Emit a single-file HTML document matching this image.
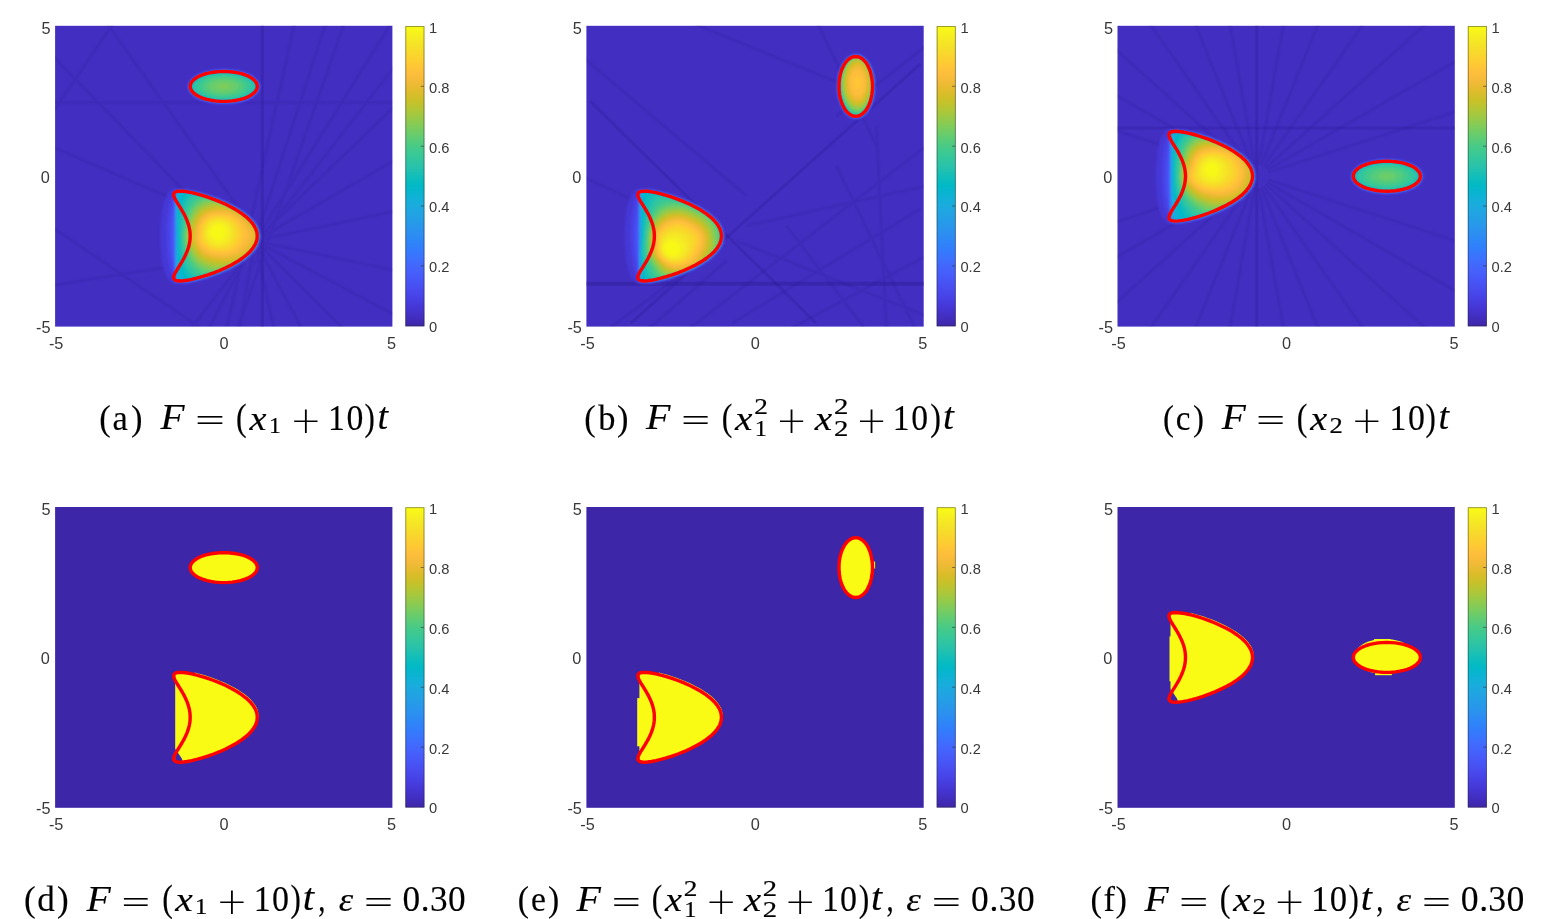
<!DOCTYPE html>
<html lang="en"><head><meta charset="utf-8"><title>Figure</title>
<style>html,body{margin:0;padding:0;background:#fff;}body{width:1551px;height:919px;overflow:hidden;}svg{display:block;}
.ax{font-family:"Liberation Sans",Arial,Helvetica,sans-serif;font-size:16.3px;fill:#383838;}
.cb{font-family:"Liberation Sans",Arial,Helvetica,sans-serif;font-size:14.7px;fill:#383838;}
.r{font-family:"Liberation Serif","Times New Roman",serif;font-size:36px;fill:#000;stroke:#000;stroke-width:.14px;}
.i{font-family:"Liberation Serif","Times New Roman",serif;font-size:36px;font-style:italic;fill:#000;stroke:#000;stroke-width:.14px;}
.s{font-family:"Liberation Serif","Times New Roman",serif;font-size:25px;fill:#000;stroke:#000;stroke-width:.24px;}
.p{font-family:"DejaVu Sans","Liberation Sans",sans-serif;font-weight:200;font-size:36px;fill:#000;}
</style></head><body>
<svg width="1551" height="919" viewBox="0 0 1551 919">
<defs>
<linearGradient id="cbar" x1="0" y1="0" x2="0" y2="1"><stop offset="0%" stop-color="#f9fb15"/><stop offset="3.1%" stop-color="#f6ef20"/><stop offset="6.2%" stop-color="#f5e327"/><stop offset="9.4%" stop-color="#f9d62d"/><stop offset="12.5%" stop-color="#feca33"/><stop offset="15.6%" stop-color="#febe3c"/><stop offset="18.8%" stop-color="#f1ba37"/><stop offset="21.9%" stop-color="#debc2a"/><stop offset="25%" stop-color="#c8c129"/><stop offset="28.1%" stop-color="#afc637"/><stop offset="31.2%" stop-color="#94ca4a"/><stop offset="34.4%" stop-color="#77cc60"/><stop offset="37.5%" stop-color="#5ccc76"/><stop offset="40.6%" stop-color="#44ca8a"/><stop offset="43.8%" stop-color="#34c79c"/><stop offset="46.9%" stop-color="#28c2ab"/><stop offset="50%" stop-color="#12beb9"/><stop offset="53.1%" stop-color="#01b9c6"/><stop offset="56.2%" stop-color="#0cb3d3"/><stop offset="59.4%" stop-color="#1aacdd"/><stop offset="62.5%" stop-color="#21a3e3"/><stop offset="65.6%" stop-color="#269ae9"/><stop offset="68.8%" stop-color="#2c90f0"/><stop offset="71.9%" stop-color="#2e85f8"/><stop offset="75%" stop-color="#347afd"/><stop offset="78.1%" stop-color="#3f6efe"/><stop offset="81.2%" stop-color="#4562fc"/><stop offset="84.4%" stop-color="#4757f7"/><stop offset="87.5%" stop-color="#484cef"/><stop offset="90.6%" stop-color="#4741e5"/><stop offset="93.8%" stop-color="#4536d5"/><stop offset="96.9%" stop-color="#422ebf"/><stop offset="100%" stop-color="#3e26a8"/></linearGradient>
<filter id="b1" filterUnits="userSpaceOnUse" x="0" y="0" width="1551" height="919"><feGaussianBlur stdDeviation="0.8"/></filter>
</defs>
<rect width="1551" height="919" fill="#fff"/>
<g id="p00">
<clipPath id="cp00"><rect x="55.1" y="25.8" width="337.3" height="300.8"/></clipPath>
<rect x="55.1" y="25.8" width="337.3" height="300.8" fill="#422fc2"/>
<g clip-path="url(#cp00)">
<g stroke="#2a1a90" fill="none"><path d="M50.1 102.6L400.1 102.6M255.1 240.8L409.6 -234.7M255.1 240.8L520.1 -183.2M255.1 240.8L614.8 -106.5M255.1 240.8L688.1 -9.2M255.1 240.8L744.2 136.8M255.1 240.8L744.2 344.8M255.1 240.8L696.6 475.5M255.1 240.8L608.7 594.4M255.1 240.8L489.8 682.3M255.1 240.8L359.1 729.9M255.1 240.8L168.3 733.2M255.1 240.8L20.4 682.3M47.1 49.8L255.1 263.8M105.1 20.8L251.1 225.8M295.1 20.8L225.1 335.8M345.1 20.8L235.1 335.8M395.1 65.8L185.1 335.8M50.1 145.8L235.1 225.8M50.1 225.8L205.1 330.8M115.1 20.8L50.1 115.8M50.1 285.8L175.1 265.8" stroke-width="4.5" stroke-opacity="0.07"/><path d="M50.1 102.6L400.1 102.6M255.1 240.8L409.6 -234.7M255.1 240.8L520.1 -183.2M255.1 240.8L614.8 -106.5M255.1 240.8L688.1 -9.2M255.1 240.8L744.2 136.8M255.1 240.8L744.2 344.8M255.1 240.8L696.6 475.5M255.1 240.8L608.7 594.4M255.1 240.8L489.8 682.3M255.1 240.8L359.1 729.9M255.1 240.8L168.3 733.2M255.1 240.8L20.4 682.3M47.1 49.8L255.1 263.8M105.1 20.8L251.1 225.8M295.1 20.8L225.1 335.8M345.1 20.8L235.1 335.8M395.1 65.8L185.1 335.8M50.1 145.8L235.1 225.8M50.1 225.8L205.1 330.8M115.1 20.8L50.1 115.8M50.1 285.8L175.1 265.8" stroke-width="1.8" stroke-opacity="0.09"/><path d="M262.4 20.8L262.4 335.8" stroke-width="3" stroke-opacity="0.3"/></g>
<g filter="url(#b1)">
<path d="M187.4 84.6 189.4 80.6 194.4 75.6 195.9 75.1 196.9 74.1 206.4 70.6 208.1 70.6 211.4 69.6 213.9 69.6 215.4 69.1 218.9 69.1 220.4 68.6 227.9 68.6 229.4 69.1 232.9 69.1 234.4 69.6 236.9 69.6 240.1 70.6 241.4 70.6 244.9 71.6 245.4 72.1 248.9 73.1 250.9 74.1 251.9 74.9 253.4 75.6 258.3 80.1 259.8 82.6 260.8 85.6 260.8 87.1 259.3 92.1 254.9 96.5 253.9 97 252.4 98.5 250.4 99.5 243.4 102.2 234.9 103.9 232.4 104 230.9 104.4 217.4 104.4 215.9 104 210.4 103.5 205.9 102.5 199.9 100.5 195.9 98.5 192.9 96.5 190.4 94.1 188.9 92.1 187.4 88.6ZM168.2 193.1 170.4 190.6 173.4 189.1 185.4 188.8 186.9 189.3 191.4 189.8 192.4 190.2 193.9 190.2 198.9 191.7 199.9 191.7 202.4 192.7 203.4 192.7 205.9 193.6 207.4 193.8 208.9 194.6 212.9 195.7 214.4 196.6 218.4 197.7 221.9 199.6 224.4 200.2 225.5 201.1 226.4 201.2 227.6 202.1 228.4 202.2 229.6 203.1 230.4 203.2 231.6 204.1 236.4 206.2 238.1 207.6 238.9 207.7 242.6 210.6 244.4 211.3 249.4 215.3 251.3 217.6 253.1 219.1 253.9 220.3 255.6 222.1 256.3 223.6 257.1 224.1 258.7 227.1 258.8 228.1 259.7 229.6 260.3 233.6 260.7 234.1 260.8 238.1 260.3 239.1 259.7 243.1 258.8 244.6 258.7 245.6 257.7 247.6 254.6 252.1 253.8 252.6 249.4 257.3 244.4 261.3 242.6 262 239.9 264.3 238.1 265 236.4 266.4 233.6 267.5 231.9 268.9 229 270 227.9 270.9 225.5 271.5 224.4 272.4 221.9 273 220.9 273.9 219.9 274 218.4 274.9 217.4 275 216.9 275.4 214.4 276 212.9 276.8 208.9 278 207.4 278.8 202.4 279.9 200.4 280.9 198.9 280.9 194.4 282.3 192.4 282.4 189.4 283.3 187.4 283.3 185.9 283.8 175.9 283.5 175.4 283.2 173.4 283.2 171.4 282.3 169.3 280.5 167.3 277.5 165.6 274 163.9 269 162.6 263.5 161.7 257.5 160.5 243.1 160.6 226.6 162 212.1 163.2 206.1 164.5 201.1 166.3 196.6Z" fill="#4538d7"/>
<path d="M188.1 85.1 188.3 84.1 190.2 80.6 194.4 76.4 195.9 75.8 197.4 74.6 205.9 71.4 207.9 71.3 210.9 70.4 213.9 70.3 215.4 69.8 218.9 69.8 220.4 69.3 227.9 69.4 229.4 69.8 232.9 69.8 234.4 70.3 237.4 70.4 240.4 71.3 241.9 71.4 244.3 72.1 245.4 72.8 247.9 73.4 249.4 74.3 250.4 74.6 253.4 76.4 257.5 80.1 258.9 82.1 260 85.6 260.1 87.1 259.5 89.6 258.5 92.1 254.9 95.7 252.4 97.7 247.2 100.1 242.9 101.7 241.4 101.7 238.4 102.7 236.4 102.7 235.4 103.2 232.4 103.2 231.4 103.7 217.4 103.7 215.9 103.2 213.4 103.2 211.9 102.7 209.9 102.7 206.9 101.8 205.4 101.7 203.4 100.8 200.4 100 199.4 99.3 196.4 98 192.9 95.7 189.3 91.6 188.1 88.6ZM173.9 190.7 174.9 190.1 176.9 189.5 185.9 189.4 186.9 189.8 188.9 189.8 192.4 190.7 193.9 190.8 199.9 192.2 202.4 193.1 203.4 193.1 205.9 194.1 206.9 194.1 208.9 195 218.4 198.2 221.9 199.9 224.4 200.6 225.4 201.4 236.9 206.9 237.9 207.8 239.4 208.4 242.4 210.8 243.9 211.4 249.1 215.6 252.9 219.3 257.1 224.6 259.5 230.1 260.5 235.1 260.5 238.1 260.1 239.1 260 240.6 258.3 245.6 257 248.1 254.5 251.6 249.1 257 243.9 261.2 242.4 261.8 239.4 264.2 237.9 264.8 236.9 265.7 233.4 267.2 232.4 268.2 228.9 269.7 227.9 270.4 225.4 271.2 224.4 271.9 221.9 272.7 220.9 273.4 208.9 277.5 207.4 278.3 202.4 279.5 200.4 280.4 198.9 280.4 194.4 281.8 192.4 281.8 189.4 282.7 187.4 282.8 185.9 283.2 176.9 283.1 174 282 173.4 281 173.2 278 171.5 274.5 170 270.5 168 262 166.6 250.1 166 236.6 166.5 222.6 167.9 210.6 169.7 202.6 171.3 198.1 173.2 194.1 173.4 191.6Z" fill="#4740e4"/>
<path d="M188.4 85.1 190.2 81.1 194.7 76.6 196.1 76.1 197.4 75 205.9 71.8 207.9 71.7 210.9 70.8 213.9 70.7 215.4 70.2 218.9 70.2 220.4 69.7 227.9 69.7 229.4 70.2 232.9 70.2 234.4 70.7 237.4 70.8 240.4 71.7 241.9 71.8 243.9 72.3 245.4 73.2 247.9 73.8 253 76.6 257.4 80.4 258.7 82.6 259.7 85.6 259.8 87.1 258.4 91.6 255.9 94.2 251.9 97.6 246.9 99.8 242.9 101.3 241.4 101.4 238.4 102.3 236.4 102.4 234.9 102.9 232.4 102.9 230.9 103.4 217.4 103.4 215.9 102.9 213.4 102.9 211.9 102.4 209.9 102.3 206.9 101.4 205.4 101.3 201.9 99.9 200.9 99.8 196.4 97.6 193.2 95.6 189.7 91.6 188.5 88.6ZM174.1 191.1 176.9 189.9 185.4 189.7 186.9 190.2 188.9 190.2 192.4 191.1 193.9 191.1 206.9 194.4 218.4 198.5 221.9 200.2 224.4 200.9 229.4 203.7 230.4 203.9 231.4 204.6 232.4 204.9 233.4 205.6 234.4 205.9 235.4 206.6 236.4 206.9 237.9 208.1 239.4 208.7 242.4 211.1 243.9 211.6 247.9 215.1 248.9 215.6 252.8 219.6 253.3 220.6 256.9 224.7 259.3 230.1 260.3 235.1 260.3 237.6 259.8 239.1 259.8 240.6 258.1 245.6 256.9 247.9 255.8 249.1 254.3 251.6 248.9 256.9 247.9 257.5 245.9 259.4 243.4 261.2 242.4 261.5 239.2 264 237.9 264.5 236.4 265.7 233.4 266.9 232.1 268 228.9 269.4 227.9 270.2 225.4 270.9 224.4 271.7 221.9 272.4 220.9 273.1 206.9 278.2 202.4 279.2 200.4 280.1 198.9 280.1 194.4 281.5 192.4 281.5 189.4 282.4 187.4 282.4 185.9 282.9 176.9 282.7 174.4 281.8 173.8 280.5 173.5 272 171.5 264 170.2 255.6 169.4 246.6 169.1 236.6 169.4 226.6 170.1 217.6 171.5 208.1 173.4 200.6 173.8 192.1Z" fill="#4849ed"/>
<path d="M188.8 85.1 190.6 81.1 194.9 76.8 196.4 76.3 197.9 75.1 205.9 72.1 207.9 72 210.9 71.1 213.9 71 215.4 70.5 218.9 70.5 220.4 70 227.9 70 229.4 70.5 232.9 70.5 234.4 71 237.4 71.1 240.4 72 241.9 72.1 243.9 72.6 245.4 73.5 247.9 74.1 248.9 74.8 250.4 75.3 252.9 76.8 257.1 80.6 258.3 82.6 259.3 85.6 259.4 87.1 258.1 91.6 255.4 94.3 251.9 97.2 246.9 99.5 242.9 101 241.3 101.1 238.4 102 236.3 102.1 235.4 102.5 232.3 102.6 231.4 103 217.4 103 215.9 102.6 213.4 102.5 211.9 102.1 209.9 102 206.9 101.1 205.4 101 201.9 99.6 200.9 99.5 199.9 98.7 196.4 97.2 193.4 95.3 190.1 91.6 188.9 88.6ZM174.4 191.2 176.9 190.2 185.9 190.1 186.9 190.5 188.4 190.5 192.4 191.4 193.9 191.4 206.9 194.7 217.9 198.6 221.9 200.4 224.4 201.2 233.4 205.9 234.4 206.1 235.4 206.9 236.4 207.1 237.9 208.4 238.9 208.6 242.4 211.3 243.9 211.9 248.9 215.9 252.5 219.6 256.8 225.1 259 230.1 260.1 235.1 260.1 237.6 259.6 239.1 259.5 240.6 258.9 243 256.8 247.6 254 251.6 248.9 256.6 247.9 257.2 245.9 259.1 243.4 261 242.4 261.2 238.9 264 237.9 264.2 236.4 265.5 233.4 266.7 231.9 267.9 230.9 268.2 227.9 269.9 225.4 270.6 224.4 271.4 221.9 272.1 220.9 272.8 206.9 277.9 202.4 278.9 200.4 279.7 198.9 279.8 194.4 281.1 192.4 281.2 189.4 282 187.4 282 185.9 282.5 176.9 282.4 174.5 281.5 174.1 280.5 173.9 264.4 173 260.5 172 252.6 171.3 236.6 172 220.1 172.9 212.1 173.9 207.8 174 192.1Z" fill="#4852f4"/>
<path d="M189 85.1 190.9 81.1 195 77.1 196.4 76.6 197.9 75.3 198.9 75.1 200.4 74.3 202.9 73.6 205.9 72.3 208.4 72.1 211.4 71.2 213.9 71.2 215.4 70.7 218.9 70.7 220.4 70.2 227.9 70.2 229.4 70.7 232.9 70.7 234.4 71.2 236.9 71.2 239.9 72.1 241.9 72.3 242.4 72.7 243.9 72.8 244.9 73.6 247.9 74.3 248.9 75.1 249.9 75.3 252.7 77.1 256.9 80.7 258.1 82.6 259.1 85.6 259.2 87.1 258.1 91.1 254.9 94.4 251.4 97.3 250.4 97.4 249.4 98.3 248.4 98.4 246.9 99.3 244.4 99.9 242.9 100.8 240.9 100.9 238.4 101.8 235.9 101.9 234.9 102.3 231.9 102.4 230.9 102.8 217.4 102.8 216.4 102.4 213.4 102.3 212.4 101.9 209.9 101.8 207.4 100.9 205.4 100.8 202.4 99.4 200.9 99.3 199.9 98.4 198.9 98.3 196.9 97.3 193.5 95.1 190.1 91.1 189.1 88.6ZM174.4 191.6 174.9 191.1 176.9 190.4 185.4 190.3 186.4 190.7 188.4 190.7 189.4 191.1 191.4 191.2 191.9 191.6 193.9 191.7 206.9 195 217.9 198.8 221.5 200.6 224.4 201.5 225.1 202.1 236.4 207.4 237.8 208.6 238.9 208.9 241.9 211.3 243.4 211.9 248.6 216.1 252.4 219.8 256.6 225.1 258.8 230.1 259.4 233.6 259.8 234.6 259.9 237.6 258.8 242.6 256.6 247.6 253.9 251.3 252.9 252 251.4 253.8 248.6 256.5 243.4 260.7 242.2 261 238.9 263.7 237.7 264 236.4 265.2 233.1 266.5 231.9 267.6 230.6 268 227.4 269.8 224.9 270.5 223.9 271.3 221.4 272 220.4 272.8 206.9 277.6 202.4 278.6 200.4 279.5 196.5 280 194.4 280.9 191.9 281 189.4 281.8 186.9 281.9 185.9 282.3 176.9 282.2 174.9 281.5 174.3 280.5 174 257 173.2 246.1 172.9 237.1 173.1 226.6 174 215.6Z" fill="#475bf9"/>
<path d="M189.2 85.1 190.9 81.5 195.3 77.1 196.4 76.8 197.9 75.5 198.9 75.4 200.4 74.5 202.9 73.9 205.9 72.5 208.4 72.4 211.4 71.4 214.4 71.4 215.4 70.9 219.4 70.9 220.4 70.4 227.9 70.4 228.9 70.9 232.9 70.9 233.9 71.4 236.9 71.4 239.9 72.4 241.4 72.4 242.4 72.9 243.9 73 244.9 73.9 246.4 74 247.9 74.5 248.9 75.4 249.9 75.5 250.9 76.4 252.4 77.1 256.9 81 257.9 82.6 258.9 85.6 259 87.1 257.9 91.1 254.4 94.6 251.4 97 250.4 97.2 249.4 98 248.4 98.2 246.9 99 244.4 99.7 242.4 100.7 240.9 100.7 237.9 101.7 235.9 101.7 234.9 102.2 231.9 102.2 230.9 102.6 217.4 102.7 216.4 102.2 213.4 102.2 212.4 101.7 210.4 101.7 207.4 100.7 205.4 100.6 202.4 99.2 200.9 99 199.9 98.2 198.9 98.1 196.9 97.1 193.8 95.1 190.3 91.1 189.2 88.1ZM174.7 191.6 176.9 190.6 185.4 190.5 186.4 190.9 188.4 190.9 189.4 191.3 193.9 191.9 194.4 192.2 199.9 193.3 201.9 194.1 203.4 194.2 205.4 195.1 206.9 195.2 208.4 196 217.9 199.1 221.4 200.8 224 201.6 228.9 204.2 230.4 204.7 230.9 205.2 232.4 205.7 232.9 206.1 234.4 206.6 234.9 207.1 236.4 207.6 237.4 208.6 238.9 209.1 241.9 211.6 243.4 212.1 247.4 215.6 248.4 216.1 252.3 220.1 252.8 221.1 256.3 225.1 258.6 230.1 259.6 235.1 259.6 237.6 259.1 239.1 259.1 240.6 257.3 245.6 256.3 247.6 255.3 248.6 253.8 251.1 248.4 256.5 247.4 257 245.4 259 243.4 260.5 241.9 261 238.9 263.4 237.4 263.9 236.4 264.9 232.9 266.4 231.9 267.4 228.4 268.9 227.9 269.3 224.9 270.3 223.9 271 221.4 271.8 220.4 272.5 208.4 276.5 206.9 277.4 201.9 278.5 200.4 279.3 198.4 279.4 194.4 280.7 191.9 280.8 188.9 281.7 186.9 281.7 185.9 282.1 176.9 281.9 174.9 281.2 174.5 280.5Z" fill="#4564fd"/>
<path d="M189.4 85.1 191 81.6 195.4 77.2 196.4 77.1 197.9 75.7 198.9 75.6 200.4 74.7 202.9 74.1 206.4 72.6 208.4 72.6 211.4 71.6 214.4 71.6 215.4 71.1 219.4 71.1 220.4 70.6 227.9 70.6 228.9 71.1 232.9 71.1 233.9 71.6 236.9 71.6 239.9 72.6 241.4 72.6 242.4 73.1 243.9 73.3 244.9 74.1 246.4 74.2 247.9 74.8 248.9 75.6 249.9 75.7 250.8 76.6 252.4 77.2 256.7 81.1 257.7 82.6 258.8 86.1 258.8 87.1 257.7 91.1 253.9 94.8 252.9 95.4 251.4 96.8 250.4 97 249.4 97.8 248.4 98 246.9 98.8 244.4 99.5 242.4 100.5 240.9 100.5 237.9 101.5 235.9 101.5 234.9 102 231.9 102 230.9 102.5 217.4 102.5 216.4 102 213.4 102 212.4 101.5 210.4 101.5 207.4 100.5 205.9 100.5 202.4 99 200.9 98.8 199.9 98 198.9 97.8 196.9 96.8 193.9 94.9 190.5 91.1 189.4 88.1ZM174.9 191.7 176.9 190.9 185.4 190.7 186.4 191.1 188.4 191.1 189.4 191.6 193.7 192.1 194.4 192.4 199.9 193.5 201.9 194.3 203.4 194.4 205.4 195.2 206.9 195.4 208.4 196.2 217.9 199.2 221.4 201 223.9 201.7 224.9 202.5 225.9 202.7 226.9 203.4 227.9 203.6 228.9 204.4 229.9 204.6 230.9 205.4 231.9 205.6 232.9 206.4 235.9 207.6 237.4 208.9 238.9 209.4 241.9 211.8 243.4 212.4 247.4 215.8 248.4 216.4 252.1 220.1 252.6 221.1 254.6 223.1 255.3 224.6 256.1 225.1 258.3 230.1 259.4 235.1 259.4 237.6 258.9 239.1 258.8 240.6 258.3 242.6 256.3 247.1 253.5 251.1 252.7 251.6 248.4 256.2 247.4 256.7 245.4 258.7 243.4 260.2 241.9 260.7 238.9 263.2 237.4 263.7 235.9 265 232.9 266.1 231.4 267.4 230.4 267.6 229.4 268.4 228.4 268.6 227.4 269.4 224.9 270.1 223.9 270.9 221.4 271.5 220.4 272.4 219.4 272.5 217.9 273.3 208.4 276.4 206.9 277.2 201.9 278.3 200.4 279.1 196.4 279.6 193.9 280.6 191.9 280.5 188.9 281.5 186.9 281.4 185.9 281.9 176.9 281.7 175.1 281 174.8 280.5Z" fill="#406dfe"/>
<path d="M189.5 85.1 191.2 81.6 195.4 77.5 196.7 77.1 197.9 76 206.4 72.8 208.4 72.7 211.4 71.8 214.4 71.7 215.4 71.3 219.4 71.2 220.4 70.8 227.9 70.8 228.9 71.3 232.9 71.3 233.9 71.8 236.9 71.8 239.9 72.8 241.4 72.8 243.9 73.5 244.9 74.3 247.4 74.8 248.9 75.8 249.9 76 252.4 77.5 256.4 81.1 257.6 83.1 258.6 86.1 258.6 87.1 257.4 91.1 253.9 94.6 252.9 95.1 251.4 96.6 250.4 96.8 249.4 97.6 242.4 100.3 240.9 100.3 237.9 101.3 235.9 101.3 234.9 101.8 231.9 101.8 230.9 102.3 217.4 102.3 216.4 101.8 213.4 101.8 212.4 101.3 210.4 101.3 207.4 100.3 205.9 100.3 203.9 99.3 200.9 98.6 199.9 97.8 196.9 96.6 193.9 94.6 190.7 91.1 189.6 88.1ZM174.9 192.1 175.4 191.6 176.4 191.6 176.9 191.1 185.4 190.9 186.4 191.3 188.4 191.3 189.4 191.7 193.4 192.2 194.4 192.6 195.4 192.6 196.4 193.1 199.9 193.7 201.9 194.5 203.4 194.6 205.4 195.4 206.9 195.5 208.4 196.4 217.9 199.4 221.4 201.2 223.9 201.8 224.9 202.7 225.9 202.8 226.9 203.6 227.9 203.8 228.9 204.6 229.9 204.8 230.9 205.6 231.9 205.8 234.9 207.6 235.9 207.8 237.4 209.1 238.8 209.6 241.9 212.1 242.9 212.2 247.3 216.1 248.3 216.6 251.9 220.1 252.4 221.1 254.4 223.1 255.2 224.6 256.2 225.6 258.2 230.1 258.9 234 259.2 234.6 259.3 237.6 258.2 242.6 256.2 247.1 254.8 248.6 253.4 251 252.4 251.5 251.9 252.5 248.3 256 247.3 256.5 243.3 260 241.9 260.5 238.7 263 237.4 263.5 235.9 264.8 234.9 265 233.9 265.8 232.9 266 231.4 267.3 230.4 267.4 229.4 268.3 228.4 268.4 227.4 269.3 224.9 269.9 223.9 270.7 221.4 271.4 220.4 272.2 213.9 274.3 212.4 275.1 208.4 276.2 206.9 277 205.4 277.1 202.9 278.1 201.9 278.1 199.9 279 198.4 279 197.4 279.5 196.4 279.5 193.9 280.4 191.9 280.4 188.9 281.3 186.9 281.2 185.9 281.7 176.9 281.5 176.4 281 175.4 281 174.9 280.5Z" fill="#3777fe"/>
<path d="M189.7 85.1 191.4 81.8 195.6 77.6 196.9 77.2 198.1 76.1 203.4 74.3 204.9 73.5 206.4 73 208.4 72.9 211.4 72 214.4 71.9 215.4 71.4 219.4 71.4 220.4 71 227.9 71 228.9 71.4 232.9 71.5 233.9 71.9 236.9 72 239.9 72.9 241.4 73 242.4 73.4 243.6 73.6 244.4 74.3 247.4 75 248.4 75.8 249.6 76.1 250.4 76.8 252.1 77.6 256.4 81.3 257.5 83.1 258.4 86.1 258.4 87.1 257.4 90.8 253.6 94.6 252.9 94.8 251 96.6 249.9 96.8 249 97.6 243.9 99.2 242.4 100.1 240.4 100.2 237.9 101.1 235.9 101.1 234.9 101.6 231.9 101.6 230.9 102.1 217.4 102.1 216.4 101.6 213.4 101.6 212.4 101.1 210.4 101.1 207.4 100.1 205.9 100.1 204.4 99.3 201.4 98.6 200.4 97.8 199.4 97.6 197.1 96.6 194.1 94.6 190.9 90.8 189.7 88.1ZM175.1 192.1 175.4 191.8 176.4 191.7 176.9 191.2 185.4 191.1 185.9 191.5 188.4 191.5 189.4 191.9 193.4 192.3 194.4 192.8 199.4 193.7 201.9 194.7 202.9 194.6 205.4 195.6 206.9 195.7 208.4 196.5 217.9 199.5 221.4 201.4 223.9 202 224.9 202.8 225.9 203 226.9 203.8 227.9 203.9 228.9 204.8 229.9 204.9 230.9 205.8 231.9 205.9 234.9 207.7 235.9 207.9 237.4 209.2 238.6 209.6 241.9 212.2 242.9 212.4 247.1 216.1 248.1 216.6 251.9 220.3 252.4 221.3 254.4 223.3 255 224.6 256 225.6 258.1 230.1 258.7 234.1 259.1 235.1 259.1 237.6 258.7 238.6 258 242.6 256 247.1 254.7 248.6 253.4 250.8 252.4 251.4 251.9 252.3 248.1 256 247.1 256.5 243.1 260 241.9 260.3 238.4 263.2 237.4 263.3 235.9 264.7 234.9 264.8 233.9 265.7 232.9 265.8 231.4 267.1 230.4 267.3 229.4 268.1 228.4 268.3 227.4 269.1 224.9 269.7 223.9 270.6 221.4 271.2 220.4 272 213.9 274.1 212.4 274.9 208.4 276 206.9 276.8 205.4 276.9 202.9 277.9 201.9 277.9 199.9 278.8 198.4 278.8 197.4 279.3 196.4 279.3 193.9 280.2 191.9 280.2 190.9 280.6 189.4 280.7 188.9 281.1 186.4 281 185.9 281.5 176.9 281.3 176.4 280.8 175.4 280.8 175.1 280.5Z" fill="#2f80fa"/>
<path d="M189.9 85.1 191.4 82.6 191.4 82.1 195.9 77.6 196.9 77.6 198.4 76.1 199.4 76.1 200.9 75.1 201.9 75.1 202.4 74.6 203.4 74.6 204.9 73.6 205.9 73.6 206.4 73.1 208.9 73.1 209.4 72.6 210.9 72.6 211.4 72.1 214.9 72.1 215.4 71.6 219.9 71.6 220.4 71.1 227.9 71.1 228.4 71.6 232.9 71.6 233.4 72.1 236.9 72.1 237.4 72.6 238.9 72.6 239.4 73.1 241.4 73.1 241.9 73.6 243.4 73.6 244.4 74.6 245.9 74.6 246.4 75.1 247.4 75.1 248.4 76.1 249.4 76.1 250.4 77.1 251.9 77.6 256.3 81.6 256.3 82.1 257.3 83.1 257.8 85.6 258.3 86.1 258.3 87.1 257.8 87.6 257.8 89.1 257.3 89.6 257.3 90.6 253.4 94.5 252.9 94.5 250.9 96.5 249.9 96.5 248.9 97.5 247.9 97.5 246.4 98.5 245.4 98.5 244.9 99 243.9 99 242.4 100 240.4 100 239.9 100.5 238.4 100.5 237.9 101 235.4 101 234.9 101.5 231.4 101.5 230.9 102 217.4 102 216.9 101.5 213.4 101.5 212.9 101 210.4 101 209.9 100.5 208.4 100.5 207.9 100 205.9 100 204.4 99 203.4 99 202.9 98.5 201.4 98.5 200.4 97.5 199.4 97.5 197.9 96.5 197.4 96.5 194.9 94.5 194.4 94.5 190.9 90.6 190.9 90.1 190.4 89.6 190.4 88.6 189.9 88.1ZM175.2 192.1 176.4 191.9 176.9 191.4 185.4 191.2 185.9 191.7 188.4 191.6 188.9 192.1 190.9 192.1 191.4 192.6 193.4 192.5 193.9 192.9 195.4 193 196.4 193.4 199.4 193.9 201.9 194.8 202.9 194.8 205.4 195.7 206.4 195.7 208.4 196.7 212.4 197.8 213.9 198.6 217.9 199.7 221.4 201.5 223.9 202.1 224.9 203 225.9 203.1 226.9 204 227.9 204.1 230.9 205.9 231.9 206.1 232.9 206.9 233.9 207.1 234.9 207.9 235.9 208 237.4 209.4 238.4 209.6 241.9 212.4 242.9 212.5 246.9 216.1 247.9 216.6 251.9 220.5 252.4 221.5 255.9 225.6 257.9 230.1 258.1 231.6 258.5 232.6 258.6 234.1 259 235.1 259 237.6 258.6 238.6 258.5 240.1 258.1 241.1 257.9 242.6 255.9 247.1 254.9 248.1 253.4 250.6 252.4 251.2 250.9 253.1 247.9 256 246.9 256.5 242.9 260 241.9 260.2 238.4 263 237.4 263.2 235.9 264.5 234.9 264.7 233.9 265.5 232.9 265.6 231.4 267 230.4 267.1 227.4 268.9 224.9 269.6 223.9 270.4 221.4 271 220.4 271.9 219.4 272 217.9 272.8 213.9 273.9 212.4 274.7 208.4 275.8 206.4 276.8 205.4 276.8 202.9 277.7 201.9 277.7 199.9 278.7 198.4 278.7 197.4 279.1 195.9 279.2 195.4 279.6 194.4 279.6 193.9 280 191.4 280 190.9 280.5 189.4 280.5 188.9 281 186.4 280.9 185.9 281.4 176.9 281.2 176.4 280.7 175.4 280.7Z" fill="#2d89f5"/>
<path d="M190 85.1 191.5 82.6 191.5 82.1 195.9 77.7 196.9 77.7 198.4 76.2 199.4 76.2 200.9 75.2 201.9 75.2 202.4 74.7 203.4 74.7 204.9 73.7 205.9 73.7 206.4 73.2 208.9 73.2 209.4 72.7 210.9 72.7 211.4 72.2 214.9 72.2 215.4 71.7 219.9 71.7 220.4 71.2 227.9 71.2 228.4 71.7 232.9 71.7 233.4 72.2 236.9 72.2 237.4 72.7 238.9 72.7 239.4 73.2 241.4 73.2 241.9 73.7 243.4 73.7 244.4 74.7 245.9 74.7 246.4 75.2 247.4 75.2 248.4 76.2 249.4 76.2 250.4 77.2 251.9 77.7 254.4 80.2 254.9 80.2 256.2 81.6 256.2 82.1 257.2 83.1 257.7 85.6 258.2 86.1 258.2 87.1 257.7 87.6 257.7 89.1 257.2 89.6 257.2 90.6 253.4 94.4 252.9 94.4 250.9 96.4 249.9 96.4 248.9 97.4 247.9 97.4 246.4 98.4 245.4 98.4 244.9 98.9 243.9 98.9 242.4 99.8 240.4 99.9 239.9 100.4 238.4 100.4 237.9 100.8 235.4 100.9 234.9 101.3 231.4 101.4 230.9 101.8 217.4 101.9 216.9 101.4 213.4 101.4 212.9 100.9 210.4 100.9 209.9 100.4 208.4 100.4 207.9 99.9 205.9 99.9 204.4 98.9 203.4 98.9 202.9 98.4 201.4 98.4 200.4 97.4 199.4 97.4 197.9 96.4 197.4 96.4 194.9 94.4 194.4 94.4 191 90.6 191 90.1 190.5 89.6 190.5 88.6 190 88.1ZM175.5 192.1 176.4 192 176.9 191.5 185.4 191.3 185.9 191.8 188.4 191.7 188.9 192.2 190.9 192.2 191.4 192.7 193.4 192.6 193.9 193.1 195.4 193.1 195.9 193.6 197.4 193.6 197.9 194.1 199.4 194 201.4 194.9 202.9 195 205.4 195.9 206.4 195.9 208.4 196.8 217.9 199.9 221.4 201.7 223.9 202.3 226.9 204.1 227.9 204.2 228.9 205.1 229.9 205.2 230.9 206.1 231.9 206.2 232.9 207.1 233.9 207.2 234.9 208 235.9 208.2 237.4 209.5 238.4 209.7 241.9 212.5 242.9 212.7 246.9 216.2 247.9 216.7 251.7 220.6 252.2 221.6 254.2 223.6 254.9 224.9 255.7 225.6 257.9 230.3 257.9 231.6 258.4 232.6 258.4 234.1 258.9 235.1 258.9 237.6 258.4 238.6 258.4 240.1 256.7 245.1 255.7 247.1 254.7 248.1 253.2 250.6 252.4 251.1 251.7 252.1 247.9 255.9 246.9 256.4 244.9 258.4 242.9 259.9 241.8 260 238.4 262.9 237.4 263 235.9 264.4 234.9 264.5 233.9 265.3 232.9 265.5 231.4 266.8 230.4 267 229.4 267.8 228.4 268 227.4 268.8 224.9 269.4 223.9 270.2 221.4 270.9 220.4 271.7 213.9 273.8 211.9 274.7 207.9 275.9 206.4 276.6 204.9 276.7 202.9 277.6 201.4 277.6 199.9 278.5 197.9 278.5 197.4 279 195.9 279 195.4 279.5 194.4 279.4 193.9 279.9 191.4 279.9 190.9 280.4 189.4 280.3 188.9 280.8 186.4 280.8 185.9 281.3 176.9 281 176.4 280.5 175.9 280.5 175.4 280 175.3 264.5Z" fill="#2b91ef"/>
<path d="M190.1 85.1 191.6 82.6 191.6 82.1 195.9 77.8 196.9 77.8 198.4 76.3 199.4 76.3 200.9 75.3 201.9 75.3 202.4 74.8 203.4 74.8 204.9 73.8 205.9 73.8 206.4 73.3 208.9 73.3 209.4 72.8 210.9 72.8 211.4 72.3 214.9 72.3 215.4 71.8 219.9 71.8 220.4 71.3 227.9 71.3 228.4 71.8 232.9 71.8 233.4 72.3 236.9 72.3 237.4 72.8 238.9 72.8 239.4 73.3 241.4 73.3 241.9 73.8 243.4 73.8 244.4 74.8 245.9 74.8 246.4 75.3 247.4 75.3 248.4 76.3 249.4 76.3 250.4 77.3 251.9 77.8 254.4 80.3 254.9 80.3 256.1 81.6 256.1 82.1 257.1 83.1 257.6 85.6 258.1 86.1 258.1 87.1 257.6 87.6 257.6 89.1 257.1 89.6 257 90.6 253.4 94.2 252.9 94.3 250.9 96.2 249.9 96.3 248.9 97.2 247.9 97.3 246.4 98.2 245.4 98.3 244.9 98.7 243.9 98.8 242.4 99.7 240.4 99.8 239.9 100.2 238.4 100.3 237.9 100.7 235.4 100.8 234.9 101.2 231.4 101.3 230.9 101.7 217.4 101.7 216.9 101.3 213.4 101.2 212.9 100.8 210.4 100.7 209.9 100.3 208.4 100.2 207.9 99.8 205.9 99.7 204.4 98.8 203.4 98.8 202.9 98.3 201.4 98.2 200.4 97.3 199.4 97.2 197.9 96.3 197.4 96.3 194.9 94.3 194.4 94.3 191.1 90.6 191.1 90.1 190.6 89.6 190.6 88.6 190.1 88.1ZM175.7 192.6 177.4 191.8 185.4 191.4 185.9 191.9 188.4 191.9 188.9 192.3 190.9 192.3 191.4 192.8 193.4 192.8 193.9 193.2 195.4 193.2 195.9 193.7 197.4 193.7 197.9 194.2 199.4 194.1 199.9 194.6 200.9 194.6 201.4 195.1 202.9 195.1 203.4 195.6 204.4 195.6 204.9 196.1 206.4 196 207.9 196.9 211.9 197.9 213.9 198.9 217.9 200 221.4 201.8 223.9 202.5 226.9 204.2 227.9 204.4 228.9 205.2 229.9 205.4 230.9 206.2 231.9 206.4 232.9 207.2 233.9 207.4 234.9 208.2 235.9 208.3 237.2 209.6 238.4 209.8 241.7 212.6 242.9 212.8 246.9 216.3 247.9 216.8 249.9 219.1 251.6 220.6 252.1 221.6 254.1 223.6 254.8 225.1 255.6 225.6 257.6 230.1 257.8 231.6 258.3 232.6 258.3 234.1 258.8 235.1 258.8 237.6 258.3 238.6 258.3 240.1 257.8 241.1 257.6 242.6 255.6 247.1 254.6 248.1 253.1 250.6 252.2 251.1 251.6 252.1 249.4 254.3 242.9 259.7 241.6 260 238.4 262.7 237.4 262.9 235.9 264.2 232.9 265.4 231.4 266.7 230.4 266.8 227.4 268.6 224.9 269.3 223.9 270.1 221.4 270.8 220.3 271.5 213.4 273.8 211.9 274.6 209.4 275.1 208.9 275.5 207.9 275.5 206.4 276.5 204.9 276.5 204.4 277 203.4 277 202.9 277.5 201.4 277.4 199.9 278.4 197.9 278.4 197.4 278.9 195.9 278.9 195.4 279.3 194.4 279.3 193.9 279.8 191.4 279.8 190.9 280.2 189.4 280.2 188.9 280.7 186.4 280.6 185.9 281.1 177.4 280.7 175.9 280.1 175.5 253.6 175.9 236.1 175.5 219.6Z" fill="#2699e9"/>
<path d="M190.2 85.1 191.7 82.6 191.7 82.1 195.9 78 196.9 77.9 198.4 76.5 199.4 76.4 200.9 75.4 201.9 75.4 202.4 74.9 203.4 74.9 204.9 73.9 205.9 73.9 206.4 73.5 208.9 73.4 209.4 72.9 210.9 72.9 211.4 72.4 214.9 72.4 215.4 71.9 219.9 71.9 220.4 71.4 227.9 71.5 228.4 71.9 232.9 71.9 233.4 72.4 236.9 72.5 237.4 72.9 238.9 72.9 239.4 73.4 241.4 73.5 241.9 73.9 243.4 74 244.4 74.9 245.9 75 246.4 75.4 247.4 75.5 248.4 76.4 249.4 76.5 250.4 77.4 251.9 78 254.4 80.4 254.9 80.5 255.9 81.6 256 82.1 256.9 83.1 257.4 85.6 257.9 86.1 257.9 87.1 257.4 87.6 257.4 89.1 256.9 89.6 256.9 90.6 253.4 94.1 252.9 94.1 250.9 96.1 249.9 96.1 248.9 97.1 247.9 97.1 246.4 98.1 245.4 98.1 244.9 98.6 243.9 98.6 242.4 99.6 240.4 99.6 239.9 100.1 238.4 100.1 237.9 100.6 235.4 100.6 234.9 101.1 231.4 101.1 230.9 101.6 217.4 101.6 216.9 101.1 213.4 101.1 212.9 100.7 210.4 100.6 209.9 100.1 208.4 100.1 207.9 99.7 205.9 99.6 204.4 98.7 203.4 98.6 202.9 98.2 201.4 98.1 200.4 97.2 199.4 97.1 197.9 96.1 197.4 96.1 194.9 94.2 194.4 94.1 191.3 90.6 191.2 90.1 190.8 89.6 190.7 88.6 190.2 88.1ZM176.1 193.1 177.9 192.2 185.4 191.6 185.9 192 188.4 192 188.9 192.5 190.9 192.4 191.4 192.9 193.4 192.9 193.9 193.3 195.4 193.3 195.9 193.8 197.4 193.8 197.9 194.3 199.4 194.2 199.9 194.7 200.9 194.7 201.4 195.2 202.9 195.2 203.4 195.7 204.4 195.7 204.9 196.2 206.4 196.1 207.9 197.1 208.9 197.1 209.4 197.6 211.9 198.1 213.4 199 214.4 199 214.9 199.4 217.4 200 220.9 201.7 223.7 202.6 224.4 203.1 227.8 204.6 230.9 206.3 231.9 206.5 232.9 207.3 233.9 207.5 234.9 208.3 235.9 208.5 237 209.6 238.4 210 241.5 212.6 242.9 213 246.9 216.5 247.9 217 249.9 219.3 251.4 220.6 252 221.6 253.9 223.6 254.6 225.1 255.5 225.6 257.7 230.6 257.7 231.6 258.2 232.6 258.2 234.1 258.7 235.1 258.7 237.6 258.2 238.6 258.2 240.1 257.7 241.1 257.7 242.1 255.4 247.1 254.4 248.1 252.9 250.6 252 251.1 251.4 252.1 249.4 254.1 242.9 259.6 241.4 260 238.4 262.6 237.4 262.8 235.8 264 232.4 265.5 231.3 266.5 227.9 267.9 226.9 268.7 224.4 269.3 223.4 270.1 220.9 270.7 219.9 271.5 218.9 271.6 217.4 272.6 216.4 272.5 215.9 273 214.9 273 214.4 273.5 213.4 273.5 211.9 274.5 209.4 275 208.9 275.4 207.9 275.4 206.4 276.4 204.9 276.4 204.4 276.9 203.4 276.9 202.9 277.4 201.4 277.3 199.9 278.3 197.9 278.3 197.4 278.8 195.9 278.7 195.4 279.2 194.4 279.2 193.9 279.7 191.4 279.6 190.9 280.1 189.4 280.1 188.9 280.6 186.4 280.5 185.4 280.9 177.9 280.3 176.4 279.7 175.8 253.6 176.2 236.1 175.8 219.6Z" fill="#23a1e5"/>
<path d="M190.4 85.6 191.9 82.1 195.9 78.1 196.9 78 198.4 76.7 199.4 76.5 200.9 75.6 203.4 75 203.9 74.6 205.9 74 206.4 73.6 208.9 73.5 209.4 73.1 210.9 73 211.4 72.6 214.9 72.5 215.4 72.1 219.9 72 220.9 71.6 227.4 71.6 228.4 72 232.4 72.1 233.4 72.5 236.9 72.6 237.4 73 238.9 73.1 239.4 73.5 241.4 73.7 241.9 74.1 243.4 74.2 244.4 75 245.9 75.2 246.4 75.6 247.4 75.7 248.4 76.5 249.4 76.7 250.3 77.6 251.9 78.2 255.7 81.6 256.7 83.1 257.8 86.6 256.6 90.6 254.2 93.1 250.9 95.8 249.7 96.1 248.9 96.8 246.4 97.8 243.9 98.5 241.9 99.4 240.4 99.5 237.4 100.4 235.4 100.5 234.4 100.9 231.4 101 230.4 101.4 217.9 101.4 216.9 101 213.9 101 212.9 100.5 210.9 100.5 207.9 99.5 205.9 99.3 202.9 98 201.4 97.8 200.4 97.1 199.4 96.9 197.4 95.9 194.4 93.9 191.5 90.6 190.4 88.1ZM176.9 193.3 178.4 192.5 184.9 192 185.9 192.4 187.9 192.2 188.9 192.6 190.9 192.5 191.4 193 193.4 193 193.9 193.5 195.4 193.4 195.9 193.9 197.4 193.9 197.9 194.4 199.4 194.4 199.9 194.8 200.9 194.8 201.4 195.3 202.9 195.3 203.4 195.8 204.4 195.8 204.9 196.2 206.4 196.2 207.9 197.2 208.9 197.2 209.4 197.7 211.9 198.2 213.4 199.1 214.4 199.1 214.9 199.6 217.4 200.1 220.9 202 223.4 202.6 224.4 203.4 225.5 203.6 226.4 204.4 227.5 204.6 228.4 205.3 229.6 205.6 230.4 206.3 231.6 206.6 232.4 207.3 235.7 208.6 236.9 209.7 238.2 210.1 241.4 212.7 242.7 213.1 246.9 216.7 247.7 217.1 251.4 220.7 251.8 221.6 253.9 223.6 254.5 225.1 255.4 225.6 257.5 230.6 257.5 231.6 258 232.6 258.1 234.1 258.5 235.1 258.5 237.6 258 238.6 258 240.1 257.5 241.1 257.5 242.1 255.4 246.9 254.2 248.1 252.9 250.4 251.9 250.9 251.4 251.9 249.4 253.9 242.6 259.5 241.4 259.9 238.1 262.5 236.9 262.8 235.5 264 234.4 264.2 233.4 265.1 232.4 265.2 230.9 266.5 229.9 266.6 228.9 267.6 227.9 267.6 226.9 268.5 224.4 269 223.4 270 220.9 270.5 219.9 271.5 218.9 271.5 217.4 272.5 214.9 272.9 214.4 273.4 213.4 273.4 211.9 274.4 209.4 274.9 208.9 275.3 207.9 275.3 206.4 276.3 204.9 276.3 204.4 276.8 203.4 276.8 202.9 277.3 201.4 277.2 199.9 278.2 197.9 278.2 197.4 278.7 195.9 278.6 195.4 279.1 194.4 279.1 193.9 279.6 191.4 279.5 188.4 280.3 186.4 280.1 185.4 280.5 179.3 280 177.6 279.5 177 279 176.6 274.5 176.1 255.6 176.6 236.1 176.2 223.6 176.4 198.6Z" fill="#1da8e0"/>
<path d="M190.7 85.6 192.5 82.1 195.9 78.7 197.4 78.1 198.9 76.9 206.9 73.9 208.9 73.8 211.9 72.8 214.9 72.8 215.9 72.3 219.9 72.3 220.9 71.9 227.4 71.9 228.4 72.3 232.4 72.3 233.4 72.8 236.4 72.9 239.4 73.8 242.9 74.4 244.4 75.3 246.9 75.9 251.6 78.6 253.9 80.7 254.9 81.2 256.5 83.6 257.4 86.6 256.4 90.2 253.4 93.3 250.4 95.6 249.4 95.9 248.4 96.7 241.9 99.1 240.4 99.2 237.4 100.2 235.4 100.2 234.4 100.7 231.4 100.7 230.4 101.1 217.9 101.2 216.9 100.7 213.9 100.7 212.9 100.2 210.9 100.2 207.9 99.2 206.4 99.2 202.9 97.7 201.9 97.7 200.9 96.9 197.9 95.7 194.4 93.4 192 90.6 190.7 87.6ZM177.6 194.1 178.2 193.6 182.1 192.6 184.4 192.4 185.9 192.7 187.9 192.6 188.9 193 190.4 192.9 191.4 193.3 195.4 193.5 195.9 194 197.4 194 197.9 194.5 199.4 194.5 199.9 194.9 200.9 194.9 201.4 195.4 202.9 195.4 203.4 195.9 204.4 195.9 204.9 196.3 206.4 196.3 207.9 197.3 208.9 197.3 209.4 197.8 211.9 198.2 213.4 199.2 214.4 199.2 214.9 199.7 217.4 200.2 220.9 202.1 223.4 202.6 224.4 203.6 225.4 203.6 226.4 204.6 227.4 204.6 228.4 205.6 229.4 205.6 230.4 206.6 231.4 206.6 232.4 207.5 233.4 207.6 234.4 208.5 235.4 208.6 236.9 210 237.9 210.1 241.4 212.9 242.4 213.1 246.9 216.9 247.4 217.1 251.4 220.9 251.5 221.6 255.4 225.9 256.4 228.1 256.5 229.1 257.4 230.6 257.5 232.1 257.9 232.6 257.9 234.1 258.4 235.1 258.4 237.6 257.9 238.6 257.9 240.1 257.5 240.6 257.4 242.1 256.5 243.6 256.4 244.6 255.4 246.6 253.9 248.1 252.9 250.1 251.9 250.6 251.4 251.6 247.4 255.6 246.9 255.6 242.4 259.5 241.4 259.6 237.9 262.5 236.9 262.5 235.4 264 234.4 264 233.4 265 232.4 265 230.9 266.5 229.9 266.5 228.9 267.5 227.9 267.5 226.9 268.5 224.4 269 223.4 269.9 220.9 270.4 219.9 271.4 218.9 271.4 217.4 272.4 214.9 272.8 214.4 273.3 213.4 273.3 211.9 274.3 209.4 274.8 208.9 275.3 207.9 275.2 206.4 276.2 204.9 276.2 204.4 276.7 203.4 276.7 202.9 277.1 201.4 277.1 199.9 278.1 197.9 278.1 197.4 278.5 195.9 278.5 193.4 279.3 191.4 279.2 188.4 279.9 185.9 279.8 184.9 280.1 177.9 278.5 177.1 267.5 176.6 252.1 177.2 236.1 176.7 224.6 176.6 216.6Z" fill="#16aeda"/>
<path d="M191 85.6 192.8 82.1 195.9 79 197.4 78.5 198.9 77.2 206.9 74.2 208.9 74.1 211.9 73.1 214.9 73 215.9 72.6 219.9 72.5 220.9 72.1 226.9 72.1 228.4 72.6 232.4 72.6 233.4 73.1 236.4 73.2 239.4 74.1 242.9 74.7 243.9 75.4 246.9 76.2 247.9 77 248.9 77.2 251.4 78.7 253.9 81 254.8 81.6 256.1 83.6 257.1 86.6 256.1 90.1 253.3 93.1 250.4 95.3 249.4 95.5 248.4 96.3 245.9 97.3 243.4 98 241.9 98.8 240.4 98.9 237.4 99.8 235.4 99.9 234.4 100.4 231.4 100.4 229.9 100.9 218.4 100.9 216.9 100.5 213.9 100.4 212.9 100 210.9 99.9 207.9 99 206.4 98.9 203.4 97.6 201.9 97.4 200.9 96.6 197.9 95.4 194.4 93.1 192 90.1 191 87.6ZM178.4 194.6 184.4 193 187.9 193 191.4 193.6 192.9 193.5 197.9 194.6 199.4 194.6 199.9 195 200.9 195 201.4 195.5 202.9 195.5 203.4 196 204.4 196 204.9 196.4 206.4 196.4 207.9 197.4 208.9 197.4 209.4 197.9 211.9 198.3 213.4 199.3 214.4 199.3 214.9 199.8 217.4 200.3 220.9 202.2 223.4 202.7 224.4 203.7 225.4 203.7 226.4 204.7 227.4 204.7 228.4 205.6 229.4 205.7 230.4 206.6 231.4 206.6 232.4 207.6 233.4 207.6 234.4 208.6 235.4 208.6 236.9 210.1 237.9 210.1 241.4 213.1 242.4 213.1 246.9 217.1 247.4 217.1 249.3 219.1 249.4 219.6 249.9 219.6 251.3 221.1 251.3 221.6 253.8 224.1 254.3 225.6 254.9 225.6 255.3 226.1 255.3 226.6 256.3 228.1 256.3 229.1 257.3 230.6 257.3 232.1 257.8 232.6 257.8 234.6 258.3 235.1 258.3 237.6 257.8 238.1 257.8 240.1 257.3 240.6 257.3 242.1 256.3 243.6 256.3 244.6 255.3 246.1 255.3 246.6 253.8 248.1 253.8 248.6 252.8 249.6 252.8 250.1 252.4 250.5 251.9 250.5 251.3 251.1 251.3 251.6 247.4 255.5 246.9 255.5 244.4 258 243.9 258 242.4 259.5 241.4 259.5 237.9 262.4 236.9 262.5 235.4 263.9 234.4 263.9 233.4 264.9 232.4 264.9 230.9 266.4 229.9 266.4 228.9 267.4 227.9 267.4 226.9 268.4 224.4 268.9 223.4 269.8 220.9 270.3 219.9 271.3 218.9 271.3 217.4 272.3 214.9 272.8 214.4 273.2 213.4 273.2 211.9 274.2 209.4 274.7 208.9 275.2 207.9 275.1 206.4 276.1 204.9 276.1 204.4 276.6 203.4 276.6 202.9 277 201.4 277 199.4 277.8 197.9 277.8 193.4 278.9 190.9 278.9 187.9 279.5 185.9 279.2 184.9 279.3 179.7 278 178.4 274.2 177.3 252.6 177.7 236.1 177.3 217.6 177.8 203.6Z" fill="#09b4d1"/>
<path d="M191.3 86.1 192.9 82.5 196.3 79.1 197.4 78.8 198.9 77.5 206.9 74.5 209.4 74.2 211.9 73.4 214.9 73.3 216.4 72.9 219.9 72.8 221.4 72.4 226.9 72.4 228.4 72.8 231.9 72.9 233.4 73.3 236.4 73.5 238.9 74.3 242.9 75 243.9 75.8 246.9 76.5 247.9 77.3 248.9 77.5 251.4 79 254.4 81.6 255.7 83.6 256.6 86.6 255.6 90.1 252.9 92.9 250.4 94.9 245.7 97.1 241.6 98.6 233.9 100.1 230.9 100.2 229.9 100.6 218.4 100.6 217.4 100.3 214.4 100.1 213.4 99.8 210.9 99.6 208.4 98.8 206.4 98.6 199.9 96 196.4 94 193.9 92.1 191.9 89.1 191.4 87.4ZM187.4 193.6 192.9 193.9 204.4 196.1 204.9 196.5 206.4 196.5 207.9 197.5 208.9 197.5 209.4 198 211.9 198.4 213.4 199.4 214.4 199.4 214.9 199.9 217.4 200.4 220.9 202.3 223.4 202.8 224.4 203.8 225.4 203.8 226.4 204.7 227.4 204.7 228.4 205.7 229.4 205.7 230.4 206.7 231.4 206.7 232.4 207.7 233.4 207.7 234.4 208.7 235.4 208.7 236.9 210.2 237.9 210.2 241.4 213.2 242.4 213.2 246.9 217.2 247.4 217.2 249.2 219.1 249.2 219.6 249.9 219.7 251.2 221.1 251.2 221.6 253.7 224.1 254.2 225.6 255.2 226.1 255.2 226.6 256.2 228.1 256.2 229.1 257.2 230.6 257.2 232.1 257.7 232.6 257.8 234.6 258.2 235.1 258.2 237.6 257.7 238.1 257.7 240.1 257.2 240.6 257.2 242.1 256.2 243.6 256.2 244.6 255.2 246.1 255.2 246.6 253.7 248.1 253.7 248.6 252.7 249.6 252.7 250.1 251.9 250.4 251.2 251.1 251.2 251.6 247.4 255.4 246.9 255.4 244.4 257.9 243.9 257.9 242.4 259.4 241.4 259.4 237.9 262.4 236.9 262.4 235.4 263.9 234.4 263.9 233.4 264.8 232.4 264.8 230.9 266.3 229.9 266.3 228.9 267.3 227.9 267.3 226.9 268.3 224.4 268.8 223.4 269.8 220.9 270.2 219.9 271.2 218.9 271.2 217.4 272.2 214.9 272.7 214.4 273.1 213.4 273.1 211.9 274.1 209.4 274.6 208.9 275.1 207.9 275 206.4 275.8 204.9 275.9 202.4 276.7 201.4 276.7 199.4 277.6 197.9 277.5 192.9 278.6 187.9 278.6 183.5 278 180.2 270.5 178.4 262.3 177.9 249.1 178.3 236.1 177.9 220.6 178.4 208 179.6 201.1 181.9 194.6Z" fill="#01b9c7"/>
<path d="M191.9 86.1 193.4 82.9 196.4 79.7 197.9 79 199 78.1 207.4 74.8 212.4 73.8 221.4 72.8 224.9 72.8 235.9 73.8 242.4 75.4 246.7 77.1 251.1 79.6 253.9 82.1 255.2 84.1 255.9 86.6 255.1 89.6 252.9 92.1 249.9 94.5 245.4 96.6 241.4 98.1 233.9 99.6 229.9 100.1 218.4 100.1 211.4 99.2 206.9 98.1 202.2 96.6 198.2 94.6 194.7 92.1 192.8 89.6 192 87.1ZM185 195.1 186.9 194.6 192.4 194.3 196.9 194.8 201.4 196 202.4 195.9 204.9 196.8 205.9 196.8 207.9 197.6 210.4 198 210.9 198.5 211.9 198.5 213.4 199.5 214.4 199.5 214.9 200 217.4 200.4 220.9 202.4 223.4 202.9 224.4 203.8 225.4 203.9 226.4 204.8 227.4 204.8 228.4 205.8 229.4 205.8 230.4 206.8 231.4 206.8 232.4 207.8 233.4 207.8 234.4 208.8 235.4 208.8 236.9 210.3 237.9 210.3 241.4 213.3 242.4 213.3 246.9 217.3 247.4 217.3 249.1 219.1 249.2 219.6 249.9 219.8 251.1 221.1 251.2 221.6 253.6 224.1 254.2 225.6 255.1 226.1 255.2 226.6 256.2 228.1 256.2 229.1 257.2 230.6 257.2 232.1 257.7 232.6 257.7 234.6 258.2 235.1 258.2 237.6 257.7 238.1 257.7 240.1 257.2 240.6 257.2 242.1 256.2 243.6 256.1 244.6 255.1 246.1 255.1 246.6 253.6 248.1 253.6 248.6 252.6 249.6 252.6 250.1 251.9 250.3 251.1 251.1 251.1 251.6 247.4 255.3 246.9 255.3 244.4 257.8 243.9 257.8 242.4 259.3 241.4 259.3 237.9 262.3 236.9 262.3 235.4 263.8 234.4 263.8 233.4 264.8 232.4 264.8 230.9 266.2 229.9 266.2 228.9 267.2 227.9 267.2 226.9 268.2 224.4 268.7 223.4 269.7 220.9 270.2 219.9 271.1 218.9 271.1 217.4 272.1 214.9 272.6 214.4 273.1 213.4 273 211.9 273.8 207.9 274.8 205.9 275.6 200.9 276.5 199.4 277.2 197.4 277.2 196.6 277.5 192.9 277.9 186.9 277.5 183.7 272 181.3 265.5 179.4 256.5 178.7 248.6 179.1 236.1 178.8 223.1 179.3 215.6 180.3 209.1 181.4 204.1 182.9 199.6Z" fill="#0bbdbd"/>
<path d="M192.7 86.6 194.1 83.1 196.4 80.7 199.4 78.6 207.4 75.4 212.4 74.3 221.4 73.3 226.9 73.4 235.9 74.4 242.4 76 243.4 76.6 246.4 77.6 250.9 80.2 253.4 82.6 254.4 84.1 255.1 86.6 254.3 89.6 252.4 91.6 249.9 93.7 245.4 95.9 241.4 97.4 233.9 99 229.9 99.5 218.4 99.6 211.4 98.6 206.9 97.5 202.4 96 198.6 94.1 195.4 91.7 193.4 89.1ZM188.1 195.6 192.4 195.1 198.9 195.5 204.9 197 205.9 197 213.4 199.6 215.9 200 216.4 200.5 217.4 200.5 220.9 202.5 223.4 203 224.4 203.9 225.4 203.9 226.4 204.9 227.4 204.9 228.4 205.9 229.4 205.9 230.4 206.9 231.4 206.9 232.4 207.9 233.4 207.9 234.4 208.9 235.4 208.9 236.9 210.3 237.9 210.4 241.4 213.3 242.4 213.3 246.9 217.3 247.4 217.3 249.1 219.1 249.1 219.6 249.9 219.8 251.1 221.1 251.1 221.6 253.6 224.1 254.1 225.6 255.1 226.1 255.1 226.6 256.1 228.1 256.1 229.1 257.1 230.6 257.1 232.1 257.6 232.6 257.6 234.6 258.1 235.1 258.1 237.6 257.6 238.1 257.6 240.1 257.1 240.6 257.1 242.1 256.1 243.6 256.1 244.6 255.1 246.1 255.1 246.6 253.6 248.1 253.6 248.6 252.6 249.6 252.5 250.1 251.9 250.3 251.1 251.1 251 251.6 247.4 255.2 246.9 255.2 244.4 257.7 243.9 257.7 242.4 259.2 241.4 259.2 237.9 262.2 236.9 262.2 235.4 263.7 234.4 263.7 233.4 264.7 232.4 264.7 230.9 266.2 229.9 266.2 228.9 267.1 227.9 267.1 226.9 268.1 224.4 268.6 223.4 269.6 220.9 270.1 219.9 271 218.9 271 217.4 271.8 207.4 274.6 205.9 275.3 204.4 275.4 198.9 276.8 197.4 276.7 192.9 277 190 276.5 185.9 270.5 182.9 263.5 180.8 254.6 180 245.6 180.1 225.1 181.1 215.1 182.3 209.1 183.8 204.1 185.7 199.6Z" fill="#1fc0b2"/>
<path d="M193.5 86.6 194.6 83.6 196.9 81.1 201.9 78.2 207.4 76.1 212.4 75 223.9 73.9 231.4 74.4 235.9 75 241.9 76.5 245.9 78.1 250.4 80.7 252.7 83.1 253.7 84.6 254 86.6 253.4 89.1 252 91.1 249.4 93.2 245.4 95.2 241.4 96.8 236.4 98 229.4 99 218.9 99 211.9 98 206.9 96.9 202.9 95.4 199.1 93.6 195.9 91.2 194.3 89.1ZM191.3 196.1 198.4 196 205.9 197.3 207.4 198 216.9 200.7 220.9 202.6 223.4 203 224.4 204 225.4 204 226.4 205 227.4 205 228.4 206 229.4 206 230.4 207 231.4 207 232.4 207.9 233.4 208 234.4 208.9 235.4 208.9 236.9 210.4 237.9 210.4 241.4 213.4 242.4 213.4 246.9 217.4 247.4 217.4 249 219.1 249 219.6 249.9 219.9 251 221.1 251 221.6 253.5 224.1 254 225.6 255 226.1 255 226.6 256 228.1 256 229.1 257 230.6 257 232.1 257.5 232.6 257.5 234.6 258 235.1 258 237.6 257.5 238.1 257.5 240.1 257 240.6 257 242.1 256 243.6 256 244.6 255 246.1 255 246.6 253.5 248.1 253.5 248.6 252.5 249.6 252.5 250.1 251.9 250.2 251 251.1 251 251.6 247.4 255.2 246.9 255.2 244.4 257.7 243.9 257.7 242.4 259.1 241.4 259.2 237.9 262.1 236.9 262.1 235.4 263.6 234.4 263.6 233.4 264.6 232.4 264.6 230.9 266.1 229.9 266.1 228.9 267.1 227.9 267.1 226.9 268 224.4 268.5 223.4 269.2 220.9 269.9 219.4 270.8 216.9 271.7 207.4 274.3 205.7 275 200.9 275.6 198.9 276.1 193.5 276 190.7 273 188.1 269.5 186.2 266 184.5 262 183 257 182 252.1 181.3 246.6 180.9 234.6 181.5 224.6 182.2 218.6 183.2 213.1 184.6 208.1 186.4 203.6 188.6 199.6Z" fill="#2dc4a6"/>
<path d="M196.6 86.1 197.3 83.6 199.4 81.1 202.1 79.1 206.4 77.1 212.9 75.5 221.9 74.5 225.4 74.5 235.4 75.5 239.6 76.6 243.4 78.1 246.9 80.1 249.1 82.1 250.4 84.1 250.9 86.6 250.3 89.1 248.9 91.1 246.5 93.1 242.8 95.1 238.9 96.5 234.5 97.6 228.9 98.3 223.4 98.5 218.9 98.3 212.9 97.5 207.9 96.2 203.9 94.7 200.4 92.6 198.2 90.6 197 88.6ZM191.9 199.3 194.4 196.9 198.4 196.8 205.4 197.6 216.9 201 220.4 202.6 222.9 203.2 224 204.1 225.4 204.3 226.2 205.1 227.4 205.2 228.3 206.1 229.4 206.1 230.4 207 231.4 207 232.4 208 233.4 208 234.4 209 235.4 209 236.9 210.5 237.9 210.5 241.4 213.5 242.4 213.5 246.9 217.5 247.4 217.5 248.9 219.1 248.9 219.6 249.4 220 249.9 220 250.9 221.1 250.9 221.6 253.4 224.1 253.9 225.6 254.9 226.1 254.9 226.6 255.9 228.1 255.9 229.1 256.9 230.6 256.9 232.1 257.4 232.6 257.4 234.6 257.9 235.1 257.9 237.6 257.4 238.1 257.4 240.1 256.9 240.6 256.9 242.1 255.9 243.6 255.9 244.6 254.9 246.1 254.9 246.6 253.4 248.1 253.4 248.6 252.4 249.6 252.4 250.1 251.9 250.1 250.9 251.1 250.9 251.6 247.4 255.1 246.9 255.1 244.4 257.6 243.9 257.6 242.4 259.1 241.4 259.1 237.9 262 236.9 262.1 235.4 263.4 234.4 263.5 233.4 264.3 232.1 264.5 230.9 265.7 229.5 266 226.4 267.8 223.9 268.4 222.9 269.2 220.4 269.8 219.4 270.5 218.4 270.7 216.9 271.4 212.9 272.4 211.4 273.1 205.4 274.5 198.4 275.3 196.7 275 192.4 271.1 189.9 267.9 187.8 264.5 185.9 260.1 184.2 255.1 183.1 250.1 182.3 244.6 181.9 238.1 181.9 233.6 182.7 225.1 184.7 214.1 187.6 206.1 189.5 202.6Z" fill="#36c799"/>
<path d="M200 86.1 200.6 84.1 202.1 82.1 204.8 80.1 207.9 78.6 211.4 77.4 215.4 76.5 219.9 76 224.4 75.8 228.9 76.1 233.4 76.7 237.4 77.7 240.8 79.1 243.5 80.6 245.8 82.6 247.1 84.6 247.5 86.6 247 88.6 245.6 90.6 243.1 92.6 240.2 94.1 236.4 95.4 232.4 96.3 223.4 97 218.4 96.7 214 96.1 210.1 95.1 206.4 93.6 203.7 92.1 201.5 90.1 200.3 88.1ZM197.9 197.5 205.4 198.2 211.4 199.5 212.9 200.2 216.9 201.2 220.4 202.9 222.9 203.5 223.9 204.2 224.9 204.4 225.9 205.1 226.9 205.3 227.9 206.1 231.4 207.5 232 208.1 233.4 208.4 234.1 209.1 235.4 209.4 236.7 210.6 237.9 210.8 241.2 213.6 242.4 213.7 246.7 217.6 247.4 217.7 248.7 219.1 248.9 219.6 250.7 221.1 250.9 221.6 253.2 224.1 253.9 225.6 255.3 227.1 255.8 228.1 255.9 229.1 256.9 230.6 256.9 232.1 257.4 232.6 257.4 234.6 257.9 235.1 257.9 237.6 257.4 238.1 257.4 240.1 256.9 240.6 256.8 242.1 255.9 243.5 255.7 244.6 254.7 246.6 248.9 253.3 242.4 258.7 241 259 237.8 261.5 236.4 262 235.2 263 233.9 263.5 232.9 264.2 231.9 264.4 230.4 265.7 229.4 265.8 228.4 266.6 227.4 266.8 226.4 267.6 223.9 268.1 222.9 268.9 220.4 269.5 219.4 270.3 210.9 272.7 205.4 273.8 201.4 274.2 200.1 274 194.2 269.5 191.2 266 188.5 261.5 186.4 256.3 184.7 250.6 183.5 244.1 182.8 237.1 183.1 232.1 184.4 222.6 185.7 216.6 187.5 211.1 189.4 206.9 191.9 203 195 199.6Z" fill="#42ca8b"/>
<path d="M204.1 86.1 204.5 84.6 205.9 82.8 207.9 81.2 210.2 80.1 213 79.1 216.9 78.2 224.4 77.6 232.4 78.5 238.4 80.5 240.8 82.1 242.4 83.5 243.2 85.1 243.4 86.6 242.8 88.6 241.7 90.1 239.7 91.6 237.4 92.7 230.9 94.6 223.4 95.2 216.4 94.5 212.9 93.7 209.7 92.6 207.1 91.1 205.4 89.6 204.4 88.1ZM201.4 198.4 205.4 198.8 216.9 201.5 220.4 203.1 222.9 203.7 223.9 204.5 224.9 204.6 225.9 205.4 226.9 205.5 227.9 206.3 230.9 207.4 231.9 208.2 232.9 208.4 233.9 209.2 235.1 209.6 236.4 210.6 237.7 211.1 240.9 213.6 242.4 214.1 246.4 217.6 247.4 218.1 248.8 220.1 250.3 221.1 250.8 222.1 252.8 224.1 253.8 226.1 254.6 226.6 256.7 231.1 256.7 232.1 257.2 233.1 257.2 234.6 257.7 235.6 257.7 237.1 257.2 238.1 257.2 239.6 256.7 240.6 256.6 241.6 254.4 246.4 253.3 247.6 252.1 249.6 250.8 250.6 249.4 252.4 247.4 254.4 246.4 254.9 242.4 258.4 240.9 258.9 237.9 261.3 236.4 261.8 234.9 263.1 233.9 263.2 232.9 264 231.9 264.2 230.4 265.4 229.4 265.6 228.4 266.4 227.4 266.5 226.4 267.3 223.9 267.9 222.9 268.7 220.4 269.2 219.4 269.9 216.4 270.8 204.9 273.1 203.9 273 201.4 271.7 196.9 268.7 193.4 265.3 190.7 261.5 188.3 256.5 186.2 250.6 184.7 244.1 183.7 237.1 184.1 232.1 185.9 222.4 187.5 216.1 189.4 211.1 191.5 207.1 194.4 203.4 198.4 199.9 200.4 198.6Z" fill="#55cc7b"/>
<path d="M209.2 86.1 209.8 84.6 210.7 83.6 214.1 81.6 218.9 80.3 224.4 79.9 230 80.6 234.5 82.1 237.3 84.1 238 85.1 238.3 86.6 237.9 88 237 89.1 233.9 91.1 228.9 92.5 223.4 92.9 217.4 92.2 212.9 90.7 210 88.6 209.4 87.6ZM204.9 199.4 216.4 201.8 220.4 203.4 222.9 204 223.9 204.7 224.9 204.9 225.9 205.7 226.9 205.8 227.9 206.6 228.9 206.7 229.9 207.5 230.9 207.7 231.9 208.5 232.9 208.6 233.9 209.4 234.9 209.6 236.4 210.9 237.9 211.4 240.9 213.8 241.9 214.1 246.4 217.8 247.4 218.4 248.9 220.3 249.9 220.9 250.6 222.1 252.6 224.1 253.6 226.1 254.4 226.6 256.4 231.1 256.5 232.1 257 233.1 257 234.6 257.5 235.6 257.5 237.1 257 238.1 256.9 239.6 256.4 240.6 256.4 241.6 254.4 246.1 253 247.6 251.9 249.5 250.5 250.6 250 251.6 244.4 256.6 241.9 258.4 240.9 258.6 237.4 261.4 236.4 261.5 234.9 262.8 233.9 263 232.9 263.8 231.9 263.9 230.4 265.2 229.4 265.3 228.4 266.1 227.4 266.2 226.4 267 216.4 270.2 208.9 271.7 207.4 271.7 199.9 268 195.9 264.8 192.9 261.3 190.1 256.5 187.7 250.6 185.8 243.6 184.8 237.1 185.2 232.1 187.4 222.1 189.2 216.1 191.4 211.1 193.9 207.1 197.3 203.6 201.9 200.5 203.7 199.6Z" fill="#6acd6a"/>
<path d="M217.8 86.6 218.1 85.6 219.5 84.6 221.4 84 223.9 83.8 226.4 84 228 84.6 229.4 85.6 229.7 86.6 229.1 87.6 227.9 88.3 223.9 89.1 219.9 88.4 218.4 87.6ZM207.4 200.5 216.4 202.3 222.9 204.4 225.9 205.9 226.9 206 227.9 206.8 228.9 207 229.9 207.8 230.9 207.9 231.9 208.7 232.9 208.9 233.9 209.7 234.9 209.8 236.4 211.1 237.7 211.6 240.9 214.1 241.9 214.3 246.3 218.1 247.2 218.6 248.4 220.1 249.9 221.1 250.4 222.1 252.4 224.1 253.3 226.1 255.2 228.6 255.4 229.6 256.2 231.1 256.8 234.6 257.2 235.6 257.2 237.1 256.8 238.1 256.2 241.6 254.1 246.1 252.4 248.4 250.4 250.4 249.9 251.4 244.1 256.5 241.9 258.2 240.9 258.4 237.4 261.1 236.4 261.3 234.9 262.5 233.9 262.7 232.9 263.5 231.9 263.6 230.4 264.8 218.9 268.9 211.4 270.5 205.9 268.5 201.1 266 197.4 263.3 194.4 260 191.4 255.1 188.9 249.6 186.9 242.8 185.9 237.1 186.4 232.2 188.8 222.1 190.9 216.2 193.1 211.6 195.6 208.1 198.9 205 202.9 202.5Z" fill="#81cc59"/>
<path d="M210.4 201.9 216.4 202.9 222.4 204.7 226.9 206.5 231.9 209 232.9 209.2 233.9 209.9 234.9 210.1 236.4 211.4 237.4 211.6 240.9 214.3 241.9 214.6 245.9 218.1 246.9 218.6 248.4 220.4 249.9 221.5 250.4 222.4 252.4 224.6 253.1 226.1 254.4 227.6 256 231.1 257.1 236.1 255.9 241.6 253.9 246.1 249.8 251.1 243.9 256.4 241.9 257.8 240.4 258.4 237.4 260.7 235.9 261.2 234.8 262 231.4 263.4 229.9 264.4 225.9 266.1 215.9 269 209.9 267.4 204.4 265.2 200.4 262.9 196.9 259.8 193.6 255.6 190.7 250.1 188.4 243.4 187.1 237.6 187.4 233.1 190 223.1 192.2 217.1 194.9 212.2 197.8 208.6 201.4 205.8 205.4 203.7Z" fill="#98ca47"/>
<path d="M214.4 203.3 216.4 203.5 222.4 205.4 228.4 207.7 234.7 210.6 235.9 211.5 237.4 212 240.4 214.4 241.9 215 246.9 219 248 220.6 249.4 221.6 250 222.6 252 224.6 253 226.6 253.9 227.2 255.8 231.6 256.4 235.1 256.8 236.1 255.7 241.1 253.7 245.6 249.2 251.1 246.9 253.4 241.9 257.2 240.4 257.8 236.9 260.3 235.9 260.6 234.4 261.7 225.4 265.5 220.4 267.1 213.9 266 207.9 264.3 202.9 261.9 198.9 258.9 195.4 254.9 192.4 249.8 189.8 243.6 188.3 237.6 188.3 235.6 188.7 233.1 191.7 222.6 194 217.1 196.8 212.6 199.9 209.3 203.9 206.7 208.9 204.6Z" fill="#aec637"/>
<path d="M210.9 206.1 218.4 205.1 220.9 205.5 230.4 209.1 236.9 212.3 243.9 217.2 249.2 222.1 253.7 228.1 255.8 233.6 256.3 236.6 255.2 241.1 253.1 245.6 248.9 250.7 243.4 255.5 241.4 257 239.9 257.5 236.9 259.7 229.4 263.4 225.4 264.7 218.9 264.4 211.9 263.1 206.4 261.2 201.9 258.7 198.3 255.6 194.9 250.9 192.1 245.6 190.1 239.6 189.6 236.1 190.3 232.6 193.4 222.6 196.4 216.2 199.2 212.6 202.4 209.8 206.4 207.6Z" fill="#c2c22c"/>
<path d="M205.4 210.2 208.9 208.8 213.4 207.7 218.4 207.1 223.9 207.2 232.2 210.6 236.9 213 239.9 215.2 241.4 215.9 246.4 219.9 251 225.1 252.1 227.1 253.1 228.1 254.7 231.6 255.7 236.1 254.6 241.1 253.5 243.6 252.4 245.5 248.2 250.6 243 255.1 236.4 259.3 231.9 261.5 227.9 262.1 219.9 262.1 211.4 260.6 205.4 258.3 202.9 256.8 200.4 254.8 196.9 250.8 193.9 245.6 191.8 240.1 191.3 237.6 191.3 235.6 194.1 225.1 196.9 218.7 200.4 213.9 202.9 211.8Z" fill="#d5be28"/>
<path d="M201.4 215.4 204.4 213 208.4 210.9 212.4 209.8 217.4 209.2 223.4 209.1 228.4 209.7 231.9 210.9 236.4 213.3 241.3 216.6 245.9 220.2 250.7 225.6 252.9 228.7 254.1 231.6 255.1 236.6 254 241.1 252.4 244.5 247.9 250.1 243.4 254 237.9 257 232.4 258.9 225.4 259.8 217.9 259.5 210.9 258.2 205.4 255.9 200.9 252.6 197.4 248.3 194.4 242.6 193.1 237.6 193.4 234.1 196.2 224.1 198.4 219.4Z" fill="#e5bb2d"/>
<path d="M204.9 214.8 208.4 212.9 211.9 211.8 215.9 211.2 221.4 211 225.4 211.2 229.4 211.9 232.9 213.1 236.4 214.8 240.4 217.3 244.1 220.6 247.7 224.6 250.5 228.6 252.3 232.1 253.1 235.1 252.9 237.6 251.6 240.6 247.8 246.1 243.3 250.6 238.4 253.9 232.9 256.1 226.4 257.3 219.4 257.2 211.9 256.2 206.3 254.1 202.1 251.1 198.7 247.1 196.1 242.1 195.1 237.6 195.2 235.1 196.6 228.6 198.3 223.1 200.9 218.6 202.9 216.4Z" fill="#f4ba39"/>
<path d="M203.9 217.9 206.9 215.6 209.9 214.2 213.4 213.3 217.4 212.9 222.9 212.9 227.4 213.4 231.9 214.8 235.9 216.9 239.5 219.6 242.9 223.1 245.4 226.6 247.1 230.1 247.9 233.6 247.8 236.6 246.9 240.1 245.2 243.6 242.1 247.6 238.4 250.7 233.9 253.1 228.9 254.6 222.9 255.1 214.9 254.6 210.4 253.5 206.1 251.6 202.9 249 200 245.6 198 241.6 197.2 238.1 198.2 229.6 199.1 225.6 201 221.6Z" fill="#febe3c"/>
<path d="M207.9 217.1 210.9 215.7 214.4 214.8 220.4 214.5 224.4 214.8 227.9 215.5 231.4 216.8 234.4 218.6 237.6 221.1 239.9 223.6 241.8 226.6 243 229.6 243.4 232.1 243 237.6 242.4 240.6 241 243.6 238.6 246.6 235.6 249.1 231.9 251.1 227.4 252.4 222.9 252.9 216.4 252.6 211.9 251.8 207.9 250.2 204.2 247.6 201.4 244.1 199.6 240.1 199.2 236.6 199.9 230.1 200.8 226.1 202.4 222.6 204.9 219.4Z" fill="#fec735"/>
<path d="M206.7 220.1 209.4 218.2 212.4 217 215.9 216.3 220.4 216.1 224.4 216.5 227.9 217.5 231.2 219.1 234 221.1 236.5 223.6 238.2 226.1 239.3 228.6 239.9 231.6 239.8 235.1 239.1 239.1 237.9 242.1 236.4 244.4 233.5 247.1 230.4 248.9 226.9 250.1 222.9 250.7 217.9 250.8 213.4 250.1 209.4 248.6 206.4 246.6 203.9 244.1 202.4 241.6 201.4 238.6 201.2 235.6 201.6 230.1 202.5 226.6 204.1 223.1Z" fill="#fcd12f"/>
<path d="M209 220.6 211.9 219 214.9 218.1 217.9 217.7 221.4 217.9 224.9 218.5 227.6 219.6 230.3 221.1 232.7 223.1 234.3 225.1 235.7 227.6 236.5 230.1 236.8 233.1 236.4 236.6 235.5 239.6 234.1 242.1 232.5 244.1 229.9 246.1 226.8 247.6 223.4 248.4 219.4 248.8 215.9 248.5 212.4 247.6 209.4 246.1 206.9 244.1 204.9 241.6 203.7 239.1 203.2 236.1 203.2 232.1 203.7 228.6 204.9 225.5 206.8 222.6Z" fill="#f7db2b"/>
<path d="M214.4 220.1 216.9 219.5 219.4 219.4 221.9 219.8 224.9 220.7 227.4 221.9 229.5 223.6 231.3 225.6 232.4 227.6 233.3 230.1 233.5 232.6 233.3 235.6 232.6 238.1 231.6 240.1 230.1 242.1 228.4 243.6 225.9 245.1 222.9 246.1 219.9 246.6 217.4 246.5 214.4 245.9 211.9 244.9 209.4 243.2 207.4 241.1 206.2 239.1 205.2 236.1 205 233.1 205.3 230.1 206.3 227.1 207.7 224.6 209.4 222.8 211.9 221.1Z" fill="#f5e526"/>
<path d="M217.9 221.5 219.9 221.5 222 222.1 224.3 223.1 226.4 224.4 227.9 225.9 228.9 227.6 229.7 229.6 230 231.6 230 234.1 229.5 236.1 228.7 238.1 227.3 240.1 225.7 241.6 223.9 242.7 221.7 243.6 219.4 244 217.4 243.9 214.9 243.3 212.9 242.4 210.9 241.1 209.5 239.6 208.4 237.6 207.2 233.6 207.3 231.6 207.9 229.1 208.9 227 210.2 225.1 211.9 223.7 213.8 222.6Z" fill="#f5ef21"/>
<path d="M217.9 224.5 220.9 224.9 223.4 226.6 225.2 229.1 225.8 232.1 225.3 235.1 223.9 237.6 221.4 239.5 218.4 240.2 215.4 239.7 212.9 238 211.1 235.6 210.3 232.6 211 229.6 212.6 227.1 214.9 225.3Z" fill="#f8f818"/>
</g></g>
<path d="M257.3 236.1L256.9 232.1 255.5 228.3 253.2 224.4 250.2 220.7 246.4 217.1 241.9 213.6 236.9 210.3 231.4 207.2 225.7 204.3 219.7 201.7 213.7 199.3 207.8 197.2 202.1 195.4 196.7 193.9 191.7 192.7 187.3 191.8 183.4 191.3 180.1 191.2 177.5 191.3 175.6 191.8 174.4 192.7 173.7 193.9 173.7 195.4 174.2 197.2 175.2 199.3 176.6 201.7 178.2 204.3 180 207.2 181.9 210.3 183.8 213.6 185.5 217.1 187.1 220.7 188.4 224.4 189.4 228.3 190 232.1 190.2 236.1 190 240 189.4 243.9 188.4 247.7 187.1 251.4 185.5 255 183.8 258.5 181.9 261.8 180 264.9 178.2 267.8 176.6 270.5 175.2 272.8 174.2 274.9 173.7 276.7 173.7 278.2 174.4 279.4 175.6 280.3 177.5 280.8 180.1 281 183.4 280.8 187.3 280.3 191.7 279.4 196.7 278.2 202.1 276.7 207.8 274.9 213.7 272.8 219.7 270.5 225.7 267.8 231.4 264.9 236.9 261.8 241.9 258.5 246.4 255 250.2 251.4 253.2 247.7 255.5 243.9 256.9 240Z" fill="none" stroke="#ff0000" stroke-width="3.4" stroke-linejoin="round"/>
<path d="M257.3 86.4L257 84.5 256.2 82.5 254.8 80.7 252.8 78.9 250.4 77.3 247.5 75.8 244.2 74.5 240.5 73.4 236.6 72.6 232.4 72 228.1 71.6 223.8 71.4 219.4 71.6 215.1 72 210.9 72.6 207 73.4 203.3 74.5 200 75.8 197.1 77.3 194.7 78.9 192.7 80.7 191.3 82.5 190.5 84.5 190.2 86.4 190.5 88.4 191.3 90.3 192.7 92.1 194.7 93.9 197.1 95.5 200 97 203.3 98.3 207 99.4 210.9 100.2 215.1 100.9 219.4 101.2 223.8 101.4 228.1 101.2 232.4 100.9 236.6 100.2 240.5 99.4 244.2 98.3 247.5 97 250.4 95.5 252.8 93.9 254.8 92.1 256.2 90.3 257 88.4Z" fill="none" stroke="#ff0000" stroke-width="3.4" stroke-linejoin="round"/>
<rect x="405.4" y="26.1" width="19" height="300.2" fill="url(#cbar)"/>
<rect x="405.8" y="26.5" width="18.2" height="299.4" fill="none" stroke="#262626" stroke-opacity="0.55" stroke-width="0.8"/>
<line x1="420.8" y1="265.9" x2="423.8" y2="265.9" stroke="#262626" stroke-opacity="0.7" stroke-width="0.8"/>
<line x1="420.8" y1="206" x2="423.8" y2="206" stroke="#262626" stroke-opacity="0.7" stroke-width="0.8"/>
<line x1="420.8" y1="146.2" x2="423.8" y2="146.2" stroke="#262626" stroke-opacity="0.7" stroke-width="0.8"/>
<line x1="420.8" y1="86.3" x2="423.8" y2="86.3" stroke="#262626" stroke-opacity="0.7" stroke-width="0.8"/>
<text class="cb" x="429.1" y="332.1">0</text>
<text class="cb" x="429.1" y="272.3">0.2</text>
<text class="cb" x="429.1" y="212.4">0.4</text>
<text class="cb" x="429.1" y="152.6">0.6</text>
<text class="cb" x="429.1" y="92.7">0.8</text>
<text class="cb" x="429.1" y="32.9">1</text>
<text class="ax" x="50.6" y="33.6" text-anchor="end">5</text>
<text class="ax" x="49.9" y="183.2" text-anchor="end">0</text>
<text class="ax" x="50.6" y="332.8" text-anchor="end">-5</text>
<text class="ax" x="56.2" y="348.9" text-anchor="middle">-5</text>
<text class="ax" x="224.1" y="348.9" text-anchor="middle">0</text>
<text class="ax" x="391.6" y="348.9" text-anchor="middle">5</text>
</g>
<g id="p01">
<clipPath id="cp01"><rect x="586.4" y="25.8" width="337.3" height="300.8"/></clipPath>
<rect x="586.4" y="25.8" width="337.3" height="300.8" fill="#422fc2"/>
<g clip-path="url(#cp01)">
<g stroke="#2a1a90" fill="none"><path d="M920.5 208.8L731.7 323.4M926.4 145.8L686.4 330.8M926.4 255.8L786.4 330.8M836.4 165.8L916.4 330.8M876.4 125.8L886.4 330.8M786.4 225.8L866.4 330.8M736.4 240.8L926.4 315.8M746.4 225.8L926.4 185.8M816.4 20.8L876.4 145.8M926.4 45.8L836.4 115.8M606.4 330.8L706.4 255.8M646.4 330.8L726.4 260.8M581.4 175.8L666.4 215.8M581.4 55.8L746.4 195.8M686.4 20.8L846.4 85.8" stroke-width="4.5" stroke-opacity="0.07"/><path d="M920.5 208.8L731.7 323.4M926.4 145.8L686.4 330.8M926.4 255.8L786.4 330.8M836.4 165.8L916.4 330.8M876.4 125.8L886.4 330.8M786.4 225.8L866.4 330.8M736.4 240.8L926.4 315.8M746.4 225.8L926.4 185.8M816.4 20.8L876.4 145.8M926.4 45.8L836.4 115.8M606.4 330.8L706.4 255.8M646.4 330.8L726.4 260.8M581.4 175.8L666.4 215.8M581.4 55.8L746.4 195.8M686.4 20.8L846.4 85.8" stroke-width="1.8" stroke-opacity="0.09"/><path d="M581.4 283.7L931.4 283.7" stroke-width="4" stroke-opacity="0.42"/><path d="M590 101L816 323" stroke-width="3" stroke-opacity="0.28"/><path d="M920.5 63.8L630.6 323.4" stroke-width="3" stroke-opacity="0.28"/></g>
<g filter="url(#b1)">
<path d="M854.7 53.6 857.7 53.6 858.2 54.1 860.2 54.1 862.2 55.1 864.2 56.6 869.6 62 870.1 63.5 871.1 64.6 872.1 66.6 872.2 67.6 874 71.6 874.2 73.1 874.6 74.1 874.7 75.6 875.1 76.6 875.2 78.6 875.6 79.6 875.6 94.1 875.2 94.8 875.1 97.1 874.7 97.8 874.6 99.1 874.2 99.8 874.1 101.1 873.1 104.1 871.2 107.8 870.6 109.6 869.3 111.1 868.2 113 865.2 116 863.2 117.5 861.2 118.5 858.2 119.4 853.2 119.3 851.2 118.7 848.7 117.4 846.2 115.6 844.3 113.6 841.8 110.1 839 104.1 837.4 98.6 836.9 96.1 836.8 93.1 836.3 91.6 836.3 81.6 837.2 75.1 839.7 67.6 842.2 62.5 843.7 61 844.2 60 847.7 56.6 851.7 54.1 853.7 54.1ZM632.2 193.6 634.7 190.6 637.7 189.1 649.2 188.7 650.7 189.2 653.2 189.3 654.2 189.7 655.7 189.8 656.7 190.2 660.2 190.7 664.7 192.2 667.7 192.7 670.2 193.7 671.2 193.7 676.8 196.1 681.2 197.3 682.4 198.1 683.7 198.3 684.7 199.1 688.7 200.3 689.7 201.1 690.7 201.3 691.7 202.1 692.7 202.3 693.7 203.1 694.7 203.3 695.7 204.1 696.7 204.3 697.7 205.1 698.7 205.3 699.7 206.1 701.2 206.8 703.7 208.6 705.2 209.3 706.7 210.6 708.7 211.6 710.7 213.1 714.7 217.1 715.7 217.6 719.6 222.1 722.9 227.6 724.5 232.6 724.5 240.1 724.1 241.1 723.9 243.1 721.5 248.1 716.7 254 709.7 260.4 701.2 265.9 696.1 268.5 694.2 269.9 693.4 270 692.2 270.9 689.9 271.5 688.7 272.4 686.4 273 685.2 273.9 682.7 274.5 681.2 275.4 678.7 276 678.2 276.4 677.2 276.5 675.7 277.4 673.2 278 671.7 278.9 670.2 279 668.2 279.9 666.7 280 665.2 280.8 663.2 281 658.7 282.4 656.7 282.4 653.7 283.4 651.2 283.4 649.7 283.9 640.7 283.7 637.7 283.2 635.7 282.3 633.6 280.5 631.6 277.5 629.9 274 628.3 269.5 627 264 626 258 624.8 243.6 624.9 227.1 626.2 212.6 627.3 206.6 628.8 201.1 630.3 197.1Z" fill="#4538d7"/>
<path d="M855.2 54 859.7 54.6 862.7 56 864.2 57 868.7 61.5 871.4 66.6 873.4 71.6 875.1 80.1 875 94.1 874.5 95.1 874.4 97.1 873.4 101.1 872.2 104.6 870.2 109.1 868.9 110.6 867.7 112.7 865.2 115.2 862.7 117 860.5 118.1 858.2 118.7 853.7 118.7 851.7 118.1 849.2 116.9 845.2 113.4 842.4 109.6 839.7 103.6 838.2 98.6 837.6 95.6 837.5 93.1 837.1 91.6 837 81.6 837.5 80.1 837.5 77.6 837.9 76.6 838 74.6 840.5 67.1 842.8 62.5 844.2 61 844.8 60 847.7 57.1 851.7 54.8ZM638.2 190.6 641.2 189.4 649.7 189.3 650.7 189.8 653.2 189.8 656.7 190.7 658.2 190.8 664.7 192.7 667.7 193.2 670.2 194.1 671.2 194.2 683.7 198.8 684.7 199.6 688.7 200.8 691.7 202.6 694.7 203.8 695.7 204.6 696.7 204.8 697.7 205.6 698.7 205.8 705.6 210.1 706.7 211.1 708.7 212.1 710.7 213.6 714.7 217.6 715.7 218.1 719.1 222.1 721.4 225.6 723.4 230.1 724.1 233.1 724.1 240.1 723.7 241.1 723.5 243.1 720.7 248.6 717.2 252.6 716.7 253.6 715.2 255.1 714.2 255.7 710.2 259.7 701.7 265.2 692.2 270.5 689.7 271.3 688.7 272 686.2 272.8 685.2 273.5 671.2 278.6 666.7 279.6 664.7 280.5 661.2 281 658.7 281.9 656.7 282 653.7 282.9 651.2 282.9 649.7 283.4 640.7 283.2 638.7 282.4 637.6 281 637.2 277.4 634.5 271 632.4 262.5 630.9 250.6 630.3 237.1 630.8 222.6 632.2 210.6 634 202.6 635.4 198.6 637.2 194.8 637.6 191.6Z" fill="#4740e4"/>
<path d="M855.2 54.3 859.7 54.8 862.2 56 864.2 57.3 868.3 61.5 871.2 66.6 873.3 72.1 874.8 80.1 874.7 93.6 873.6 99.1 871.9 104.6 869.8 109.1 867.3 112.6 864.8 115.1 862.7 116.6 860.2 117.8 858.2 118.4 853.7 118.3 851.7 117.7 849.2 116.4 845.3 113.1 842.8 109.6 840.1 103.6 838.6 98.6 838 95.6 837.9 93.1 837.4 91.6 837.3 81.6 837.8 80.1 837.9 77.6 838.2 76.6 838.3 74.6 840.9 67.1 842.8 63 845.1 60 847.7 57.5 851.7 55.1ZM638.3 191.1 639.2 190.4 641.2 189.8 649.2 189.6 650.7 190.1 653.2 190.1 656.7 191 658.2 191.1 671.2 194.5 683.7 199.1 684.7 199.9 688.7 201.1 697.7 205.9 698.7 206.1 705.2 210.1 706.7 211.4 708.2 212.1 709.2 213.1 710.7 213.9 714.7 217.9 715.7 218.4 718.8 222.1 721.1 225.6 723.3 230.6 723.8 233.1 723.8 240.1 723.4 241.1 723.1 243.1 720.3 248.6 716.9 252.6 716.4 253.6 713.9 255.6 709.9 259.5 706.7 261.4 705.4 262.5 703.7 263.4 701.5 265 698.7 266.8 697.7 267 694.2 269.3 693.2 269.5 692.2 270.3 689.7 271 688.7 271.8 686.2 272.5 685.2 273.3 671.2 278.3 666.7 279.3 664.7 280.2 661.2 280.7 658.7 281.6 656.7 281.7 653.7 282.5 651.2 282.6 649.7 283 640.7 282.8 638.7 282 637.9 280.5 637.7 271.2 635.9 264.5 634.5 255.6 633.8 247.1 633.4 237.1 633.6 227.6 634.3 218.1 635.8 208.1 637.7 200.9 638 192.1Z" fill="#4849ed"/>
<path d="M855.2 54.5 859.7 55.1 862.2 56.3 864 57.5 868.2 61.7 870.9 66.6 873 72.1 874.5 80.1 874.4 93.6 874 95.1 873.8 97.1 871.8 104.1 869.5 109.1 868.5 110.1 867.4 112.1 864.7 114.8 862.7 116.3 860.2 117.5 858.2 118 853.7 118 851.7 117.4 849.2 116.1 845.7 113 842.9 109.1 840.3 103.6 839.7 100.6 838.8 98.6 838.2 95.6 838.2 93.1 837.7 91.6 837.7 81.1 838.1 80.1 838.7 74.6 840.8 68.1 843.2 63 845.2 60.5 848 57.5 852.2 55.1ZM638.7 191.1 641.2 190.1 649.2 190 650.7 190.5 652.7 190.4 656.7 191.4 658.2 191.4 671.2 194.8 683.2 199.3 684.7 200.2 688.7 201.5 689.4 202.1 698.7 206.4 705.2 210.4 706.4 211.6 708.2 212.4 710.3 214.1 714.2 217.8 715.3 218.6 718.7 222.4 720.8 225.6 723 230.6 723.6 233.1 723.5 240.1 723.1 241.1 723 242.6 720.4 248.1 716.2 253.4 709.7 259.4 698.7 266.5 697.7 266.8 694.2 269 693.2 269.3 692.1 270 689.7 270.8 688.7 271.5 686.2 272.3 685.2 273 671.2 278.1 666.7 279.1 664.7 279.9 661.2 280.5 658.7 281.3 656.7 281.4 653.7 282.2 651.2 282.2 649.7 282.7 640.7 282.5 639.2 281.9 638.3 281 638.2 264.1 637.2 260 636.4 253.1 635.6 237.1 636.3 220.1 637.2 212.1 638.2 208 638.3 192.1Z" fill="#4852f4"/>
<path d="M855.2 54.8 859.7 55.3 862.2 56.6 863.7 57.6 868.1 62 870.7 66.7 872.8 72.1 874.3 80.1 874.2 93.6 873.7 95.1 873.6 97.1 871.5 104.1 869.7 107.6 869.5 108.6 868.2 110.1 867.2 112 864.6 114.6 862.2 116.3 858.2 117.9 853.7 117.8 851.7 117.2 849.5 116.1 845.7 112.7 843.1 109.1 840.6 103.6 839.1 98.6 838.9 96.6 838.4 95.6 838.3 92.6 837.9 91.6 837.8 81.6 838.2 80.6 838.8 74.6 840.8 68.6 843.5 63 844.9 61.5 845.4 60.5 848.2 57.7 852.2 55.4ZM638.7 191.5 639.2 191 641.2 190.3 649.2 190.2 650.2 190.6 652.7 190.7 653.7 191.1 655.7 191.2 656.2 191.6 658.2 191.7 658.7 192.1 662.2 192.7 664.4 193.6 667.7 194.1 670.1 195.1 671.2 195.1 683.2 199.6 684.2 200.3 688.2 201.6 695.2 205.2 696.7 205.7 697.2 206.2 698.7 206.7 705.2 210.7 706.2 211.7 708.2 212.7 708.8 213.6 710.2 214.2 714.2 218.2 715.2 218.7 718.5 222.6 720.5 225.6 722.7 230.6 723.3 233.1 723.2 240.1 722.8 241.1 722.7 242.6 720.1 248.1 716.6 252.1 716.1 253.1 714.7 254.6 713.7 255.1 709.7 259.1 706.3 261 705.2 262.2 703.4 263 701.2 264.7 694.2 268.8 691.7 270 689.6 270.5 688.2 271.5 686.1 272 684.7 273 671.2 277.8 666.7 278.8 664.7 279.7 661.2 280.2 658.7 281 656.7 281.1 653.7 281.9 651.2 282 649.7 282.4 640.7 282.3 639.2 281.6 638.5 280.5 638.2 252.6 637.5 246.6 637.2 237.1 637.4 227.1 638.3 215.6Z" fill="#475bf9"/>
<path d="M855.2 55.1 859.7 55.6 863.7 57.8 867.8 62 870.6 67.1 872.6 72.1 874.1 80.1 874 93.6 873.6 94.6 873.4 97.1 871.3 104.1 869.5 107.6 869.3 108.6 868 110.1 867.2 111.7 864.3 114.6 862.2 116.1 858.2 117.7 853.7 117.6 851.7 117 849.7 115.9 845.8 112.6 843.3 109.1 840.8 103.6 839.1 98.1 839.1 96.6 838.6 95.6 838.5 92.6 838.1 91.6 838 81.6 838.4 80.6 838.5 78.1 838.9 77.1 839 74.6 840.9 68.6 843.7 63.2 848.2 58 852.2 55.6 853.7 55.5ZM638.9 191.6 641.2 190.6 649.2 190.4 650.2 190.9 652.7 190.9 653.7 191.3 658.2 191.9 658.7 192.2 662.2 192.9 664.2 193.7 667.7 194.3 669.7 195.2 671.2 195.3 672.7 196.1 675.2 196.8 676.7 197.6 683.2 199.7 684.2 200.6 688.2 201.7 689.2 202.6 690.2 202.7 691.2 203.6 692.2 203.7 693.2 204.6 694.2 204.7 695.2 205.5 696.2 205.7 697.2 206.5 698.2 206.7 703.2 210 704.7 210.7 706.2 212 708.2 213 708.7 213.7 710.2 214.5 714.2 218.5 715.2 219 716.2 220.6 718.2 222.6 720.5 226.1 722.5 230.6 723.1 233.1 723 240.1 722.7 240.7 722.5 242.6 719.8 248.1 716.4 252.1 715.9 253.1 714.7 254.3 713.7 254.8 709.7 258.8 706.2 260.9 705.2 261.9 703.2 262.9 698.7 266 697.2 266.5 694.2 268.5 692.7 269 691.7 269.7 689.2 270.5 688.2 271.2 685.7 272 684.7 272.7 671.2 277.5 666.6 278.5 664.7 279.4 660.7 280 658.7 280.8 656.2 280.9 653.7 281.7 650.7 281.8 649.7 282.3 640.7 282.1 639.2 281.4 638.7 280.5 638.6 254.1Z" fill="#4564fd"/>
<path d="M855.2 55.2 859.7 55.7 861.7 56.7 863.6 58 867.7 62.1 870.4 67.1 870.6 68.1 872.4 72.1 873.5 77.1 873.5 79.1 873.9 80.1 873.9 93.6 873.4 94.6 873.3 96.6 871.2 104.1 869.3 107.6 869.1 108.6 867.8 110.1 867.1 111.6 864.2 114.4 862.2 115.9 858.2 117.5 853.7 117.4 851.7 116.7 849.7 115.7 846 112.6 843.5 109.1 840.8 103.1 839.3 98.1 839.3 96.6 838.8 95.6 838.7 92.6 838.3 91.6 838.2 81.6 838.6 80.6 838.6 78.1 839.1 77.1 839.1 75.1 841.1 68.6 843.7 63.4 845.2 61.8 845.7 60.8 848.4 58 852.2 55.8 854.2 55.6ZM639.1 191.6 641.2 190.8 649.2 190.6 650.2 191.1 652.7 191 653.7 191.5 657.7 192 658.7 192.5 662.2 193.1 664.2 193.9 667.7 194.5 669.7 195.4 671.2 195.5 672.7 196.3 675.2 197 676.7 197.8 683.2 199.9 684.2 200.8 688.2 201.9 689.2 202.8 690.2 202.9 691.2 203.7 692.2 203.9 693.2 204.7 694.2 204.9 695.2 205.7 696.2 205.9 697.2 206.7 698.2 206.9 703.2 210.2 704.7 210.9 706.2 212.2 707.9 213.1 708.7 213.9 709.9 214.6 713.9 218.6 714.9 219.1 718.2 222.8 720.3 226.1 722.3 230.6 722.5 232.1 722.9 233.1 722.9 239.6 722.5 240.6 722.4 242.6 719.7 247.9 716.2 252 715.7 253 714.6 254.1 713.6 254.6 709.7 258.6 706.2 260.6 705.2 261.7 703.2 262.7 701.2 264.2 698.2 266 697.2 266.3 694.2 268.3 692.7 268.8 691.7 269.5 689.2 270.3 688.2 271 685.7 271.8 684.7 272.5 672.7 276.6 671.2 277.4 666.2 278.5 664.7 279.3 660.7 279.9 658.7 280.7 656.2 280.7 653.2 281.6 650.7 281.6 649.7 282.1 640.7 281.8 639.2 281.1 638.9 280.5 638.8 254.6Z" fill="#406dfe"/>
<path d="M855.2 55.3 856.7 55.3 857.7 55.8 859.7 55.9 863.4 58 867.7 62.4 870.3 67.1 870.4 68.1 872.2 72.1 872.9 76.1 873.3 77.1 873.4 79.1 873.8 80.1 873.7 93.6 873.2 94.6 873.2 96.6 872.2 99.6 872.2 100.6 871 104.1 869.1 107.6 868.9 108.6 867.7 109.9 866.9 111.6 864.2 114.2 862.2 115.7 858.2 117.3 853.7 117.3 849.8 115.6 846.2 112.4 843.7 108.8 841 103.1 839.5 98.1 839.4 96.6 839 95.6 838.9 92.6 838.4 91.6 838.3 81.6 838.8 80.6 838.8 78.1 839.2 77.1 839.3 75.1 841.3 68.6 843.7 63.5 845.2 62 845.7 61 848.6 58 852.2 56 854.2 55.8ZM639.2 192 639.6 191.6 640.7 191.4 641.2 191 649.2 190.8 650.2 191.3 652.7 191.2 653.7 191.7 657.7 192.2 658.7 192.7 661.7 193.1 664.2 194.1 667.2 194.6 669.7 195.6 671.2 195.7 672.7 196.5 675.2 197.2 676.7 198 683.2 200.1 684.2 201 688.2 202.1 689.2 202.9 690.2 203.1 691.2 203.9 692.2 204.1 693.2 204.9 694.2 205.1 695.2 205.9 696.2 206.1 697.2 206.9 698.2 207.1 703.2 210.4 704.7 211 706.2 212.4 707.7 213 709.7 214.6 713.7 218.6 714.7 219.1 718.2 223 720.1 226.1 722.1 230.6 722.3 232.1 722.7 233.1 722.8 239.6 722.3 240.6 722.2 242.6 719.7 247.7 716.2 251.7 715.7 252.8 714.4 254.1 713.4 254.6 709.5 258.5 706.2 260.4 705 261.5 703.2 262.5 700.7 264.3 699.2 265 698.2 265.9 697.2 266 693.7 268.4 692.7 268.5 691.7 269.4 689.2 270 688.2 270.9 685.7 271.5 684.7 272.4 676.7 275 671.2 277.2 666.2 278.3 664.7 279.1 660.7 279.7 658.2 280.6 656.2 280.5 653.2 281.5 650.7 281.4 649.7 281.9 640.7 281.6 639.5 281 639.1 280.5Z" fill="#3777fe"/>
<path d="M855.2 55.5 856.7 55.5 857.7 55.9 859.6 56 863.2 58.1 867.6 62.5 870.1 67.1 870.3 68.1 872.1 72.1 872.2 73.6 872.7 74.6 872.7 76.1 873.2 77.1 873.2 79.1 873.7 80.1 873.6 93.6 873.1 94.6 873 96.6 872 99.6 872 100.6 870.8 104.1 869 107.6 868.7 108.6 867.7 109.7 866.7 111.6 864.1 114.1 862 115.6 858.2 117.1 853.7 117.1 853.2 116.7 852.2 116.6 850.2 115.5 848.7 114.1 848.2 114 846.2 112.1 846.1 111.6 843.7 108.6 843.7 108.1 842.7 106.6 842.6 105.6 841.2 103.1 840.5 100.1 839.7 98.1 839.5 96.1 839.1 95.6 839 92.6 838.6 91.6 838.5 81.6 838.9 80.6 838.9 78.1 839.4 77.1 839.4 75.1 841.5 68.6 843.9 63.5 845.3 62 845.8 61 848.7 58.2 852.2 56.1 854.2 55.9ZM639.3 192.1 639.7 191.7 640.7 191.7 641.2 191.1 649.2 191 650.2 191.5 652.7 191.4 653.7 191.9 657.7 192.3 658.7 192.8 661.7 193.3 664.2 194.3 667.2 194.8 669.7 195.7 670.7 195.7 676.7 198.2 683.2 200.3 684.2 201.1 688.2 202.3 691.2 204.1 692.2 204.3 693.2 205.1 694.2 205.3 695.2 206.1 696.2 206.2 697.2 207.1 698.2 207.2 703.1 210.6 704.7 211.2 706.1 212.6 707.7 213.2 708.2 214.1 709.7 214.7 713.7 218.7 714.7 219.2 718 223.1 720 226.1 721.9 230.6 722.1 232.1 722.6 233.1 722.6 239.6 722.1 240.6 722 242.6 719.6 247.6 716.1 251.6 715.6 252.6 714.2 254 713.2 254.6 709.2 258.5 706.2 260.3 704.8 261.5 703.2 262.3 700.7 264.2 699.2 264.9 698.2 265.7 697.2 265.9 693.7 268.2 692.7 268.4 691.7 269.2 689.2 269.9 688.2 270.7 685.7 271.4 684.7 272.2 676.7 274.8 671.2 277.1 669.7 277.2 667.2 278.1 666.2 278.1 664.2 279 662.7 279 661.7 279.5 660.7 279.5 658.2 280.4 656.2 280.4 653.2 281.3 650.7 281.2 649.7 281.7 640.7 281.5 640.2 281 639.7 280.9 639.3 280.5Z" fill="#2f80fa"/>
<path d="M855.2 55.6 859.2 56.1 861.7 57.2 863.2 58.2 867.5 62.5 869.9 67.1 870.1 68.1 871.9 72.1 872.1 73.6 872.6 74.6 872.6 76.1 873 77.1 873.1 79.1 873.5 80.1 873.4 93.6 872.9 94.6 872.9 96.6 872.4 97.6 872.4 98.6 870.8 103.6 868.7 108.3 867.5 109.6 866.7 111.2 863.7 114.1 863.2 114.2 861.7 115.5 860.2 116 859.7 116.5 858.7 116.5 858.2 117 853.7 117 853.2 116.5 852.2 116.4 851.7 116 850.2 115.4 846.3 112.1 846.3 111.6 843.8 108.6 842.8 106.6 842.7 105.6 841.3 103.1 841.2 102.1 840.8 101.6 840.7 100.1 840.3 99.6 840.2 98.6 839.8 98.1 839.7 96.1 839.2 95.6 839.2 92.1 838.7 91.6 838.7 81.6 839.1 80.6 839.1 78.1 839.5 77.1 839.6 75.1 841.7 68.6 844.1 63.5 845.5 62 846 61 848.7 58.4 852.2 56.3 854.2 56.1ZM639.4 192.1 640.7 191.8 641.2 191.3 649.2 191.1 649.7 191.6 652.7 191.6 653.2 192.1 655.2 192.1 655.7 192.5 657.7 192.5 658.2 193 659.7 193 660.2 193.4 661.7 193.5 663.7 194.3 667.2 194.9 669.7 195.9 670.7 195.9 672.7 196.9 683.2 200.5 684.2 201.3 688.2 202.5 691.2 204.3 692.2 204.5 693.2 205.2 694.2 205.4 695.2 206.2 696.2 206.4 697.2 207.2 698.2 207.4 702.9 210.6 704.7 211.4 705.9 212.6 707.7 213.4 708.2 214.2 709.7 214.9 713.7 218.9 714.7 219.4 715.8 221.1 717.8 223.1 719.8 226.1 721.9 231.1 721.9 232.1 722.4 233.1 722.5 239.6 722 240.6 721.8 242.6 719.4 247.6 716 251.6 715.5 252.6 714.2 253.9 713.2 254.4 709.2 258.4 708.2 258.7 707.7 259.5 706.2 260.1 704.7 261.5 703.2 262.2 698.2 265.6 697.2 265.7 693.7 268.1 692.7 268.3 691.7 269.1 689.2 269.8 688.2 270.6 685.7 271.2 684.7 272.1 676.7 274.7 671.2 276.9 669.7 277 667.2 278 666.2 278 664.2 278.9 662.7 278.9 661.7 279.4 660.7 279.3 658.2 280.3 656.2 280.2 653.2 281.1 650.2 281 649.7 281.5 640.7 281.3 640.2 280.8 639.7 280.8 639.4 280.5Z" fill="#2d89f5"/>
<path d="M855.2 55.7 859.2 56.2 861.7 57.4 863.2 58.4 867.3 62.5 869.8 67.1 871.9 72.6 872.4 76.1 872.9 77.1 872.9 79.1 873.4 80.1 873.3 93.6 872.8 94.6 872.7 96.6 872.3 97.6 872.2 98.6 870.7 103.6 868.7 107.1 868.6 108.1 867.1 109.6 866.6 111.1 863.7 114 863.2 114 861.7 115.4 861.2 115.4 859.7 116.4 858.7 116.4 858.2 116.9 853.7 116.8 853.2 116.4 852.2 116.3 851.7 115.8 850.2 115.3 846.4 112.1 846.4 111.6 843.9 108.6 842.9 106.6 842.8 105.6 841.4 103.1 841.3 102.1 840.9 101.6 840.8 100.1 839.9 98.1 839.8 96.1 839.4 95.6 839.3 92.1 838.8 91.6 838.8 81.6 839.2 81.1 839.2 78.1 839.7 77.6 839.7 75.1 840.2 74.6 840.2 73.6 840.6 73.1 840.7 72.1 841.1 71.6 841.7 69 844.2 63.8 845.7 62 846.2 61.1 848.7 58.5 852.2 56.5 854.2 56.2ZM639.6 192.1 640.7 191.9 641.2 191.4 649.2 191.3 649.7 191.7 652.7 191.7 653.2 192.2 655.2 192.2 655.7 192.7 657.7 192.7 658.2 193.1 659.7 193.1 660.2 193.6 661.7 193.6 662.2 194.1 663.2 194.1 663.7 194.6 665.2 194.6 665.7 195.1 667.2 195.1 667.7 195.6 668.7 195.6 669.2 196.1 670.7 196.1 672.2 197 674.7 197.5 676.2 198.4 677.2 198.5 677.7 198.9 678.7 199 681.7 200.3 682.9 200.6 683.7 201.3 687.9 202.6 688.7 203.2 689.9 203.6 690.7 204.2 692 204.6 692.7 205.2 694 205.6 694.7 206.2 698 207.6 702.7 210.6 704.6 211.6 705.7 212.6 707.6 213.6 708.2 214.4 709.6 215.1 713.7 219.1 714.6 219.6 715.6 221.1 717.7 223.2 719.7 226.2 721.8 231.1 721.8 232.1 722.3 233.1 722.3 239.6 721.8 240.6 721.8 242.1 719.2 247.6 715.8 251.6 715.3 252.6 714.2 253.7 713.2 254.2 709.2 258.3 708.2 258.5 707.7 259.3 706 260 704.7 261.3 703.1 262 698.2 265.4 697.2 265.6 693.7 267.9 692.7 268.1 691.7 269 689.2 269.6 688.2 270.5 685.7 271.1 684.7 271.9 676.7 274.5 675.2 275.3 672.7 276 670.7 276.9 669.7 276.9 667.2 277.8 666.2 277.8 664.2 278.8 662.7 278.7 661.7 279.2 660.7 279.2 658.2 280.1 655.7 280 655.2 280.5 653.7 280.5 653.2 281 650.2 280.9 649.7 281.4 640.7 281.2 640.2 280.7 639.7 280.7Z" fill="#2b91ef"/>
<path d="M855.2 55.9 859.2 56.4 861.7 57.5 863.2 58.5 867.2 62.6 869.7 67.1 871.8 72.6 872.3 76.1 872.8 77.1 872.8 79.1 873.2 80.1 873.1 93.6 872.7 94.1 872.6 96.6 872.1 97.1 872.1 98.6 871.6 99.1 871.6 100.6 871.1 101.1 870.6 103.6 868.6 107.1 868.5 108.1 867 109.6 866.5 111.1 863.7 113.9 863.2 113.9 861.7 115.3 861.2 115.3 859.7 116.3 858.7 116.3 858.2 116.8 853.7 116.7 853.2 116.2 852.2 116.2 851.7 115.7 850.2 115.2 846.5 112.1 846.5 111.6 844 108.6 843 106.6 843 105.6 841.5 103.1 841.5 102.1 841 101.6 840.9 100.1 840 98.1 839.9 96.1 839.5 95.6 839.4 92.1 838.9 91.6 838.9 81.6 839.3 81.1 839.3 78.1 839.8 77.6 839.8 75.1 840.3 74.6 840.3 73.6 840.7 73.1 840.7 72.1 841.2 71.6 841.2 70.6 841.7 70.1 841.7 69.1 844.2 64.6 844.2 64.1 848.9 58.5 852.3 56.5 854.2 56.4ZM639.8 192.6 641.4 191.6 649.2 191.4 649.7 191.9 652.7 191.8 653.2 192.3 655.2 192.3 655.7 192.8 657.7 192.8 658.2 193.3 659.7 193.2 660.2 193.7 661.7 193.7 662.2 194.2 663.2 194.2 663.7 194.7 665.2 194.7 665.7 195.2 667.2 195.2 667.7 195.7 668.7 195.7 669.2 196.2 670.7 196.2 672.2 197.1 674.7 197.6 676.2 198.6 677.2 198.6 677.7 199.1 680.2 199.6 681.7 200.6 682.7 200.6 683.7 201.6 684.7 201.6 685.2 202.1 687.7 202.6 688.7 203.6 689.7 203.6 690.7 204.6 691.7 204.6 692.7 205.5 693.7 205.6 694.7 206.5 695.7 206.5 696.7 207.5 697.7 207.6 698.7 208.5 700.2 209.1 702.7 211 704.2 211.6 705.7 212.9 707.2 213.6 708.7 215 709.2 215.1 713.7 219.5 714.2 219.6 715.2 220.5 715.2 221.1 717.7 223.5 717.7 224.1 718.7 225 718.7 225.6 719.7 226.5 720.2 228.1 720.6 228.6 720.6 229.6 721.6 231.1 721.6 232.6 722.1 233.1 722.2 239.6 721.7 240.1 721.7 242.1 719.2 247.3 715.6 251.6 715.2 252.5 714.1 253.6 713.2 254.1 709.2 258.1 708.2 258.3 707.7 259.1 705.8 260 704.7 261.2 702.9 262 700.7 263.7 698.2 265.3 697.2 265.5 693.7 267.8 692.7 268 691.7 268.8 689.2 269.5 688.2 270.3 685.7 271 684.7 271.8 682.2 272.4 680.7 273.3 676.7 274.4 670.7 276.8 669.7 276.8 667.2 277.7 665.7 277.8 664.2 278.6 662.2 278.6 661.7 279.1 660.2 279 659.7 279.5 658.7 279.5 658.2 280 655.7 279.9 655.2 280.4 653.7 280.4 653.2 280.9 650.2 280.8 649.7 281.3 640.7 281.1 639.7 280 639.6 249.1 639.9 235.6Z" fill="#2699e9"/>
<path d="M855.2 56 859.2 56.5 862.9 58.5 867.2 62.9 869.7 67.4 869.8 68.6 870.7 70.1 870.8 71.1 871.7 72.6 871.7 74.1 872.2 74.6 872.2 76.6 872.6 77.1 872.7 79.6 873.1 80.1 873 93.6 872.6 94.1 872.5 96.6 872.1 97.1 872 98.6 871.5 99.1 871.5 100.6 871 101.1 870.5 103.6 868.5 107.1 868.4 108.1 866.9 109.6 866.4 111.1 863.7 113.7 863.2 113.8 861.7 115.2 861.2 115.2 859.7 116.2 858.7 116.2 858.2 116.7 853.7 116.6 853.2 116.1 852.2 116.1 850.2 115.1 846.7 112.1 846.6 111.6 844.2 108.6 843.1 106.6 843.1 105.6 841.6 103.1 841.6 102.1 841.1 101.6 841 100.1 840.1 98.1 840 96.1 839.6 95.6 839.5 92.1 839 91.6 839 81.6 839.4 81.1 839.4 78.1 839.9 77.6 839.9 75.1 840.4 74.6 840.4 73.6 840.8 73.1 840.8 72.1 841.3 71.6 841.3 70.6 841.8 70.1 841.8 69.1 844.2 64.6 844.3 64.1 846.2 62 846.2 61.5 849.2 58.6 849.7 58.6 850.7 57.6 851.2 57.6 852.7 56.6 854.7 56.4ZM640.1 192.6 641.7 191.9 649.2 191.5 649.7 192 652.7 191.9 653.2 192.4 655.2 192.4 655.7 192.9 657.7 192.9 658.2 193.4 659.7 193.4 660.2 193.9 661.7 193.8 662.2 194.3 663.2 194.3 663.7 194.8 665.2 194.8 665.7 195.3 667.2 195.3 667.7 195.8 668.7 195.8 669.2 196.3 670.7 196.3 672.2 197.3 674.7 197.7 676.2 198.7 677.2 198.7 677.7 199.2 680.2 199.7 681.7 200.7 682.7 200.7 683.7 201.7 684.7 201.7 685.2 202.2 687.7 202.7 688.7 203.7 689.7 203.7 690.7 204.7 691.7 204.7 692.7 205.6 693.7 205.7 694.7 206.6 695.7 206.6 696.7 207.6 697.7 207.6 698.7 208.6 700.2 209.1 701.2 210.1 701.7 210.1 702.7 211.1 704.2 211.6 705.7 213.1 707.2 213.6 707.7 214.6 709.2 215.1 713.7 219.6 714.2 219.6 715.1 220.6 715.1 221.1 717.6 223.6 717.6 224.1 719.6 226.6 720.1 228.1 720.5 228.6 720.6 229.6 721.5 231.1 721.5 232.6 722 233.1 722.1 239.6 721.6 240.1 721.6 242.1 721.1 242.6 721.1 243.1 720.6 243.6 719.1 247.1 715.3 251.6 715.2 252.2 713.8 253.6 713.2 253.7 709 258 708.2 258.2 707.5 259 705.7 260 704.6 261 693.7 267.7 692.7 267.9 691.7 268.7 689.2 269.4 688.2 270.2 685.7 270.9 684.7 271.6 672.2 275.9 670.7 276.6 669.2 276.7 668.7 277.1 667.7 277.1 667.2 277.6 665.7 277.5 664.2 278.5 662.2 278.5 661.7 279 660.2 278.9 659.7 279.4 658.7 279.4 658.2 279.9 655.7 279.8 655.2 280.3 653.7 280.3 653.2 280.8 650.2 280.7 649.7 281.2 641.2 280.7 640.2 280.2 639.7 253.1 640.2 236.1Z" fill="#23a1e5"/>
<path d="M855.2 56.1 856.7 56.1 857.2 56.6 859.2 56.6 860.7 57.6 861.2 57.6 862.2 58.6 862.7 58.6 867.1 63 867.6 64.6 868.6 65.6 868.6 66.1 869.6 67.6 869.6 68.6 870.6 70.1 870.6 71.1 871.6 72.6 871.6 74.1 872.1 74.6 872.1 76.6 872.6 77.1 872.6 79.6 873 80.1 873 93.6 872.5 94.1 872.4 96.6 872 97.1 871.9 98.6 871.4 99.1 871.4 100.6 870.9 101.1 870.4 103.6 868.4 107.1 868.3 108.1 866.8 109.6 866.3 111.1 863.7 113.6 863.2 113.7 861.7 115.1 861.2 115.1 859.7 116.1 858.7 116.1 858.2 116.6 854.2 116.4 852.2 115.7 850.2 114.6 848.2 113.1 845.6 110.1 843.5 106.6 841.4 101.6 840.2 97.6 840.1 96.1 839.8 95.6 839.6 92.1 839.1 91.6 839.1 81.6 839.5 81.1 839.5 78.1 840 77.6 840 75.1 840.4 74.6 840.5 73.6 840.9 73.1 840.9 72.1 841.4 71.6 841.4 70.6 841.9 70.1 841.9 69.1 844.3 64.6 844.4 64.1 846.3 62 846.3 61.5 849.2 58.7 849.7 58.7 850.7 57.7 851.2 57.6 852.7 56.6 854.7 56.6ZM640.5 193.1 641.7 192.3 648.7 191.8 649.7 192.2 652.7 192.1 653.2 192.6 655.2 192.5 655.7 193 657.7 193 658.2 193.5 659.7 193.5 660.2 194 661.7 194 662.2 194.4 663.2 194.4 663.7 194.9 665.2 194.9 665.7 195.4 667.2 195.4 667.7 195.9 668.7 195.9 669.2 196.4 670.7 196.4 672.2 197.4 674.7 197.8 676.2 198.8 677.2 198.8 677.7 199.3 680.2 199.8 681.7 200.8 682.7 200.8 683.7 201.8 684.7 201.8 685.2 202.3 687.7 202.8 688.7 203.8 689.7 203.8 690.7 204.8 691.7 204.8 692.7 205.7 693.7 205.8 694.7 206.7 695.7 206.7 696.7 207.7 697.7 207.7 698.7 208.7 700.2 209.2 701.2 210.2 701.7 210.2 702.7 211.2 704.2 211.7 705.7 213.2 707.2 213.7 707.7 214.7 709.2 215.2 713.7 219.7 714.2 219.7 715 220.6 715 221.1 717.5 223.6 717.5 224.1 719.5 226.6 720 228.1 720.4 228.6 720.5 229.6 721.4 231.1 721.4 232.6 721.9 233.1 722 239.6 721.5 240.1 721.5 242.1 721 242.6 721 243.1 720.5 243.6 719 247.1 717.6 248.6 717.6 249.1 715.1 251.6 715.1 252.1 713.7 253.5 713.2 253.5 708.7 258 708.2 258.1 707.2 259 705.7 259.7 704.3 261 702.7 261.8 698 265 696.7 265.5 693.6 267.5 692.7 267.7 691.2 268.7 689.2 269.2 688.1 270 685.7 270.7 684.5 271.5 682.2 272.2 680.2 273.2 676.2 274.2 674.7 275.1 672.2 275.6 670.7 276.5 669.2 276.5 668.7 277 667.7 277 667.2 277.5 665.7 277.4 664.2 278.4 662.2 278.4 661.7 278.9 660.2 278.8 659.7 279.3 658.7 279.3 658.2 279.8 655.7 279.7 655.2 280.2 653.7 280.2 653.2 280.7 650.2 280.6 649.7 281.1 641.2 280.3 640.4 279.5 640.1 255.1 640.6 235.6Z" fill="#1da8e0"/>
<path d="M855.2 56.2 856.7 56.2 857.2 56.7 859.2 56.7 860.7 57.7 861.2 57.7 862.2 58.7 862.7 58.7 867 63 867.5 64.6 868.5 65.6 868.5 66.1 869.5 67.6 869.5 68.6 870.5 70.1 870.5 71.1 871.5 72.6 871.5 74.1 872 74.6 872 76.6 872.5 77.1 872.5 79.6 873 80.1 872.9 93.6 872.4 94.1 872.3 96.6 871.9 97.1 871.8 98.6 871.4 99.1 871.3 100.6 870.8 101.1 870.3 103.6 868.3 107.1 868.2 108.1 866.7 109.6 866.2 111.1 863.7 113.5 863.2 113.6 861.7 114.8 857.7 116.3 854.2 116.2 850.7 114.6 848.2 112.7 845.7 109.7 843.5 106.1 841.5 101.1 839.9 95.1 839.7 92.1 839.3 90.6 839.2 81.6 839.6 81.1 839.6 78.1 840.1 77.6 840.1 75.1 840.5 74.6 840.6 73.6 841 73.1 841 72.1 841.5 71.6 841.5 70.6 842 70.1 842 69.1 844.4 64.6 844.4 64.1 846.4 62 846.4 61.5 849.2 58.8 849.7 58.7 850.7 57.7 852.2 57.2 852.7 56.7 854.7 56.7ZM641.2 193.5 643 192.6 648.7 192.1 649.7 192.6 652.2 192.4 653.2 192.9 654.7 192.8 655.7 193.3 657.2 193.2 660.2 194.1 661.7 194.2 662.2 194.6 663.2 194.6 663.7 195 665.2 195 665.7 195.5 667.2 195.5 667.7 196 668.7 196 669.2 196.5 670.7 196.5 672.2 197.5 674.7 198 676.2 198.9 677.2 198.9 677.7 199.4 680.2 199.9 681.7 200.9 682.7 200.9 683.7 201.9 684.7 201.9 685.2 202.4 687.7 202.9 688.7 203.9 689.7 203.9 690.7 204.9 691.7 204.9 692.7 205.8 693.7 205.8 694.7 206.8 695.7 206.8 696.7 207.8 697.7 207.8 698.7 208.8 700.2 209.3 701.2 210.3 701.7 210.3 702.7 211.3 704.2 211.8 705.7 213.3 707.2 213.8 707.7 214.8 709.2 215.3 713.7 219.8 714.2 219.8 714.9 220.6 714.9 221.1 717.4 223.6 717.4 224.1 719.4 226.6 719.9 228.1 720.4 228.6 720.4 229.6 721.3 231.1 721.3 232.6 721.8 233.1 721.9 239.6 721.4 240.1 721.4 242.1 720.9 242.6 720.9 243.1 720.4 243.6 718.9 247.1 717.5 248.6 717.5 249.1 715 251.6 715 252.1 713.7 253.4 713.2 253.4 708.7 258 707.7 258 707.2 259 705.7 259.5 704.2 261 702.7 261.5 700.2 263.5 698.7 264.1 697.7 265 696.7 265.2 695.8 266 694.2 266.7 693.3 267.5 692.2 267.7 691.2 268.6 688.7 269.2 687.7 270.1 685.2 270.7 684.2 271.5 681.7 272.1 680.2 273 677.7 273.5 677.2 274 676.2 274 674.7 275 672.2 275.5 670.7 276.4 669.2 276.4 668.7 276.9 667.7 276.9 667.2 277.4 665.7 277.4 664.2 278.3 662.2 278.3 661.7 278.8 660.2 278.7 659.7 279.2 658.7 279.2 658.2 279.7 655.7 279.6 655.2 280.1 653.7 280.1 653.2 280.5 650.2 280.3 649.2 280.7 641.7 280 641.2 279.7 640.8 279 640.3 252.6 641.1 235.6 640.7 223.6Z" fill="#16aeda"/>
<path d="M855.2 56.3 856.7 56.3 857.2 56.8 859.2 56.8 860.7 57.7 861.2 57.8 862.2 58.7 862.7 58.7 866.9 63 867.5 64.6 868.4 65.6 868.4 66.1 869.4 67.6 869.5 68.6 870.4 70.1 870.4 71.1 871.4 72.6 871.4 74.1 871.9 74.6 871.9 76.6 872.4 77.1 872.4 79.6 872.9 80.1 872.8 93.6 872.3 94.1 872.2 96.6 871.8 97.1 871.7 98.6 871.3 99.1 871.2 100.6 870.7 101.1 870.2 103.6 868.2 107.1 868 108.1 866.7 109.5 865.8 111.1 863.7 113 861.4 114.6 857.7 116 854.2 115.9 850.7 114.3 848.2 112.4 845.9 109.6 843.8 106.1 841.7 101.1 840.1 95.1 839.5 90.1 839.4 82.1 839.7 81.1 839.8 78.6 840.2 77.6 840.3 75.1 840.7 73.6 841.1 73.1 841.1 72.1 841.6 71.6 841.6 70.6 842.1 70.1 842.1 69.1 844.5 64.6 844.5 64.1 849.2 58.9 849.7 58.8 850.7 57.8 852.2 57.3 852.7 56.8 854.7 56.8ZM642.2 193.9 647.3 192.6 649.7 192.9 652.2 192.8 652.7 193.1 654.7 193.2 655.7 193.6 657.2 193.6 658.2 194 659.2 194 663.7 195.3 666.7 195.8 669.2 196.7 670.2 196.7 672.2 197.6 674.7 198.1 676.2 199 677.2 199 677.7 199.5 680.2 200 681.7 201 682.7 201 683.7 202 684.7 202 685.2 202.5 687.7 203 688.7 204 689.7 204 690.7 204.9 691.7 205 692.7 205.9 693.7 205.9 694.7 206.9 695.7 206.9 696.7 207.9 697.7 207.9 698.7 208.9 700.2 209.4 701.2 210.4 701.7 210.4 702.7 211.4 704.2 211.9 705.7 213.4 707.2 213.9 707.7 214.9 709.2 215.4 713.7 219.9 714.2 219.9 714.8 220.6 714.8 221.1 717.3 223.6 717.3 224.1 719.3 226.6 719.8 228.1 720.3 228.6 720.3 229.6 721.2 231.1 721.2 232.6 721.7 233.1 721.8 239.6 721.3 240.1 721.3 242.1 720.8 242.6 720.8 243.1 720.3 243.6 718.8 247.1 717.4 248.6 717.4 249.1 714.9 251.6 714.9 252.1 713.7 253.3 713.2 253.3 708.7 257.9 707.7 257.9 707.2 258.9 705.7 259.4 704.2 260.9 702.7 261.5 701.7 262.5 701.2 262.5 700.2 263.5 698.7 264 697.7 265 696.7 265 695.7 266 694.2 266.5 693.2 267.5 692.2 267.5 691.2 268.5 688.7 269 687.7 270 685.2 270.5 684.2 271.5 681.7 272 680.2 273 677.7 273.5 677.2 273.9 676.2 273.9 674.7 274.9 672.2 275.4 670.7 276.3 669.2 276.3 668.7 276.8 667.7 276.8 667.2 277.3 665.7 277.3 664.2 278.2 662.2 278.2 661.7 278.7 660.2 278.6 659.7 279.1 658.7 279.1 658.2 279.6 655.7 279.5 652.7 280.2 650.2 280 648.7 280.4 645.2 280 641.8 279 640.6 251.6 641.6 236.1 641.4 223.1Z" fill="#09b4d1"/>
<path d="M855.2 56.4 856.7 56.4 857.2 56.8 859.2 56.9 860.7 57.8 861.2 57.8 862.2 58.8 862.7 58.8 866.9 63 867.4 64.6 868.4 65.6 868.4 66.1 869.3 67.6 869.4 68.6 870.3 70.1 870.4 71.1 871.3 72.6 871.3 74.1 871.8 74.6 871.8 76.6 872.3 77.1 872.3 79.6 872.8 80.1 872.7 93.6 872.2 94.1 872.2 96.6 871.7 97.1 871.6 98.6 871.2 99.1 871 100.6 869.9 103.6 867.9 107.6 864.9 111.6 861.2 114.5 859.2 115.3 857.2 115.8 854.2 115.6 850.7 114 847.7 111.6 845.1 108.1 842.5 102.6 840.9 97.6 839.7 89.1 839.6 82.1 839.9 81.1 840.4 75.6 842.4 69.1 843.6 66.1 844.6 64.6 844.6 64.1 849.2 58.9 849.7 58.9 850.7 57.9 852.2 57.4 852.7 56.9 854.7 56.9ZM643.4 194.6 648.2 193.4 649.2 193.6 651.7 193.2 657.2 193.9 657.7 194.3 661.2 194.7 663.3 195.6 666.7 196.1 669.2 197 670.2 197 671.7 197.7 682.7 201.3 683.7 202.1 687.7 203.2 688.6 204.1 689.7 204.1 690.7 205 691.7 205.1 692.7 206 693.7 206 694.7 207 695.7 207 696.7 208 697.7 208 698.7 209 700.2 209.5 701.2 210.5 701.7 210.5 702.7 211.5 704.2 212 705.7 213.5 707.2 214 707.7 215 709.2 215.5 713.7 220 714.2 220 714.7 220.6 714.7 221.1 717.2 223.6 717.2 224.1 719.2 226.6 719.7 228.1 720.2 228.6 720.2 229.6 721.1 231.1 721.1 232.6 721.6 233.6 721.7 239.6 721.2 240.1 721.2 242.1 720.7 242.6 720.7 243.1 720.2 243.6 718.8 247.1 717.3 248.6 717.3 249.1 714.8 251.6 714.8 252.1 713.7 253.2 713.2 253.3 708.7 257.8 707.7 257.8 707.2 258.8 705.7 259.3 704.2 260.9 702.7 261.4 701.7 262.4 701.2 262.4 700.2 263.4 698.7 263.9 697.7 264.9 696.7 264.9 695.7 265.9 694.2 266.4 693.2 267.4 692.2 267.4 691.2 268.4 688.7 268.9 687.7 269.9 685.2 270.4 684.2 271.4 681.7 271.9 680.2 272.9 677.7 273.4 677.2 273.9 676.2 273.9 674.7 274.8 672.2 275.3 670.7 276.3 669.2 276.2 668.7 276.7 667.7 276.7 667.2 277.2 665.7 277.2 664.2 278.1 662.2 278.1 661.7 278.6 660.2 278.5 657.7 279.3 655.7 279.2 652.7 279.9 649.7 279.7 648.7 280 642.7 278.3 642.4 278 641.2 251.1 642.1 236.6 642.1 221.6Z" fill="#01b9c7"/>
<path d="M855.2 56.5 856.7 56.5 857.2 56.9 859.2 56.9 860.7 57.9 861.2 57.9 862.2 58.9 862.7 58.9 866.8 63 867.3 64.6 868.3 65.6 868.3 66.1 869.3 67.6 869.3 68.6 870.3 70.1 870.3 71.1 871.2 72.6 871.3 74.1 871.7 74.6 871.8 76.6 872.2 77.1 872.2 79.6 872.7 80.1 872.5 93.1 872.1 94.1 872 96.1 869.8 103.1 867.7 107.6 865.2 111 861.2 114.2 857.2 115.5 854.7 115.3 850.7 113.6 848.2 111.6 845.6 108.1 842.7 102.1 841.2 97.4 840 91.1 839.8 82.1 840.2 81.1 840.7 75.6 842.4 69.6 844.5 65.1 846.8 61.5 849.2 59 849.7 59 850.7 58 852.2 57.5 852.7 57 854.7 57ZM647.2 194.6 651.7 194.2 656.7 194.4 660.8 195.1 663.2 195.9 664.7 196 668.7 197.2 670.2 197.3 675.7 199.4 679.7 200.5 682.2 201.4 683.2 202.2 687.2 203.4 688.2 204.1 689.2 204.3 690.2 205.1 691.2 205.3 692.2 206.1 693.2 206.3 694.2 207.1 697.7 208.5 702.4 211.6 704.2 212.4 705.4 213.6 706.7 214.2 707.4 215.1 709.2 215.9 713.3 220.1 714.2 220.4 714.7 221.4 716.7 223.6 718.9 227.1 720.9 231.6 720.9 232.6 721.3 233.6 721.4 239.1 721 240.1 721 241.6 718.7 247.1 717.2 248.6 717.2 249.1 714.7 251.6 714.7 252.1 713.7 253.1 713.2 253.2 708.7 257.7 707.7 257.7 707.2 258.7 705.7 259.3 704.2 260.8 702.7 261.3 701.7 262.3 701.2 262.3 700.2 263.3 698.7 263.8 697.7 264.8 696.7 264.8 695.7 265.8 694.2 266.4 693.2 267.4 692.2 267.4 691.2 268.4 688.7 268.9 687.7 269.9 685.2 270.4 684.2 271.3 681.7 271.8 680.2 272.8 677.7 273.3 677.2 273.8 676.2 273.8 674.7 274.7 672.2 275.2 670.7 276.2 669.2 276.2 668.7 276.6 667.7 276.6 667.2 277.1 665.7 277.1 664.2 277.9 662.2 277.9 657.7 279 655.7 278.9 652.2 279.6 649.7 279.1 648.7 279.2 644.7 278 642.7 269.3 641.9 255.6 641.9 248.6 642.6 236.1 642.8 221.6Z" fill="#0bbdbd"/>
<path d="M855.4 56.5 856.7 56.5 857.2 57 859.2 57 860.7 58 861.2 58 862.2 59 862.7 59 866.7 63 867.2 64.6 868.2 65.6 868.2 66.1 869.2 67.6 869.2 68.6 870.2 70.1 870.2 71.1 871.1 72.6 871.2 74.1 871.6 74.6 871.7 76.6 872.1 77.1 872.2 79.6 872.6 80.6 872.3 93.1 871.9 94.1 871.8 96.1 869.6 103.1 867.4 107.6 866 109.1 865.2 110.6 863.2 112.5 861.2 113.8 857.2 115 854.7 114.9 851.2 113.3 848.7 111.3 845.7 107.6 843 102.1 841.4 97.1 840.2 90.6 840 82.6 840.9 75.6 842.7 69.6 844.5 65.6 847.2 61.5 849.2 59.5 852.7 57.2 854.7 57ZM651.5 195.6 653.7 195.2 656.7 195.3 666.2 196.8 669.7 197.6 671.7 198.4 674.2 199 675.7 199.7 679.7 200.8 681.2 201.6 682.2 201.7 683.2 202.5 687.2 203.6 688.2 204.5 689.2 204.6 690.2 205.4 691.2 205.6 692.2 206.4 693.2 206.5 694.2 207.3 697.2 208.5 703.8 212.6 705.2 213.7 706.7 214.4 707.2 215.2 709.2 216.3 713.2 220.3 714.2 220.9 714.4 221.6 716.7 224 719.6 229.1 721.1 233.6 721.1 239.1 720.7 240.1 720.7 241.6 718.2 247.1 717.2 248.2 716.9 249.1 714.7 251.5 714.6 252.1 713.7 253.1 713.2 253.1 708.7 257.6 707.7 257.7 707.2 258.6 705.7 259.2 704.2 260.7 702.7 261.2 700.2 263.2 698.7 263.8 697.7 264.8 696.7 264.8 695.7 265.8 694.2 266.3 693.2 267.3 692.2 267.3 691.2 268.3 688.7 268.8 687.7 269.8 685.2 270.3 684.2 271.3 681.7 271.8 680.2 272.7 677.7 273.2 677.2 273.7 676.2 273.7 674.7 274.7 672.2 275.1 670.7 276.1 669.2 276.1 668.7 276.5 665.7 276.9 663.7 277.7 662.2 277.6 657.7 278.7 652.2 278.8 647.6 278 645 270 642.8 259 642.4 253.1 642.5 246.1 643.5 236.6 643.8 226.6 644.5 220.1 648.2 205.1 650 199.1Z" fill="#1fc0b2"/>
<path d="M856.2 56.8 857.2 57.2 858.7 57.2 861.2 58.3 862.7 59.3 866.4 63 868.9 67.6 871 73.1 871.5 76.6 871.9 77.6 872 79.6 872.4 80.6 872.1 93.1 871.7 94.1 871 98.1 869.3 103.1 867.1 107.6 864.7 110.7 863.2 112 860.7 113.5 857.2 114.5 854.7 114.3 851.2 112.7 849 111.1 845.6 106.6 843.5 102.1 841.8 97.1 840.6 90.6 840.3 82.6 841.1 75.6 842.9 69.6 845.2 64.6 847.4 61.5 849.4 59.5 853.2 57.3ZM658.2 196.4 669.7 198.3 682.2 202 683.2 202.8 687.2 204 688.2 204.8 689.2 204.9 690.2 205.7 691.2 205.9 692.2 206.7 693.2 206.8 694.2 207.6 695.2 207.8 696.2 208.6 697.2 208.8 702.2 212 703.7 212.7 707.2 215.5 709.1 216.6 713.1 220.6 713.9 221.1 716.4 224.1 718.4 227.1 720.3 231.6 720.8 234.1 720.9 238.6 720.4 240.1 720.4 241.6 718.2 246.6 716.5 249.1 714.6 251.1 714.1 252.1 712.8 253.1 708.7 257.5 707.7 257.6 707.2 258 707.2 258.6 705.7 259.1 704.2 260.6 702.7 261.1 700.2 263.2 698.7 263.7 697.7 264.7 696.7 264.7 695.7 265.7 694.2 266.2 693.2 267.2 692.2 267.2 691.2 268.2 688.7 268.7 687.7 269.7 685.2 270.2 684.2 271.2 681.7 271.7 680.2 272.7 677.7 273.1 677.2 273.6 676.2 273.6 674.7 274.6 673.7 274.6 673.2 275.1 672.2 275 670.2 275.9 669.2 275.9 666.7 276.7 665.7 276.6 663.7 277.4 661.7 277.4 657.2 278.2 650.4 277.5 647.2 269.7 644.8 261.5 643.6 255.1 643.3 249.6 645 226.1 646.8 217.1 649.7 208.5 652.7 201.9 654.2 199.5 656.7 196.6Z" fill="#2dc4a6"/>
<path d="M856.2 57 857.2 57.4 858.7 57.4 861 58.5 862.7 59.6 866.2 63.2 868.8 68.1 870.8 73.1 872.2 81.1 871.9 93.1 870.8 98.1 869.2 102.8 866.7 107.5 864.2 110.5 860.7 113 858.7 113.7 856.7 114 855.2 113.9 853.2 113.3 849.7 111 847.5 108.6 845.6 105.6 843.3 100.6 841.6 94.6 841 90.6 840.6 83.6 840.9 79.1 841.7 74.6 843.1 69.6 845.5 64.6 847.7 61.6 849.7 59.7 853.2 57.5ZM713.6 221.1 714.2 222 716.1 224.1 717.9 227.1 719.9 232.1 720.4 234.1 720.5 238.6 720.2 239.6 720.2 241.1 717.9 246.6 716.2 249.1 714.3 251.1 713.7 252.3 712.7 252.8 708.7 257 707.3 257.5 706.7 258.4 705.4 259 704.2 260.4 702.7 261.1 700.2 263.1 698.7 263.6 697.7 264.6 696.7 264.6 695.7 265.6 694.2 266.1 693.2 267.1 692.2 267.1 691.2 268.1 688.7 268.6 687.7 269.6 685.2 270.1 684.2 271.1 681.7 271.6 680.2 272.6 679.2 272.6 678.7 273.1 676.2 273.5 670.2 275.7 665.2 276.5 663.7 277.2 657.2 277.5 653.1 277 649.5 270 646 260 644.7 253.1 644.6 246.1 645.9 228.6 647.6 220.1 649.4 214.6 651.9 209.1 654.7 204.5 657.2 201.6 660.7 199 662.8 198.1 663.7 198 669.7 199 681.7 202.4 683.2 203.2 687.2 204.5 692.2 207 693.2 207.2 694.2 207.9 695.2 208.1 696.2 208.9 697.2 209.1 699.7 210.5 702.2 212.3 703.7 213 707.2 215.8 708.7 216.6 712.7 220.6Z" fill="#36c799"/>
<path d="M856.2 57.2 857.2 57.6 858.7 57.6 860.7 58.6 862.7 59.9 866.1 63.5 868.6 68.1 870.5 73.1 872 81.1 871.7 92.6 870.7 97.6 868.7 103 866.4 107.1 864 110.1 860.2 112.7 856.7 113.6 854.1 113.1 851.2 111.5 848 108.6 846 105.6 843.7 100.6 842 94.6 841.3 90.1 841 83.6 841.3 79.1 842.1 74.6 843.7 69.2 845.8 64.6 848.5 61 851.2 58.9 853.2 57.8ZM708.7 217.1 713.3 221.6 715.7 224.5 718 228.6 719.7 234.1 719.9 238.6 719.4 242.1 717.6 246.6 714.2 250.9 713.7 251.9 712.6 252.6 708.7 256.7 707.2 257.3 706.7 258.2 705.2 258.9 704 260 702.2 261 700.2 262.7 698.4 263.5 697.7 264.4 696.6 264.5 693.2 267 692.2 267.1 691.2 268.1 688.7 268.6 687.7 269.5 685.2 270.1 684.2 270.9 681.7 271.5 680.2 272.2 671.7 274.7 670.2 275.4 668.7 275.5 663.2 276.8 655.8 276.5 652 270.5 647.8 261 646.1 254.6 645.6 247.6 646.6 231.6 648.2 223.1 649.7 218.5 651.7 214 654.2 209.6 656.7 206.4 659.7 203.7 662.7 201.9 666.2 200.7 670.2 200 679.2 202.3 682.7 203.7 686.7 204.9 699.6 211.1Z" fill="#42ca8b"/>
<path d="M855.7 57.5 858.7 57.9 860.7 58.8 862.5 60 865.9 63.5 868.4 68.1 870.3 73.1 871.8 81.1 871.4 92.6 870.2 97.6 868.4 102.6 865.9 107.1 863.7 109.7 860.2 112.1 857.7 112.5 854.7 112.1 851.7 110.7 848.7 108.1 846.2 104.7 844.7 101.8 842.9 96.6 841.7 90.1 841.4 82.6 842.1 76.1 843.7 70.1 845.9 65.1 848 62 849.7 60.3 853.2 58 855.2 57.8ZM708.2 217.5 712.7 221.8 715 224.6 717.7 229.6 719.1 234.6 719 241.1 717.2 246.2 713.6 251.6 712.3 252.6 708.5 256.5 707.2 257.1 703.7 260 697.2 264.3 696.2 264.5 690.7 267.9 688.3 268.5 687.2 269.4 684.7 270 683.7 270.8 675.7 273.2 674.2 274 671.7 274.5 670.2 275.2 663.2 276.2 658.2 275.8 654 270 649.3 261 647.4 254.6 646.7 248.1 647.2 234.6 648.7 226.1 650.2 221.3 652 217.1 654.2 213.3 656.7 210 660.3 206.6 664.7 204.2 669.7 202.8 675.7 202.2 679.2 203 686.2 205.4 696.7 210.1 703.2 213.9 706.5 216.6Z" fill="#55cc7b"/>
<path d="M856.2 57.9 858.2 58 860.7 59.1 862.2 60.1 865.7 63.5 868.2 68.1 870.2 73.4 871.5 81.1 871 92.6 869.8 97.6 867.9 102.6 865.6 106.6 863.2 109.5 860.7 110.8 857.7 111.4 854.7 110.9 851.7 109.5 849.2 107.3 846.7 103.9 844.7 100 843.2 95.8 842 90.1 841.8 83.1 842.5 76.1 844.1 70.1 846.4 65.1 848.7 62 851.3 59.5 853.7 58.3ZM686.2 206.1 696.2 210.6 702.7 214.3 707.9 218.1 714.2 224.6 716.3 228.1 717.2 230 718.4 238.1 718.3 241.1 716.9 245.1 715.4 248.1 713.2 251.4 708.2 256.5 707.2 256.8 703.7 259.8 692.7 266.6 691.7 266.9 690.7 267.7 688.2 268.4 687.2 269.2 684.7 269.8 683.7 270.6 669.7 274.9 663.2 275.5 660.7 275.1 657 271 652.2 263.5 649.8 258.5 648.4 253.6 647.8 247.1 648 236.1 648.9 229.6 650.7 223.8 653.2 218.3 656.2 213.7 659.7 210.1 663.7 207.4 668.7 205.5 674.2 204.7 680.2 204.9Z" fill="#6acd6a"/>
<path d="M856.2 58.4 858.2 58.5 860.6 59.5 862.2 60.5 865.2 63.5 867.5 67.6 869.7 73.1 871.1 81.1 870.6 92.6 869.4 97.6 867.4 102.6 865.2 106.4 863.7 107.8 860.7 109.5 857.7 110.1 854.7 109.7 852.2 108.5 849.7 106.4 847.2 103.1 845.2 99.2 843.7 94.8 842.6 90.1 842.2 85 842.9 76.1 844.6 70.1 846.7 65.5 850.2 61 853.7 58.8ZM702.7 215.1 707.2 218.6 710.6 222.1 712.9 225.6 714.5 229.6 716.9 242.6 716.1 245.6 712.7 251.1 711.7 251.9 708.2 256 706.7 256.8 706.2 257.6 704.7 258.5 703.7 259.5 702.2 260.3 697.2 263.8 696.2 264 695.2 264.9 692.7 266.4 691.7 266.6 690.7 267.4 688.2 268.1 687.2 268.9 684.7 269.6 683.7 270.4 673.7 273.5 669.7 274.4 663 274.5 658.7 270.2 653 262 650.5 257 649.2 251.6 648.7 240.1 649.3 232.6 651.5 225.1 653.2 221.5 655.2 218.1 659.2 213.2 663.7 209.9 668.7 207.8 674.7 206.9 681.2 207.2 688.2 208.8 696.2 211.6Z" fill="#81cc59"/>
<path d="M856.2 58.9 858.2 59 860.2 59.9 862 61 865 64.1 867 67.6 869.4 73.6 870.7 81.1 870.3 92.1 868.9 97.6 867.2 102.1 865.2 104.8 862.7 107.1 860.2 108.3 857.7 108.8 854.7 108.3 852.2 107 849.7 104.8 847.6 102.1 845.7 98.1 844.2 93.6 843.2 88.6 842.9 84.1 843 79.6 843.6 75.1 845 70.1 847.1 65.6 849.2 62.7 850.7 61.2 853.7 59.3ZM699.2 215.4 703.2 218.1 706.7 221.1 709.3 224.1 711.4 227.6 712.9 232.1 714 238.1 714.6 244.1 714.2 247.6 712.3 250.6 707.7 255.7 706.7 256.1 703.6 259 697.2 263.6 696.2 263.8 692.7 266.2 691.7 266.4 690.7 267.2 688.2 267.9 687.2 268.7 684.7 269.3 683.7 270.1 681.2 270.7 679.4 271.5 669.7 273.8 665.6 274 663.2 272.3 660.7 269.9 654.9 262.5 652.2 258 650.6 253.1 649.8 246.1 649.6 239.1 649.9 235.1 651.3 229.1 654.2 222.6 657.7 217.5 662.2 213.3 666.7 210.7 672.2 209.2 678.2 208.9 684.7 209.9 692.7 212.4Z" fill="#98ca47"/>
<path d="M856.2 59.4 858.2 59.6 861.7 61.4 864.7 64.4 867 68.6 868.9 73.6 870.3 81.6 869.9 92.1 868.7 97 867.7 99.1 865.7 102.5 863.2 105.1 860.7 106.7 857.7 107.3 855.2 107 852.7 105.8 850.2 103.6 848.2 100.9 846.4 97.6 845 93.6 844.1 89.1 843.7 84.1 843.8 79.1 844.5 74.6 845.7 70.1 847.2 66.5 850.7 61.8 853.7 59.9ZM687.7 212.6 694.2 215.1 700.2 218.4 705.2 222.5 708.4 226.6 710.7 231.6 712 237.6 712.4 244.6 711.5 250.1 707.7 254.9 706.2 255.8 703.2 258.7 697.2 263.1 695.7 263.8 692.7 265.8 690.3 267 688.2 267.7 686.7 268.5 679.2 271.1 669.7 273.2 667.6 273 663.7 270.4 660.3 267 655.1 260.5 652.4 255.6 651.2 250.1 650.6 239.6 650.8 235.1 651.9 230.6 654.3 225.1 657.7 220 661.6 216.1 665.7 213.4 670.2 211.7 675.7 210.9 681.2 211.1Z" fill="#aec637"/>
<path d="M856.7 60 857.8 60 861.2 61.6 864.2 64.5 865.8 67.1 868.5 73.6 869.9 81.6 869.7 89.8 868.6 94.1 867 98.1 865.2 101.1 862.7 103.8 860.2 105.2 857.7 105.7 855.2 105.4 852.7 104.1 850.7 102.3 848.6 99.6 846.9 96.1 845.7 92.1 844.9 88.1 844.6 83.6 844.7 79.1 845.4 74.6 846.6 70.6 848.1 67.1 850 64.1 852.2 61.9 854.7 60.4ZM684.7 213.7 691.2 215.9 697.5 219.1 702.3 222.6 706.2 226.8 708.7 231.4 710 236.6 710.3 243.1 709.6 248.6 708.4 252.1 707.2 254.6 699.2 261.1 692.2 265.5 683.2 269.4 673.7 271.9 670.2 272.3 666.2 270.2 662.7 267.4 656.6 260.5 654.1 256.5 652.8 253.1 652.1 248.6 651.5 238.1 652 233.6 654.2 228.1 657.2 223.2 660.7 219.2 664.7 216.1 669.2 214 674.2 212.9 679.2 212.8Z" fill="#c2c22c"/>
<path d="M857.2 61.7 859.6 62 861.7 63.1 863.7 64.9 865.2 67.1 868.2 74.1 869 78.6 869.3 82.6 869.1 86.6 868.4 90.6 867.3 94.6 865.9 97.6 864.2 100.2 862.2 102.2 860.2 103.4 857.7 103.9 855.2 103.6 853.2 102.5 851.2 100.7 849.2 97.9 847.7 94.8 846.5 91.1 845.8 87.1 845.6 83.1 845.8 79.1 846.4 75.1 847.6 71.1 849 68.1 850.7 65.5 852.7 63.5 854.7 62.3ZM680.7 214.8 686.7 216.2 693.2 218.9 698.7 222.2 703 226.1 705.9 230.1 707.6 234.1 708.4 239.1 708.2 244.6 706.9 250.1 704.1 256 702.7 257.7 698.7 260.8 692.2 265.1 686.7 267.6 679.2 270.1 673.2 271.3 668.7 269.8 664.7 267.3 658.5 261 655.8 257.5 654.2 254.1 653.4 250.6 652.5 239.6 652.5 236.1 653.7 231.9 656.2 227.1 659.6 222.6 663.2 219.3 667.2 216.8 671.2 215.3 675.7 214.6Z" fill="#d5be28"/>
<path d="M857.2 63.8 859.2 64 861.2 65 863.2 66.8 864.8 69.1 866.2 71.9 867.1 75.1 867.8 78.6 868.1 82.6 867.9 86.6 867.3 90.1 866.4 93.1 865.2 95.9 863.7 98.2 861.7 100.3 859.7 101.4 857.7 101.8 855.7 101.6 853.7 100.6 851.7 98.8 850 96.6 848.7 93.7 847.7 90.5 847 87.1 846.8 83.1 847.5 76.1 848.4 72.6 849.7 69.8 851.2 67.4 853.2 65.4 855.2 64.2ZM677.7 216.4 682.7 217 688.2 218.7 693.7 221.3 698.7 224.7 702.2 228 704.7 231.7 706.1 235.6 706.5 240.1 706 245.1 704.7 249.9 702.2 255.1 699.2 259.5 696.2 261.9 690 265.5 682.7 268.5 677.2 270.1 671.7 269.2 667.2 267.2 663.2 264.2 657.7 258.3 655.8 255.1 654.5 251.1 653.4 237.6 654 234.1 655.9 230.1 658.7 226 662.2 222.4 665.7 219.8 669.7 217.8 673.7 216.7Z" fill="#e5bb2d"/>
<path d="M857.2 66.4 858.8 66.6 860.7 67.4 862.2 68.7 863.7 70.7 864.8 73.1 865.8 76.1 866.6 82.6 866.1 88.6 865.2 91.6 864.2 94.1 862.7 96.4 861.2 97.9 859.7 98.8 857.7 99.3 855.9 99.1 854.2 98.2 852.7 96.9 851.2 94.9 850 92.6 849 89.6 848.2 83.1 848.8 77.1 849.6 74.1 850.7 71.6 852.2 69.3 853.7 67.8 855.2 66.9ZM674.2 218.6 678.2 218.3 682.7 219 687.7 220.6 693.2 223.4 697.7 226.5 700.8 229.6 703.2 233.1 704.4 236.6 704.5 241.1 703.5 246.6 701.4 252.1 698.2 257.7 694.7 261.9 691.7 264.1 686.2 266.7 682.7 268 678.2 268.3 673.7 268 670.2 267.1 666.7 265.3 662.7 262.2 658.8 258 656.7 254.6 655.5 250.6 654.6 236.6 655.2 234.4 656.7 231.3 660.2 226.6 664.2 223 669.2 220.1Z" fill="#f4ba39"/>
<path d="M857.2 69.8 858.7 70 860.2 70.7 862.6 73.6 864.2 77.7 864.7 82.6 864.2 87.9 862.7 91.9 861.6 93.6 860.2 94.9 857.7 95.9 856.2 95.7 854.7 94.9 852.3 92.1 850.7 87.8 850.1 83.1 850.6 78.1 852.2 73.8 854.3 71.1 855.7 70.2ZM674.7 220.5 678.2 220.3 682.2 220.9 686.8 222.6 691.8 225.1 696.1 228.1 699.2 230.9 701.4 234.1 702.4 237.1 702.3 241.6 701.2 246.6 698.9 252.1 696 257 693.1 260.5 689.7 263.3 686.2 265.1 681.7 266.2 677.2 266.6 673.2 266.3 669.7 265.3 666.7 263.8 662.7 260.7 659.7 257.5 657.6 254.1 656.5 250.1 655.8 237.1 656.3 235.1 657.7 232.3 661.2 227.9 665.2 224.5 669.7 222Z" fill="#febe3c"/>
<path d="M857.2 76.3 858.7 76.7 859.9 78.1 860.7 80.1 861.1 82.6 860.9 85.1 860.2 87.2 859.2 88.6 857.7 89.3 856.2 89 855.2 88 854.2 85.8 853.8 83.1 854 80.6 854.7 78.5 855.7 77.1ZM678.2 222.5 682.2 223.3 686.7 225 691.2 227.4 694.8 230.1 697.7 232.8 699.5 235.6 700 237.6 700 240.6 698.8 246.1 696.6 251.6 693.7 256.5 690.7 259.9 687.2 262.4 683.7 263.9 679.2 264.7 673.7 264.8 669.7 263.8 666.2 262 662.2 258.7 659.6 255.6 658.2 252.6 657.5 249.6 657.3 237.6 657.9 235.1 659.7 232.2 662.2 229.4 665.2 226.9 668.2 225.1 671.7 223.6 675.2 222.7Z" fill="#fec735"/>
<path d="M677.2 225.2 680.7 225.6 684.2 226.7 688.2 228.7 692.2 231.4 694.7 233.7 696.3 236.1 697.1 238.6 697.1 241.1 696.2 245.9 694.2 251.1 691.7 255.4 688.9 258.5 686.2 260.7 682.7 262.2 678.2 263.2 673.7 263.3 670.2 262.6 666.7 260.9 663.2 258.2 660.6 255.1 659.2 252.1 658.5 249.1 658.7 239.1 659.2 236.6 660.2 234.6 662.2 232 664.7 229.8 667.7 227.8 670.7 226.4 674.2 225.4Z" fill="#fcd12f"/>
<path d="M677.2 228.3 680.2 228.7 683.7 229.9 687.2 231.8 690.1 234.1 691.9 236.1 693 238.1 693.6 240.6 693.5 243.1 692.7 247.1 691 251.6 688.9 255.1 686.7 257.5 683.9 259.5 680.7 260.9 676.7 261.8 673.2 261.8 670 261 666.7 259.4 663.7 257.1 661.7 254.6 660.3 251.6 659.6 248.6 660.2 241.1 660.7 238.4 661.6 236.1 663.2 234 665.2 232.2 668.2 230.4 671.2 229.1 674.2 228.4Z" fill="#f7db2b"/>
<path d="M675.2 231.9 678.2 232.2 680.7 232.9 683.2 234.2 685.8 236.1 687.6 238.1 688.7 239.8 689.3 242.1 689.5 244.6 689 248.1 688 251.1 686.7 253.7 684.8 256 682.7 257.8 679.7 259.3 676.7 260.1 673.7 260.3 671.2 259.9 668.7 259 666.2 257.6 664.3 256 662.8 254.1 661.7 251.7 660.9 249.1 660.7 247.1 662.3 240.1 663.2 238.1 664.7 236.1 666.7 234.4 669.2 233.1 672.2 232.2Z" fill="#f5e526"/>
<path d="M669.2 236.8 671.2 236.2 673.7 236.1 676.2 236.4 678.1 237.1 680.2 238.2 682.2 239.9 684.4 243.1 684.9 245.1 685.1 247.6 684.7 250.1 684 252.1 682.9 254.1 681.7 255.4 678.2 257.5 675.7 258.4 673.7 258.6 669.3 257.5 665.7 255.4 664.2 253.6 663.2 251.6 662.1 247.6 663.2 243.4 664.2 241.3 665.7 239.2 667.2 237.9Z" fill="#f5ef21"/>
<path d="M669.7 240.8 672.7 240.5 675.7 241.4 678.2 243.4 679.9 246.1 680.5 249.1 680 251.6 678.3 254.1 676 255.6 673.2 256.2 669.7 255.5 667.1 254.1 665 251.1 664.2 248.1 664.7 245.6 666.7 242.6 668.2 241.5Z" fill="#f8f818"/>
</g></g>
<path d="M721.5 236.1L721 232.1 719.7 228.3 717.4 224.4 714.4 220.7 710.6 217.1 706.1 213.6 701.1 210.3 695.6 207.2 689.8 204.3 683.9 201.7 677.9 199.3 672 197.2 666.3 195.4 660.9 193.9 655.9 192.7 651.4 191.8 647.6 191.3 644.3 191.2 641.7 191.3 639.8 191.8 638.5 192.7 637.9 193.9 637.9 195.4 638.4 197.2 639.4 199.3 640.7 201.7 642.4 204.3 644.2 207.2 646.1 210.3 648 213.6 649.7 217.1 651.3 220.7 652.6 224.4 653.6 228.3 654.2 232.1 654.4 236.1 654.2 240 653.6 243.9 652.6 247.7 651.3 251.4 649.7 255 648 258.5 646.1 261.8 644.2 264.9 642.4 267.8 640.7 270.5 639.4 272.8 638.4 274.9 637.9 276.7 637.9 278.2 638.5 279.4 639.8 280.3 641.7 280.8 644.3 281 647.6 280.8 651.4 280.3 655.9 279.4 660.9 278.2 666.3 276.7 672 274.9 677.9 272.8 683.9 270.5 689.8 267.8 695.6 264.9 701.1 261.8 706.1 258.5 710.6 255 714.4 251.4 717.4 247.7 719.7 243.9 721 240Z" fill="none" stroke="#ff0000" stroke-width="3.4" stroke-linejoin="round"/>
<path d="M872.5 86.4L872.4 82.5 871.9 78.7 871.2 75 870.3 71.4 869 68.2 867.6 65.2 866 62.7 864.1 60.5 862.2 58.8 860.1 57.5 857.9 56.7 855.7 56.5 853.5 56.7 851.4 57.5 849.3 58.8 847.3 60.5 845.5 62.7 843.9 65.2 842.4 68.2 841.2 71.4 840.2 75 839.5 78.7 839.1 82.5 839 86.4 839.1 90.3 839.5 94.2 840.2 97.9 841.2 101.4 842.4 104.6 843.9 107.6 845.5 110.2 847.3 112.3 849.3 114.1 851.4 115.3 853.5 116.1 855.7 116.3 857.9 116.1 860.1 115.3 862.2 114.1 864.1 112.3 866 110.2 867.6 107.6 869 104.6 870.3 101.4 871.2 97.9 871.9 94.2 872.4 90.3Z" fill="none" stroke="#ff0000" stroke-width="3.4" stroke-linejoin="round"/>
<rect x="936.7" y="26.1" width="19" height="300.2" fill="url(#cbar)"/>
<rect x="937.1" y="26.5" width="18.2" height="299.4" fill="none" stroke="#262626" stroke-opacity="0.55" stroke-width="0.8"/>
<line x1="952.1" y1="265.9" x2="955.1" y2="265.9" stroke="#262626" stroke-opacity="0.7" stroke-width="0.8"/>
<line x1="952.1" y1="206" x2="955.1" y2="206" stroke="#262626" stroke-opacity="0.7" stroke-width="0.8"/>
<line x1="952.1" y1="146.2" x2="955.1" y2="146.2" stroke="#262626" stroke-opacity="0.7" stroke-width="0.8"/>
<line x1="952.1" y1="86.3" x2="955.1" y2="86.3" stroke="#262626" stroke-opacity="0.7" stroke-width="0.8"/>
<text class="cb" x="960.4" y="332.1">0</text>
<text class="cb" x="960.4" y="272.3">0.2</text>
<text class="cb" x="960.4" y="212.4">0.4</text>
<text class="cb" x="960.4" y="152.6">0.6</text>
<text class="cb" x="960.4" y="92.7">0.8</text>
<text class="cb" x="960.4" y="32.9">1</text>
<text class="ax" x="581.9" y="33.6" text-anchor="end">5</text>
<text class="ax" x="581.2" y="183.2" text-anchor="end">0</text>
<text class="ax" x="581.9" y="332.8" text-anchor="end">-5</text>
<text class="ax" x="587.5" y="348.9" text-anchor="middle">-5</text>
<text class="ax" x="755.3" y="348.9" text-anchor="middle">0</text>
<text class="ax" x="922.9" y="348.9" text-anchor="middle">5</text>
</g>
<g id="p02">
<clipPath id="cp02"><rect x="1117.5" y="25.8" width="337.3" height="300.8"/></clipPath>
<rect x="1117.5" y="25.8" width="337.3" height="300.8" fill="#422fc2"/>
<g clip-path="url(#cp02)">
<g stroke="#2a1a90" fill="none"><path d="M1258.8 164.4L1343.5 -316.2M1261.2 165.1L1444 -287.4M1263.6 166.4L1543.5 -233.4M1265.6 168.2L1628.3 -158.4M1267.1 170.2L1689.7 -73.8M1268.1 172.5L1732.2 21.7M1268.1 179.9L1732.2 330.7M1267.1 182.2L1689.7 426.2M1265.6 184.2L1628.3 510.8M1263.6 186L1543.5 585.8M1261.2 187.3L1444 639.8M1258.8 188L1343.5 668.6M1254.6 188L1169.9 668.6M1252.2 187.3L1069.4 639.8M1249.8 186L969.9 585.8M1247.8 184.2L885.1 510.8M1246.3 182.2L823.7 426.2M1245.3 179.9L781.2 330.7M1245.3 172.5L781.2 21.7M1246.3 170.2L823.7 -73.8M1247.8 168.2L885.1 -158.4M1249.8 166.4L969.9 -233.4M1252.2 165.1L1069.4 -287.4M1254.6 164.4L1169.9 -316.2" stroke-width="4.5" stroke-opacity="0.07"/><path d="M1258.8 164.4L1343.5 -316.2M1261.2 165.1L1444 -287.4M1263.6 166.4L1543.5 -233.4M1265.6 168.2L1628.3 -158.4M1267.1 170.2L1689.7 -73.8M1268.1 172.5L1732.2 21.7M1268.1 179.9L1732.2 330.7M1267.1 182.2L1689.7 426.2M1265.6 184.2L1628.3 510.8M1263.6 186L1543.5 585.8M1261.2 187.3L1444 639.8M1258.8 188L1343.5 668.6M1254.6 188L1169.9 668.6M1252.2 187.3L1069.4 639.8M1249.8 186L969.9 585.8M1247.8 184.2L885.1 510.8M1246.3 182.2L823.7 426.2M1245.3 179.9L781.2 330.7M1245.3 172.5L781.2 21.7M1246.3 170.2L823.7 -73.8M1247.8 168.2L885.1 -158.4M1249.8 166.4L969.9 -233.4M1252.2 165.1L1069.4 -287.4M1254.6 164.4L1169.9 -316.2" stroke-width="1.8" stroke-opacity="0.09"/><path d="M1256.7 20.8L1256.7 335.8" stroke-width="3" stroke-opacity="0.3"/><path d="M1112.5 127.9L1462.5 127.9" stroke-width="3" stroke-opacity="0.28"/></g>
<g filter="url(#b1)">
<path d="M1163.7 133.1 1165.8 130.8 1168.8 129.3 1179.2 128.8 1180.8 129.3 1186.2 129.8 1189.2 130.7 1192.8 131.2 1195.2 132.1 1198.8 132.8 1199.2 133.1 1200.8 133.3 1202.2 134.1 1204.8 134.7 1205.2 135.1 1206.8 135.2 1208.2 136.1 1212.2 137.2 1215.8 139.1 1216.8 139.2 1219.2 140.6 1220.2 140.7 1223.5 142.6 1225.8 143.2 1227.5 144.6 1228.2 144.7 1233.2 147.3 1234.8 148.6 1237.8 150.2 1239.8 152.1 1242.8 153.8 1249.5 160.6 1251.5 163.1 1254.1 167.6 1255.2 171.6 1255.6 172.1 1255.7 180.6 1255.2 181.6 1255.1 183.1 1254.2 184.6 1254.1 185.6 1252.8 187.5 1252.1 189.1 1251.5 190.1 1250.7 190.6 1249.5 192.6 1245.2 196.5 1243.8 198.3 1240.2 200.9 1239.5 201.1 1236.2 203.8 1232.6 205.6 1230.8 206.9 1227.1 208.6 1225.2 209.9 1224.3 210.1 1223.2 210.9 1222.2 211 1217.8 213.4 1215.2 214 1214.2 214.9 1210.2 216 1208.8 216.8 1206.2 217.5 1204.8 218.3 1203.2 218.4 1199.2 219.9 1192.2 221.5 1190.2 222.3 1188.8 222.4 1184.8 223.3 1183.2 223.3 1181.8 223.7 1179.2 223.7 1177.8 224.1 1173.2 223.9 1172.8 223.5 1168.8 223.3 1166.8 222.4 1164.6 220.6 1162.6 217.6 1160.9 214.1 1159.4 209.6 1158.1 204.1 1157 197.6 1155.9 183.1 1156 166.6 1157.4 152.1 1158.6 146.1 1160 141.1 1161.5 137.1ZM1350.3 175.6 1350.8 174.8 1350.8 173.6 1352.3 170.6 1355.8 167.1 1358.8 164.6 1364.2 162.2 1372.8 159.7 1375 159.6 1376.2 159.1 1379 159.1 1380.2 158.6 1393.8 158.6 1395 159.1 1397.8 159.1 1399 159.6 1400.8 159.6 1405.2 160.7 1409 162.1 1410.2 162.2 1415.2 164.6 1418.2 166.6 1420.7 169.1 1422.2 171.1 1423.7 174.6 1423.7 178.1 1421.7 182.6 1420.2 184.5 1416.8 187.5 1415.2 188 1414.2 189 1404.8 192.5 1403 192.6 1396.8 194 1393.2 194 1391.8 194.5 1382.2 194.5 1380.8 194 1377.2 194 1375.8 193.5 1374.2 193.5 1366.2 191.5 1365.8 191 1362.2 190 1359.2 188.5 1355.2 185.5 1352.8 183.1 1350.8 179.6 1350.8 178.3 1350.3 177.6Z" fill="#4538d7"/>
<path d="M1169 131.6 1170.2 130.3 1172.2 129.6 1179.2 129.4 1180.8 129.8 1182.8 129.8 1184.2 130.3 1186.2 130.3 1200.2 133.6 1202.2 134.5 1206.2 135.5 1208.2 136.4 1212.2 137.6 1213.2 138.4 1220.2 141.1 1223.2 142.8 1225.8 143.6 1227.2 144.8 1232.8 147.3 1233.8 148.3 1237.2 150.3 1238.8 151.7 1242.2 153.8 1249.2 160.8 1251.5 163.6 1253.7 167.6 1255.4 172.6 1255.4 180.6 1253.7 185.6 1251.4 189.6 1249.2 192.3 1243.5 198.1 1240.8 200.2 1239.2 200.8 1235.8 203.7 1234.2 204.2 1225.2 209.4 1217.8 212.9 1215.2 213.6 1214.2 214.4 1210.2 215.6 1204.8 217.8 1203.2 218 1199.2 219.4 1192.8 220.9 1190.2 221.8 1188.8 221.8 1185.2 222.7 1183.2 222.7 1181.8 223.2 1179.2 223.2 1177.8 223.6 1174.2 223.6 1172.8 223.1 1171.2 223 1169.8 222.2 1168.9 221.1 1168.8 218.3 1167 215.1 1165.5 211.1 1163.6 203.1 1162.1 191.6 1161.5 178.1 1161.8 164.1 1163.1 152.1 1165 143.1 1166.5 138.6 1168.7 134.1ZM1351 176.1 1351.7 173.1 1353.1 170.6 1356.2 167.4 1358.8 165.4 1363.8 163 1372.8 160.4 1374.8 160.3 1376.2 159.8 1378.8 159.8 1379.8 159.4 1393.8 159.3 1395.2 159.8 1397.8 159.8 1399.2 160.3 1401.2 160.4 1405.2 161.4 1409.2 162.8 1410.7 163.1 1413.8 164.8 1414.8 165 1418.2 167.4 1419.9 169.1 1421.8 171.6 1423 174.6 1423 178.1 1421.3 182.1 1419.2 184.7 1416.2 187 1415.2 187.3 1413.8 188.5 1405.2 191.7 1403.2 191.8 1400.2 192.7 1398.2 192.8 1397.2 193.2 1393.2 193.3 1391.8 193.7 1382.2 193.7 1380.8 193.3 1377.2 193.2 1375.8 192.8 1373.8 192.7 1370.8 191.8 1367.2 191.2 1365.8 190.3 1362.8 189.6 1361.8 188.8 1359.8 188 1355.2 184.7 1353.6 183.1 1351.7 180.1 1351 177.6Z" fill="#4740e4"/>
<path d="M1169.5 131.6 1170.2 130.8 1172.2 130 1179.2 129.7 1180.8 130.2 1182.8 130.1 1184.2 130.6 1186.2 130.6 1200.2 133.9 1202.2 134.8 1206.2 135.8 1208.2 136.7 1212.2 137.9 1213.2 138.7 1220.2 141.3 1223.2 143.1 1225.8 143.8 1227.2 145.1 1228.2 145.3 1229.2 146.1 1232.7 147.6 1233.8 148.6 1237.2 150.6 1238.8 152.1 1242.2 154.1 1249.2 161.1 1249.7 162.1 1251.2 163.6 1253.5 167.6 1255.1 172.6 1255.1 180.6 1253.4 185.6 1251.1 189.6 1249.6 191.1 1249.1 192.1 1243.2 197.9 1242.2 198.4 1240.6 200.1 1239.2 200.5 1235.5 203.6 1234.2 203.9 1225.2 209.2 1224.2 209.4 1223.2 210.1 1222.2 210.4 1217.8 212.6 1215.2 213.3 1214.2 214.1 1210.2 215.3 1204.2 217.6 1203.2 217.7 1199.2 219.1 1192.8 220.5 1190.2 221.4 1188.8 221.5 1185.2 222.3 1183.2 222.4 1181.8 222.8 1179.2 222.8 1177.8 223.2 1174.2 223.2 1172.8 222.6 1171.2 222.5 1169.8 221.7 1169.3 220.6 1169.1 212.1 1167.1 205.1 1165.6 195.6 1164.8 186.6 1164.5 176.6 1164.8 166.6 1165.5 157.6 1166.9 148.1 1168.8 140.6 1169.2 132.6ZM1351.3 176.1 1351.9 173.6 1353.1 171.1 1355.6 168.6 1359.2 165.4 1364.2 163.2 1372.8 160.7 1374.8 160.7 1376.2 160.2 1378.8 160.2 1380.2 159.7 1393.8 159.7 1395.2 160.2 1397.8 160.2 1399.2 160.7 1401.2 160.7 1405.2 161.7 1409.2 163.2 1410.2 163.2 1414.8 165.4 1417.9 167.6 1421.4 171.6 1422.6 174.6 1422.7 178.1 1420.9 182.1 1418.9 184.6 1417.9 185.1 1416.2 186.6 1414.9 187.1 1413.8 188.1 1405.2 191.3 1403.2 191.4 1400.2 192.3 1398.2 192.4 1397.2 192.8 1393.2 192.9 1391.8 193.4 1382.2 193.4 1380.8 192.9 1377.2 192.9 1375.8 192.4 1373.8 192.3 1370.8 191.4 1367.2 190.8 1366.1 190.1 1363.2 189.3 1359.8 187.6 1355.6 184.6 1353.6 182.6 1351.9 179.6Z" fill="#4849ed"/>
<path d="M1169.8 131.7 1170.8 130.8 1172.8 130.2 1179.2 130.1 1180.8 130.5 1182.8 130.5 1184.2 130.9 1186.2 131 1200.2 134.1 1202.2 135 1206.2 136 1212.2 138.2 1213.2 138.9 1220.2 141.6 1223.2 143.3 1225.8 144.1 1227.2 145.3 1232.3 147.6 1233.8 148.8 1237.2 150.9 1238.8 152.3 1242.2 154.4 1248.9 161.1 1251.2 164.1 1253.2 167.6 1254.9 172.6 1254.9 180.6 1253.2 185.6 1251.2 189.1 1248.8 192.1 1243.2 197.6 1240.2 200 1239.2 200.2 1235.2 203.4 1234.2 203.7 1230.8 205.9 1223.2 209.9 1217.2 212.5 1215.2 213.1 1213.8 214 1210.2 215 1204.2 217.3 1203.2 217.4 1199.2 218.8 1192.8 220.2 1190.2 221.1 1186.2 221.6 1185.2 222 1183.2 222 1181.8 222.5 1179.2 222.5 1177.8 222.9 1174.2 222.9 1173.2 222.4 1171.2 222.2 1170.2 221.7 1169.5 220.6 1169.2 204.3 1168.4 200.6 1167.4 193.1 1166.7 177.1 1167.4 160.1 1168.3 152.6 1169.2 148.1 1169.4 132.6ZM1351.7 176.1 1352.2 173.6 1353.5 171.1 1356.2 168.3 1359.2 165.8 1364.2 163.6 1372.8 161.1 1374.8 161 1376.2 160.5 1378.8 160.5 1380.2 160 1393.8 160 1395.2 160.5 1397.8 160.5 1399.2 161 1401.2 161.1 1405.2 162.1 1409.2 163.5 1410.2 163.6 1411.2 164.3 1414.8 165.8 1417.8 167.8 1421 171.6 1422.2 174.6 1422.3 178.1 1420.5 182.1 1418.8 184.3 1417.8 184.8 1416.2 186.2 1414.8 186.8 1413.8 187.7 1405.2 191 1403.2 191.1 1400.2 192 1398.2 192.1 1397.2 192.5 1393.2 192.6 1391.8 193 1382.2 193 1380.8 192.6 1377.2 192.5 1375.8 192.1 1373.8 192 1370.8 191.1 1367.2 190.5 1366.2 189.8 1363.2 189 1362.2 188.3 1359.8 187.3 1355.8 184.3 1354 182.6 1352.3 179.6Z" fill="#4852f4"/>
<path d="M1169.8 132.1 1170.8 131.1 1172.8 130.4 1179.2 130.3 1180.2 130.7 1182.8 130.7 1183.8 131.1 1186.2 131.2 1186.8 131.6 1190.8 132.1 1195.2 133.4 1200.2 134.4 1202.2 135.3 1206.2 136.3 1211.8 138.2 1213 139.1 1220.2 141.9 1223.2 143.6 1225.8 144.3 1227.2 145.5 1232.2 147.8 1233.7 149.1 1237.1 151.1 1238.7 152.6 1241.8 154.3 1248.8 161.2 1251 164.1 1252.9 167.6 1254.6 172.6 1254.6 180.6 1252.9 185.6 1250.9 189.1 1248.8 191.8 1244.6 195.6 1243 197.6 1240.2 199.7 1238.8 200.3 1235.2 203.2 1234 203.6 1225.2 208.6 1217.2 212.2 1214.8 213 1213.8 213.7 1204.2 217 1203.2 217.1 1199.2 218.5 1192.2 220 1190.2 220.8 1185.8 221.4 1185.2 221.8 1182.8 221.9 1181.8 222.3 1178.8 222.3 1177.8 222.7 1174.2 222.6 1173.2 222.1 1171.6 222.1 1170.2 221.4 1169.7 220.6 1169.5 199.1 1168.6 186.1 1168.3 177.1 1168.5 167.1 1169.4 156.1ZM1351.9 176.1 1352.5 173.6 1353.5 171.6 1356.2 168.6 1359.8 165.8 1360.8 165.6 1361.8 164.8 1362.8 164.6 1364.2 163.8 1372.8 161.3 1375.2 161.1 1376.2 160.7 1379.2 160.6 1380.2 160.2 1393.8 160.2 1394.8 160.6 1397.8 160.7 1398.8 161.1 1401.2 161.3 1401.8 161.6 1405.2 162.3 1408.8 163.6 1410.2 163.8 1413.2 165.6 1414.2 165.8 1417.6 168.1 1421 172.1 1422 174.6 1422.1 178.1 1420.5 181.6 1418.6 184.1 1417.6 184.6 1415.8 186.3 1414.8 186.5 1413.2 187.8 1408.2 189.4 1406.8 190.3 1404.8 190.9 1402.8 190.9 1400.2 191.8 1397.8 191.9 1396.8 192.4 1393.2 192.4 1391.8 192.8 1382.2 192.9 1380.8 192.4 1377.2 192.4 1376.2 191.9 1373.8 191.8 1371.2 190.9 1367.2 190.3 1366.2 189.5 1363.2 188.8 1362.2 188 1360.2 187.3 1355.9 184.1 1354.2 182.4 1352.5 179.6Z" fill="#475bf9"/>
<path d="M1170.1 132.1 1170.8 131.4 1172.8 130.6 1179.2 130.5 1180.2 130.9 1182.8 130.9 1183.8 131.3 1186.2 131.4 1186.8 131.8 1190.8 132.3 1194.8 133.6 1200.2 134.6 1201.8 135.4 1206.2 136.6 1211.8 138.5 1212.8 139.2 1220.1 142.1 1222.8 143.6 1225.8 144.6 1226.8 145.6 1232.2 148 1233.3 149.1 1236.8 151.1 1238.3 152.6 1241.8 154.5 1248.7 161.6 1249.2 162.6 1250.7 164.1 1252.9 168.1 1254.4 172.6 1254.4 180.6 1252.9 185.1 1250.6 189.1 1249.1 190.6 1248.6 191.6 1242.8 197.4 1241.8 197.9 1240.2 199.4 1238.8 199.9 1235.2 202.9 1233.8 203.4 1230.8 205.4 1225.2 208.3 1217.2 212 1214.8 212.7 1213.8 213.5 1209.8 214.6 1204.2 216.9 1202.8 217 1199.2 218.3 1197.8 218.4 1193.8 219.7 1192.2 219.8 1190.2 220.6 1185.8 221.2 1184.8 221.6 1182.8 221.6 1181.8 222.1 1178.8 222 1177.8 222.5 1174.2 222.4 1173.2 221.9 1171.8 221.9 1170.2 221.1 1170 220.6 1169.8 180.1ZM1352.1 176.1 1352.5 175.1 1352.7 173.6 1353.7 171.6 1356.8 168.5 1359.8 166 1360.8 165.8 1361.8 165 1362.8 164.8 1364.2 164 1373.2 161.4 1375.2 161.4 1376.2 160.9 1379.2 160.9 1380.2 160.4 1393.8 160.4 1394.8 160.9 1397.8 160.9 1398.8 161.4 1400.8 161.4 1403.8 162.4 1405.2 162.5 1408.8 163.9 1410.2 164 1413.2 165.9 1414.2 166 1417.3 168.1 1420.8 172.1 1421.9 175.1 1421.9 178.1 1420.3 181.6 1419.2 183.1 1415.8 186.1 1414.8 186.2 1413.2 187.6 1408.2 189.2 1406.8 190 1404.8 190.7 1402.8 190.7 1399.8 191.7 1397.8 191.7 1396.8 192.2 1392.8 192.2 1391.8 192.7 1382.2 192.7 1381.2 192.2 1377.2 192.2 1376.2 191.7 1374.2 191.7 1371.2 190.7 1369.8 190.7 1368.8 190.2 1367.2 190.1 1366.2 189.2 1363.2 188.6 1362.2 187.7 1360.2 187.1 1356.2 184.1 1354.2 182.1 1352.7 179.6Z" fill="#4564fd"/>
<path d="M1170.2 132.3 1170.9 131.6 1172.8 130.9 1179.2 130.7 1180.2 131.2 1182.8 131.1 1183.8 131.6 1185.8 131.5 1186.8 132 1190.8 132.5 1194.8 133.8 1200.2 134.8 1201.8 135.6 1204.8 136.6 1206.2 136.7 1207.8 137.5 1211.8 138.7 1212.8 139.5 1219.8 142.1 1222.8 143.8 1225.2 144.6 1226.8 145.8 1232.2 148.3 1233.2 149.3 1236.8 151.3 1238.2 152.7 1241.8 154.8 1248.5 161.6 1249 162.6 1250.5 164.1 1252.7 168.1 1254.2 172.6 1254.2 180.6 1252.7 185.1 1250.4 189.1 1249.7 189.6 1248.4 191.6 1244.2 195.3 1242.8 197.2 1241.8 197.7 1240.2 199.2 1238.8 199.7 1235.2 202.7 1233.8 203.2 1230.2 205.4 1225.8 207.6 1224.8 208.4 1223.8 208.5 1222.8 209.4 1221.8 209.5 1217.2 211.8 1214.8 212.5 1213.8 213.3 1209.8 214.4 1204.2 216.7 1202.8 216.8 1199.2 218.1 1197.8 218.2 1195.8 219 1192.2 219.6 1189.8 220.5 1188.2 220.5 1187.2 221 1185.8 221 1184.8 221.4 1182.8 221.4 1181.8 221.9 1178.8 221.8 1177.8 222.3 1174.2 222.2 1173.2 221.7 1171.8 221.6 1170.7 221.1 1170.2 220.6 1170.1 191.6ZM1352.3 176.1 1352.8 175.1 1352.9 173.6 1353.9 171.6 1357.2 168.2 1358.2 167.7 1359.8 166.2 1360.8 166.1 1361.8 165.2 1362.8 165.1 1364.2 164.2 1373.2 161.6 1375.2 161.6 1376.2 161.1 1379.2 161.1 1380.2 160.6 1393.8 160.6 1394.8 161.1 1397.8 161.1 1398.8 161.6 1400.8 161.6 1403.8 162.6 1404.8 162.6 1408.8 164.1 1410.2 164.2 1413.2 166.1 1414.2 166.2 1417.2 168.2 1420.6 172.1 1421.7 175.1 1421.7 178.1 1419.1 183.1 1415.8 185.8 1414.7 186.1 1413.2 187.3 1408.2 189 1406.8 189.8 1404.8 190.5 1402.8 190.5 1399.8 191.5 1397.8 191.5 1396.8 192 1392.8 192 1391.8 192.5 1382.2 192.5 1381.2 192 1377.2 192 1376.2 191.5 1374.2 191.5 1371.2 190.5 1369.8 190.5 1368.8 190 1367.8 190 1366.2 189 1365.2 189 1363.2 188.3 1362.2 187.5 1360.2 186.9 1356.2 183.9 1354.4 182.1 1352.9 179.6Z" fill="#406dfe"/>
<path d="M1170.3 132.6 1171.2 131.6 1172.2 131.6 1172.8 131.1 1179.2 130.9 1180.2 131.4 1182.8 131.3 1183.8 131.7 1185.8 131.7 1186.8 132.2 1187.8 132.1 1188.8 132.6 1190.2 132.6 1194.8 133.9 1200.2 135 1201.8 135.8 1204.8 136.7 1206.2 136.9 1207.8 137.7 1211.8 138.8 1212.8 139.6 1213.8 139.8 1218.8 142.1 1219.8 142.2 1222.8 144.1 1225.2 144.7 1226.8 146 1227.8 146.2 1228.8 147 1229.8 147.2 1230.8 148 1231.8 148.2 1233.2 149.5 1236.8 151.5 1238.2 153 1241.8 155 1248.2 161.6 1248.8 162.6 1250.2 164.1 1252.6 168.1 1254 172.6 1254 180.6 1252.5 185.1 1251.7 186.1 1250.2 188.9 1248.8 190.5 1248.2 191.5 1245.2 194.6 1244.2 195.1 1243.8 196 1242.7 197.1 1241.7 197.6 1239.8 199.3 1238.7 199.6 1234.8 202.8 1233.8 203 1230.2 205.3 1225.8 207.4 1224.8 208.2 1223.8 208.4 1222.8 209.2 1221.8 209.4 1217.2 211.7 1214.8 212.3 1213.8 213.1 1209.8 214.2 1204.2 216.5 1202.8 216.6 1199.2 217.9 1197.8 218 1193.2 219.4 1192.2 219.4 1189.8 220.3 1185.8 220.8 1184.8 221.2 1182.8 221.2 1181.8 221.6 1178.2 221.6 1177.8 222 1174.2 222 1173.8 221.5 1171.8 221.4 1171.2 220.9 1170.8 220.9 1170.4 220.6ZM1352.4 176.1 1352.9 175.1 1353.1 173.6 1354.1 171.6 1357.2 168.4 1358.2 167.9 1359.8 166.5 1360.8 166.2 1361.8 165.5 1364.8 164.3 1373.2 161.8 1375.2 161.7 1376.2 161.3 1379.2 161.2 1380.2 160.8 1393.8 160.8 1394.8 161.2 1397.8 161.3 1398.8 161.8 1400.8 161.8 1403.8 162.8 1404.8 162.8 1408.8 164.3 1410.2 164.5 1413.2 166.3 1414.2 166.5 1417.2 168.5 1420.3 172.1 1421.5 175.1 1421.5 178.1 1418.8 183.1 1415.8 185.6 1414.4 186.1 1413.2 187.1 1404.8 190.3 1402.8 190.3 1399.8 191.3 1397.8 191.3 1396.8 191.8 1392.8 191.8 1391.8 192.3 1382.2 192.3 1381.2 191.8 1377.2 191.8 1376.2 191.3 1374.2 191.3 1371.2 190.3 1369.8 190.3 1368.8 189.8 1367.8 189.8 1366.2 188.8 1363.8 188.3 1362.2 187.3 1360.2 186.6 1356.2 183.6 1354.6 182.1 1353 179.1Z" fill="#3777fe"/>
<path d="M1170.5 132.6 1171.2 131.8 1172.2 131.7 1172.8 131.2 1179.2 131.1 1179.8 131.6 1182.8 131.5 1183.8 131.9 1185.8 131.9 1188.8 132.8 1190.2 132.7 1191.2 133.2 1192.2 133.2 1194.8 134.1 1195.8 134.1 1196.8 134.6 1200.2 135.2 1201.8 136 1204.8 136.9 1206.2 137 1207.8 137.9 1211.8 139 1212.8 139.8 1213.8 139.9 1218.8 142.2 1219.8 142.4 1222.8 144.2 1225.2 144.9 1226.8 146.2 1227.8 146.3 1230.8 148.2 1231.8 148.3 1233.2 149.7 1236.6 151.6 1238.2 153.1 1241.6 155.1 1248.2 161.8 1248.8 162.8 1250.2 164.3 1252.4 168.1 1253.9 172.6 1253.9 180.6 1252.4 185.1 1251.5 186.1 1250.2 188.7 1248.8 190.2 1248.2 191.2 1244.9 194.6 1244 195.1 1243.8 195.7 1242.4 197.1 1241.4 197.6 1239.8 199.2 1238.4 199.6 1234.8 202.7 1233.8 202.8 1230.2 205.1 1225.8 207.2 1224.8 208.1 1223.8 208.2 1222.8 209.1 1221.8 209.2 1217.2 211.5 1214.8 212.1 1213.8 212.9 1209.8 214 1208.2 214.9 1205.8 215.5 1203.8 216.4 1202.8 216.4 1198.8 217.9 1197.8 217.8 1193.2 219.2 1192.2 219.2 1189.8 220.2 1187.8 220.2 1187.2 220.6 1185.2 220.5 1184.8 221 1182.2 221 1181.8 221.5 1178.2 221.4 1177.8 221.9 1174.2 221.8 1173.8 221.3 1171.8 221.3 1171.2 220.8 1170.8 220.8 1170.4 190.6ZM1352.6 176.1 1353.1 175.1 1353.1 174.1 1354.2 171.8 1357.5 168.6 1358.2 168.2 1360 166.6 1361.2 166.2 1362 165.6 1364.8 164.4 1373.2 161.9 1375.2 161.9 1376.2 161.4 1379.2 161.4 1380.2 161 1393.8 161 1394.8 161.4 1397.8 161.5 1398.8 161.9 1400.8 162 1403.8 162.9 1404.8 162.9 1408.8 164.4 1409.8 164.5 1410.8 165.3 1412 165.6 1412.8 166.3 1414 166.6 1417 168.6 1420.2 172.3 1421.4 175.1 1421.3 178.1 1418.8 182.8 1415.4 185.6 1414.2 185.8 1412.9 187.1 1407.8 188.8 1406.2 189.6 1405.2 189.7 1404.8 190.1 1402.8 190.1 1399.8 191.1 1397.8 191.1 1396.8 191.6 1392.8 191.6 1391.8 192.1 1382.2 192.1 1381.2 191.6 1377.2 191.6 1376.2 191.1 1374.2 191.1 1371.2 190.1 1367.8 189.6 1366.8 188.8 1363.8 188.1 1362.8 187.3 1360.5 186.6 1357.2 183.8 1356.5 183.6 1354.8 181.8 1353.1 179.1Z" fill="#2f80fa"/>
<path d="M1170.6 132.6 1171.2 131.9 1172.2 131.9 1172.8 131.4 1179.2 131.2 1179.8 131.7 1182.8 131.6 1183.2 132.1 1185.8 132.1 1186.2 132.5 1187.8 132.5 1188.8 132.9 1190.2 132.9 1191.2 133.4 1192.2 133.3 1194.8 134.3 1199.8 135.2 1204.8 137.1 1206.2 137.2 1207.8 138 1211.8 139.1 1212.8 140 1213.8 140.1 1218.8 142.4 1219.8 142.5 1222.8 144.4 1225.2 145 1226.8 146.3 1227.8 146.5 1230.8 148.3 1231.8 148.5 1233.2 149.8 1236.4 151.6 1238.2 153.3 1241.4 155.1 1248.2 162 1248.8 163 1250.2 164.5 1252.3 168.1 1253.8 172.6 1253.8 180.1 1252.2 185.1 1251.4 186.1 1250.2 188.6 1248.7 190.1 1248.2 191.1 1244.8 194.5 1243.9 195.1 1243.7 195.6 1242.2 197 1241.2 197.5 1239.8 199 1238.2 199.5 1234.8 202.5 1233.8 202.7 1230.2 205 1225.8 207.1 1224.8 207.9 1223.8 208.1 1222.8 208.9 1221.8 209 1217.2 211.3 1214.8 212 1213.8 212.8 1209.8 213.9 1203.8 216.3 1202.8 216.3 1198.8 217.7 1195.8 218.2 1195.2 218.6 1193.8 218.6 1193.2 219.1 1191.8 219 1191.2 219.5 1190.2 219.5 1189.8 220 1187.8 220 1187.2 220.5 1185.2 220.4 1184.8 220.9 1182.2 220.9 1181.8 221.3 1178.2 221.3 1177.8 221.8 1174.2 221.7 1173.8 221.2 1171.8 221.1 1171.2 220.6 1170.8 220.6ZM1352.8 176.1 1353.3 175.6 1353.3 174.1 1354.3 172.6 1354.3 172.1 1357.8 168.6 1358.2 168.6 1360.2 166.6 1361.2 166.6 1362.2 165.6 1363.2 165.6 1364.8 164.6 1365.8 164.6 1366.2 164.1 1367.2 164.1 1367.8 163.6 1369.2 163.6 1369.8 163.1 1370.8 163.1 1371.2 162.6 1372.8 162.6 1373.2 162.1 1375.8 162.1 1376.2 161.6 1379.8 161.6 1380.2 161.1 1393.8 161.1 1394.2 161.6 1397.8 161.6 1398.2 162.1 1400.8 162.1 1401.2 162.6 1402.8 162.6 1403.2 163.1 1404.8 163.1 1405.2 163.6 1406.2 163.6 1406.8 164.1 1407.8 164.1 1408.2 164.6 1409.8 164.6 1410.8 165.6 1411.8 165.6 1412.8 166.6 1413.8 166.6 1416.2 168.6 1416.8 168.6 1420.2 172.6 1420.2 173.1 1420.7 173.6 1420.7 174.6 1421.2 175.1 1421.2 178.1 1419.7 180.6 1419.7 181.1 1418.7 182.1 1418.7 182.6 1417.8 183.5 1417.2 183.5 1415.2 185.5 1414.2 185.5 1412.8 187 1411.8 187 1410.2 188 1409.2 188 1408.8 188.5 1407.8 188.5 1406.2 189.5 1405.2 189.5 1404.8 190 1402.2 190 1401.8 190.5 1400.2 190.5 1399.8 191 1397.2 191 1396.8 191.5 1392.2 191.5 1391.8 192 1382.2 192 1381.8 191.5 1377.2 191.5 1376.8 191 1374.2 191 1373.8 190.5 1372.2 190.5 1371.8 190 1369.8 190 1369.2 189.5 1367.8 189.5 1366.8 188.5 1365.2 188.5 1364.8 188 1363.8 188 1362.8 187 1361.8 187 1361.2 186.5 1360.8 186.5 1359.8 185.5 1359.2 185.5 1357.2 183.5 1356.8 183.5 1354.8 181.6 1354.8 181.1 1353.3 179.1 1353.3 177.6 1352.8 177.1Z" fill="#2d89f5"/>
<path d="M1170.9 132.6 1171.2 132.1 1172.2 132 1172.8 131.5 1179.2 131.3 1179.8 131.8 1182.8 131.7 1183.2 132.2 1185.8 132.2 1186.2 132.6 1187.8 132.6 1188.2 133.1 1190.2 133.1 1190.8 133.5 1192.2 133.5 1194.8 134.4 1199.8 135.3 1204.8 137.2 1205.8 137.2 1207.8 138.2 1211.8 139.3 1212.8 140.1 1216.2 141.2 1218.8 142.5 1219.8 142.7 1222.8 144.5 1225.2 145.1 1226.8 146.5 1227.8 146.6 1230.8 148.4 1231.8 148.6 1233.2 149.9 1236.2 151.6 1238.2 153.4 1241.2 155.1 1248.2 162.1 1248.7 163.1 1250.1 164.6 1252.1 168.1 1253.7 173.1 1253.7 180.1 1252.1 185.1 1251.2 186.1 1250.1 188.6 1249.2 189.1 1248.1 191.1 1244.8 194.4 1243.8 195 1242.2 196.9 1241.2 197.4 1239.8 198.9 1238.2 199.4 1234.8 202.3 1233.8 202.5 1230.2 204.8 1225.8 206.9 1224.8 207.8 1223.8 207.9 1222.8 208.7 1221.8 208.9 1217.2 211.1 1214.8 211.8 1213.8 212.6 1205.2 215.3 1203.8 216.1 1202.2 216.2 1201.8 216.6 1200.8 216.6 1200.2 217.1 1199.2 217 1198.8 217.5 1197.2 217.5 1196.8 218 1195.8 218 1195.2 218.5 1193.8 218.5 1193.2 218.9 1191.8 218.9 1191.2 219.4 1190.2 219.4 1189.8 219.9 1187.8 219.8 1187.2 220.3 1185.2 220.3 1184.8 220.8 1182.2 220.7 1181.8 221.2 1178.2 221.1 1177.8 221.6 1174.8 221.5 1173.8 221 1172.2 220.9 1171 220.1 1170.7 190.6ZM1352.9 176.1 1353.4 175.6 1353.4 174.1 1354.4 172.6 1354.4 172.1 1357.8 168.7 1358.2 168.7 1360.2 166.7 1361.2 166.7 1362.2 165.7 1363.2 165.7 1364.8 164.7 1365.8 164.7 1366.2 164.2 1367.2 164.2 1367.8 163.7 1369.2 163.7 1369.8 163.2 1370.8 163.2 1371.2 162.7 1372.8 162.7 1373.2 162.2 1375.8 162.2 1376.2 161.7 1379.8 161.7 1380.2 161.2 1393.8 161.2 1394.2 161.7 1397.8 161.7 1398.2 162.2 1400.8 162.2 1401.2 162.7 1402.8 162.7 1403.2 163.2 1404.8 163.2 1405.2 163.7 1406.2 163.7 1406.8 164.2 1407.8 164.2 1408.2 164.7 1409.8 164.7 1410.8 165.7 1411.8 165.7 1412.8 166.7 1413.8 166.7 1416.2 168.7 1416.8 168.7 1420.1 172.6 1420.1 173.1 1420.6 173.6 1420.6 174.6 1421.1 175.1 1421.1 178.1 1419.6 180.6 1419.6 181.1 1418.6 182.1 1418.6 182.6 1417.8 183.4 1417.2 183.4 1415.2 185.4 1414.2 185.4 1412.8 186.9 1411.8 186.9 1410.2 187.9 1409.2 187.9 1408.8 188.4 1407.8 188.4 1406.2 189.4 1405.2 189.4 1404.8 189.8 1402.2 189.9 1401.8 190.4 1400.2 190.4 1399.8 190.9 1397.2 190.9 1396.8 191.4 1392.2 191.4 1391.8 191.8 1382.2 191.9 1381.8 191.4 1377.2 191.4 1376.8 190.9 1374.2 190.9 1373.8 190.4 1372.2 190.4 1371.8 189.9 1369.8 189.9 1369.2 189.4 1367.8 189.4 1366.8 188.4 1365.2 188.4 1364.8 187.9 1363.8 187.9 1362.8 186.9 1361.8 186.9 1361.2 186.4 1360.8 186.4 1359.8 185.4 1359.2 185.4 1357.2 183.4 1356.8 183.4 1354.9 181.6 1354.9 181.1 1353.4 179.1 1353.4 177.6 1352.9 177.1Z" fill="#2b91ef"/>
<path d="M1171.2 132.9 1173.2 131.8 1179.2 131.5 1179.8 131.9 1182.8 131.9 1183.2 132.3 1185.8 132.3 1186.2 132.8 1187.8 132.7 1188.2 133.2 1190.2 133.2 1190.8 133.7 1192.2 133.6 1192.8 134.1 1193.8 134.1 1194.2 134.6 1195.8 134.6 1196.2 135 1199.8 135.5 1204.8 137.3 1205.8 137.3 1207.8 138.3 1211.8 139.4 1212.8 140.2 1219.8 142.8 1222.8 144.6 1225.2 145.3 1226.8 146.6 1227.8 146.8 1228.8 147.6 1229.8 147.7 1230.8 148.6 1231.8 148.7 1233.2 150.1 1236.2 151.7 1238.2 153.6 1241.2 155.2 1248 162.1 1248.5 163.1 1250 164.6 1252 168.1 1253.6 173.1 1253.6 180.1 1251.9 185.1 1251.1 186.1 1249.9 188.6 1249.1 189.1 1247.9 191.1 1244.8 194.2 1243.8 194.8 1243.4 195.6 1242.2 196.7 1241.2 197.2 1239.8 198.7 1238.2 199.2 1234.8 202.2 1233.8 202.4 1230.2 204.7 1225.8 206.8 1224.8 207.6 1223.8 207.8 1222.8 208.6 1221.8 208.8 1217.1 211.1 1214.2 211.8 1213.5 212.6 1210.8 213.2 1210.2 213.6 1209.2 213.6 1207.8 214.5 1206.8 214.5 1206.2 215 1205.2 215 1203.8 216 1202.2 216 1201.8 216.5 1199.2 216.9 1198.8 217.4 1197.2 217.4 1196.8 217.9 1195.8 217.9 1195.2 218.4 1193.8 218.3 1193.2 218.8 1191.8 218.8 1191.2 219.3 1190.2 219.3 1189.8 219.8 1187.8 219.7 1187.2 220.2 1185.2 220.2 1184.8 220.6 1182.2 220.6 1181.8 221.1 1178.2 220.9 1177.2 221.3 1174.8 221.1 1173.8 220.5 1172.2 220.4 1171.4 219.6 1170.9 190.1 1170.8 159.6ZM1353 176.1 1353.5 175.6 1353.5 174.1 1354.5 172.6 1354.5 172.1 1357.8 168.8 1358.2 168.8 1360.2 166.8 1361.2 166.8 1362.2 165.8 1363.2 165.8 1364.8 164.8 1365.8 164.8 1366.2 164.3 1367.2 164.3 1367.8 163.8 1369.2 163.8 1369.8 163.3 1370.8 163.3 1371.2 162.8 1372.8 162.8 1373.2 162.3 1375.8 162.3 1376.2 161.8 1379.8 161.8 1380.2 161.3 1393.8 161.3 1394.2 161.8 1397.8 161.8 1398.2 162.3 1400.8 162.3 1401.2 162.8 1402.8 162.8 1403.2 163.3 1404.8 163.3 1405.2 163.8 1406.2 163.8 1406.8 164.3 1407.8 164.3 1408.2 164.8 1409.8 164.8 1410.8 165.8 1411.8 165.8 1412.8 166.8 1413.8 166.8 1416.2 168.8 1416.8 168.8 1420 172.6 1420 173.1 1420.5 173.6 1420.5 174.6 1421 175.1 1421 178.1 1419.5 180.6 1419.5 181.1 1418.5 182.1 1418.4 182.6 1417.8 183.2 1417.2 183.3 1415.2 185.2 1414.2 185.3 1412.8 186.7 1411.8 186.8 1410.2 187.7 1409.2 187.8 1408.8 188.2 1407.8 188.3 1406.2 189.2 1405.2 189.2 1404.8 189.7 1402.2 189.8 1401.8 190.2 1400.2 190.3 1399.8 190.7 1397.2 190.8 1396.8 191.2 1392.2 191.3 1391.8 191.7 1382.2 191.7 1381.8 191.3 1377.2 191.2 1376.8 190.8 1374.2 190.7 1373.8 190.3 1372.2 190.2 1371.8 189.8 1369.8 189.7 1369.2 189.3 1367.8 189.2 1366.8 188.3 1365.2 188.2 1364.8 187.8 1363.8 187.7 1362.8 186.8 1361.8 186.8 1361.2 186.3 1360.8 186.3 1359.8 185.3 1359.2 185.3 1357.2 183.3 1356.8 183.3 1355 181.6 1355 181.1 1353.5 179.1 1353.5 177.6 1353 177.1Z" fill="#2699e9"/>
<path d="M1171.6 133.1 1173.8 132.2 1178.8 131.7 1179.8 132.1 1182.8 132 1183.2 132.5 1185.8 132.4 1186.2 132.9 1187.8 132.8 1188.2 133.3 1190.2 133.3 1190.8 133.8 1192.2 133.7 1192.8 134.2 1193.8 134.2 1194.2 134.7 1195.8 134.7 1196.2 135.1 1197.8 135.1 1198.2 135.6 1199.8 135.6 1201.2 136.6 1202.2 136.5 1202.8 137 1203.8 137 1204.2 137.4 1205.8 137.5 1207.2 138.3 1211.2 139.4 1212.8 140.4 1219.8 143 1222.8 144.7 1225.2 145.4 1226.8 146.7 1229.8 147.9 1230.8 148.7 1231.8 148.9 1233 150.1 1236.2 151.9 1238 153.6 1241.2 155.4 1247.9 162.1 1248.4 163.1 1249.8 164.6 1251.8 168.1 1253.5 173.1 1253.5 180.1 1251.8 185.1 1249.8 188.6 1249 189.1 1247.8 191.1 1244.8 194.1 1243.8 194.6 1242.2 196.6 1241.2 197.1 1239.8 198.6 1238.2 199.1 1234.7 202.1 1233.8 202.3 1230.1 204.6 1225.2 206.8 1224.5 207.6 1223.2 207.8 1222.4 208.6 1221.2 208.7 1216.8 211.1 1214.2 211.5 1213.2 212.5 1210.8 213 1210.2 213.5 1209.2 213.5 1207.8 214.5 1205.2 214.9 1203.8 215.9 1202.2 215.9 1201.8 216.4 1199.2 216.8 1198.8 217.3 1197.2 217.3 1196.8 217.8 1195.8 217.8 1195.2 218.2 1193.8 218.2 1193.2 218.7 1191.8 218.7 1191.2 219.2 1190.2 219.1 1189.8 219.6 1187.8 219.6 1187.2 220.1 1185.2 220 1184.2 220.4 1182.2 220.3 1181.2 220.7 1178.2 220.5 1176.8 220.9 1174.8 220.6 1172.2 219.7 1172 219.1 1171.2 188.6 1171.1 159.6ZM1353.1 176.1 1353.6 175.6 1353.6 174.1 1354.6 172.6 1354.6 172.1 1357.8 168.9 1358.2 168.9 1360.2 166.9 1361.2 166.9 1362.2 165.9 1363.2 165.9 1364.8 164.9 1365.8 164.9 1366.2 164.4 1367.2 164.4 1367.8 163.9 1369.2 163.9 1369.8 163.4 1370.8 163.4 1371.2 162.9 1372.8 162.9 1373.2 162.4 1375.8 162.4 1376.2 161.9 1379.8 161.9 1380.2 161.4 1393.8 161.5 1394.2 161.9 1397.8 161.9 1398.2 162.4 1400.8 162.5 1401.2 162.9 1402.8 162.9 1403.2 163.4 1404.8 163.4 1405.2 163.9 1406.2 163.9 1406.8 164.4 1407.8 164.4 1408.2 164.9 1409.8 165 1410.8 165.9 1411.8 166 1412.8 166.9 1413.8 167 1416.2 168.9 1416.8 169 1419.8 172.6 1419.8 173.1 1420.3 173.6 1420.4 174.6 1420.8 175.1 1420.8 178.1 1419.3 180.6 1419.3 181.1 1418.3 182.1 1418.3 182.6 1417.8 183.1 1417.2 183.1 1415.2 185.1 1414.2 185.1 1412.8 186.6 1411.8 186.6 1410.2 187.6 1409.2 187.6 1408.8 188.1 1407.8 188.1 1406.2 189.1 1405.2 189.1 1404.8 189.6 1402.2 189.6 1401.8 190.1 1400.2 190.1 1399.8 190.6 1397.2 190.6 1396.8 191.1 1392.2 191.1 1391.8 191.6 1382.2 191.6 1381.8 191.1 1377.2 191.1 1376.8 190.6 1374.2 190.6 1373.8 190.1 1372.2 190.1 1371.8 189.7 1369.8 189.6 1369.2 189.1 1367.8 189.1 1366.8 188.2 1365.2 188.1 1364.8 187.6 1363.8 187.6 1362.8 186.7 1361.8 186.6 1361.2 186.1 1360.8 186.1 1359.8 185.2 1359.2 185.1 1357.2 183.2 1356.8 183.1 1355.2 181.6 1355.1 181.1 1353.7 179.1 1353.6 177.6 1353.1 177.1Z" fill="#23a1e5"/>
<path d="M1172.2 133.6 1173.9 132.6 1178.8 132.1 1179.8 132.5 1182.2 132.3 1183.2 132.6 1185.8 132.5 1186.2 133 1187.8 133 1188.2 133.4 1190.2 133.4 1190.8 133.9 1192.2 133.8 1192.8 134.3 1193.8 134.3 1194.2 134.8 1195.8 134.8 1196.2 135.2 1197.8 135.2 1198.2 135.7 1199.8 135.7 1201.2 136.6 1202.2 136.6 1202.8 137.1 1203.8 137.1 1204.2 137.6 1205.8 137.6 1207.2 138.6 1208.2 138.6 1208.8 139 1211.2 139.5 1212.2 140.4 1213.2 140.5 1214.8 141.3 1215.8 141.5 1218.2 142.7 1219.6 143.1 1220.2 143.7 1221.6 144.1 1222.8 144.9 1225.2 145.6 1226.8 146.8 1229.8 148 1230.8 148.8 1231.8 149 1232.8 150.1 1236.2 152 1237.8 153.6 1241.2 155.5 1247.8 162.1 1248.2 163.1 1249.8 164.6 1251.8 168.2 1253.4 173.1 1253.3 180.1 1251.8 184.8 1251 185.6 1249.8 188.3 1248 190.1 1247.8 190.8 1244.5 194.1 1243.5 194.6 1243.2 195.3 1242 196.6 1241.2 196.8 1239.5 198.6 1238.2 198.8 1234.4 202.1 1233.2 202.2 1232.4 203.1 1230.8 203.7 1229.8 204.6 1225.2 206.5 1224.2 207.5 1223.2 207.5 1222.2 208.5 1221.2 208.5 1216.8 211 1214.2 211.4 1213.2 212.4 1210.8 212.9 1210.2 213.4 1209.2 213.4 1207.8 214.4 1205.2 214.8 1203.8 215.8 1202.2 215.8 1201.8 216.3 1199.2 216.7 1198.8 217.2 1197.2 217.2 1196.8 217.7 1195.8 217.7 1195.2 218.1 1193.8 218.1 1193.2 218.6 1191.8 218.6 1191.2 219 1190.2 219 1189.2 219.4 1185.2 219.7 1184.2 220.1 1182.2 219.9 1181.2 220.3 1177.8 220.1 1176.8 220.3 1175.2 219.9 1173.2 219 1172.9 218.6 1171.6 189.6 1171.5 158.6 1171.8 140.2ZM1353.3 176.6 1353.8 175.6 1353.8 174.1 1354.8 172.1 1357.8 169.1 1358.2 169 1360.2 167.1 1361.2 167 1362.2 166.1 1363.2 166 1364.8 165.1 1367.2 164.5 1367.8 164.1 1369.2 164 1369.8 163.6 1370.8 163.5 1371.2 163.1 1372.8 163 1373.2 162.6 1375.8 162.5 1376.2 162.1 1379.8 162 1380.8 161.6 1393.8 161.6 1394.2 162 1397.2 162.1 1398.2 162.5 1400.8 162.6 1401.2 163 1402.8 163.1 1403.2 163.5 1404.8 163.6 1406.8 164.5 1407.8 164.6 1408.2 165 1409.8 165.2 1410.8 166 1411.8 166.2 1412.7 167.1 1413.8 167.2 1416.8 169.2 1419.6 172.6 1420.7 175.6 1420.6 178.1 1418 182.6 1415.2 184.8 1414.1 185.1 1412.8 186.3 1404.2 189.4 1402.2 189.5 1399.2 190.4 1397.2 190.5 1396.2 190.9 1392.2 191 1391.2 191.4 1382.8 191.4 1381.8 191 1377.8 190.9 1376.8 190.5 1374.8 190.5 1371.8 189.5 1368.2 189 1366.8 188 1363.8 187.3 1362.8 186.6 1361.8 186.4 1359.2 184.9 1355.4 181.6 1353.9 179.1 1353.8 177.6Z" fill="#1da8e0"/>
<path d="M1173.2 134.1 1174.1 133.6 1177.6 132.6 1179.8 132.8 1182.2 132.6 1183.2 133 1185.2 132.8 1186.2 133.2 1187.8 133.1 1188.2 133.5 1190.2 133.5 1190.8 134 1192.2 133.9 1192.8 134.4 1193.8 134.4 1194.2 134.9 1195.8 134.9 1196.2 135.3 1197.8 135.3 1198.2 135.8 1199.8 135.8 1201.2 136.7 1202.2 136.7 1202.8 137.2 1203.8 137.2 1204.2 137.7 1205.8 137.7 1207.2 138.6 1208.2 138.6 1208.8 139.1 1211.2 139.6 1212.2 140.6 1213.2 140.6 1214.8 141.6 1215.8 141.6 1218.2 143 1219.3 143.1 1220.2 144 1221.3 144.1 1222.2 144.9 1224.9 145.6 1226.2 146.8 1227.5 147.1 1228.2 147.8 1229.2 147.9 1230.2 148.8 1231.5 149.1 1232.8 150.2 1236.1 152.1 1237.8 153.7 1241 155.6 1247.8 162.4 1247.9 163.1 1249.8 164.9 1250.4 166.6 1251.8 168.5 1252.3 171.1 1252.8 171.6 1252.8 172.6 1253.2 173.1 1253.2 180.1 1252.7 180.6 1252.7 182.1 1251.7 183.6 1251.7 184.6 1250.7 185.6 1249.7 188.1 1249.2 188.5 1248.7 188.6 1248.7 189.1 1247.7 190.1 1247.7 190.6 1244.2 194 1243.8 194 1243.2 194.6 1243.2 195.1 1241.8 196.5 1241.2 196.5 1239.2 198.5 1238.2 198.5 1234.2 202 1233.2 202 1232.2 203 1230.8 203.5 1228.8 205 1225.2 206.5 1224.2 207.4 1223.2 207.4 1222.2 208.4 1221.2 208.4 1216.8 210.9 1214.2 211.4 1213.2 212.3 1210.8 212.8 1210.2 213.3 1209.2 213.3 1207.8 214.3 1205.2 214.7 1203.8 215.7 1202.2 215.7 1201.8 216.2 1200.8 216.1 1200.2 216.6 1199.2 216.6 1198.8 217.1 1197.2 217.1 1196.8 217.6 1191.8 218.3 1189.2 219.1 1187.8 219 1186.8 219.4 1184.8 219.3 1184.2 219.6 1180.8 219.7 1177.8 219 1176.2 219.1 1174.2 218.1 1173.8 216.1 1172 187.1 1172.2 176.1 1171.8 159.1 1172.5 142.1ZM1353.6 176.6 1354.1 175.6 1354.1 174.6 1355.4 172.1 1357.8 169.7 1360.8 167.4 1365.2 165.3 1371.8 163.3 1372.8 163.3 1373.8 162.9 1375.8 162.8 1376.8 162.4 1379.8 162.3 1380.8 161.9 1393.2 161.9 1394.2 162.3 1397.2 162.4 1398.2 162.8 1400.2 162.9 1403.2 163.8 1404.2 163.9 1408.2 165.3 1409.2 165.4 1412.2 167.2 1413.2 167.4 1416.8 169.7 1419.2 172.8 1420.4 175.6 1420.4 177.6 1417.8 182.2 1415.2 184.3 1413.8 184.9 1412.2 186.1 1404.2 189.1 1402.2 189.2 1399.2 190.2 1397.2 190.2 1396.2 190.6 1392.2 190.7 1391.2 191.1 1382.8 191.1 1381.8 190.7 1377.8 190.7 1376.8 190.2 1374.8 190.2 1371.8 189.2 1368.2 188.7 1367.2 187.9 1364.2 187.2 1363.2 186.4 1361 185.6 1356.8 182.4 1354.6 179.6Z" fill="#16aeda"/>
<path d="M1174.2 134.6 1178.2 133.3 1181.8 133 1183.2 133.3 1185.2 133.1 1188.2 133.8 1192.2 134 1192.8 134.5 1193.8 134.5 1194.2 135 1195.8 134.9 1196.2 135.4 1197.8 135.4 1198.2 135.9 1199.8 135.9 1201.2 136.8 1202.2 136.8 1202.8 137.3 1203.8 137.3 1204.2 137.8 1205.8 137.8 1207.2 138.7 1208.2 138.7 1208.8 139.2 1211.2 139.7 1212.2 140.7 1213.2 140.7 1214.8 141.6 1215.8 141.6 1218.2 143.1 1219.2 143.1 1220.2 144.1 1221.2 144.1 1222.2 145.1 1224.8 145.6 1226.2 147.1 1227.2 147.1 1228.2 148.1 1229.2 148.1 1230.2 149 1231.2 149.1 1232.8 150.5 1234.3 151.1 1235.2 152 1235.8 152.1 1237.8 154 1239.3 154.6 1240.2 155.5 1240.8 155.6 1247.7 162.6 1247.7 163.1 1249.7 165.1 1250.2 166.6 1251.7 168.6 1252.2 171.1 1252.7 171.6 1252.7 172.6 1253.2 173.1 1253.1 180.1 1252.7 180.6 1252.6 182.1 1251.7 183.6 1251.6 184.6 1250.7 185.6 1249.6 188.1 1248.7 188.6 1248.7 189.1 1247.7 190.1 1247.7 190.6 1244.2 194 1243.8 194 1243.2 194.6 1243.2 195.1 1241.8 196.5 1241.2 196.5 1239.2 198.5 1238.2 198.5 1234.2 201.9 1233.2 201.9 1232.2 202.9 1230.8 203.4 1228.8 204.9 1225.2 206.4 1224.2 207.4 1223.2 207.4 1222.2 208.3 1221.2 208.3 1216.8 210.8 1214.2 211.3 1213.2 212.2 1210.8 212.7 1210.2 213.2 1209.2 213.2 1207.8 214.2 1205.2 214.6 1203.8 215.6 1202.2 215.6 1201.8 216.1 1200.8 216 1198.2 216.9 1197.2 216.8 1192.8 218 1191.2 218 1189.2 218.7 1183.8 218.9 1178.2 218.1 1175.9 211.1 1173.8 203 1172.7 190.1 1172.8 176.1 1172.4 159.6 1173.3 141.1 1173.8 135.8ZM1353.9 176.6 1354.4 174.6 1355.8 172.1 1360.2 168 1361.8 167.5 1362.8 166.7 1368.2 164.6 1369.4 164.6 1373.8 163.2 1375.8 163.1 1376.8 162.6 1379.8 162.6 1380.8 162.2 1392.8 162.1 1394.2 162.6 1397.2 162.7 1398.2 163.1 1400.2 163.2 1404.2 164.2 1407.8 165.5 1409.2 165.7 1412.2 167.5 1413.2 167.7 1416.7 170.1 1419 173.1 1420.1 176.1 1420 177.6 1417.5 182.1 1415.1 184.1 1413.8 184.5 1412.2 185.8 1404.2 188.8 1402.2 188.9 1399.2 189.8 1397.2 189.9 1396.2 190.3 1392.2 190.4 1390.2 190.9 1383.2 190.9 1381.8 190.4 1377.8 190.3 1368.2 188.3 1367.2 187.6 1364.2 186.9 1363.2 186.1 1361.2 185.4 1356.8 182.1 1354.9 179.6Z" fill="#09b4d1"/>
<path d="M1177.2 134.6 1181.8 133.7 1184.8 133.5 1188.2 134.1 1189.8 134 1194.2 135.1 1195.8 135 1196.2 135.5 1197.8 135.5 1198.2 136 1199.8 136 1201.2 136.9 1202.2 136.9 1202.8 137.4 1203.8 137.4 1204.2 137.9 1205.8 137.9 1207.2 138.8 1208.2 138.8 1208.8 139.3 1211.2 139.8 1212.2 140.8 1213.2 140.8 1214.8 141.7 1215.8 141.7 1218.2 143.2 1219.2 143.2 1220.2 144.2 1221.2 144.2 1222.2 145.2 1224.8 145.7 1226.2 147.1 1227.2 147.1 1228.2 148.1 1229.2 148.1 1230.2 149.1 1231.2 149.1 1232.8 150.6 1234.2 151.1 1235.2 152.1 1235.8 152.1 1237.8 154.1 1239.2 154.6 1240.2 155.6 1240.8 155.6 1247.6 162.6 1247.6 163.1 1249.6 165.1 1250.1 166.6 1251.6 168.6 1252.1 171.1 1252.6 171.6 1252.6 172.6 1253.1 173.1 1253.1 180.1 1252.6 180.6 1252.6 182.1 1251.6 183.6 1251.6 184.6 1250.6 185.6 1249.6 188.1 1248.6 188.6 1248.6 189.1 1247.6 190.1 1247.6 190.6 1244.2 193.9 1243.8 193.9 1243.1 194.6 1243.1 195.1 1241.8 196.4 1241.2 196.4 1239.2 198.4 1238.2 198.4 1234.2 201.8 1233.2 201.9 1232.2 202.8 1230.8 203.3 1228.8 204.8 1225.2 206.3 1224.2 207.3 1223.2 207.3 1222.2 208.2 1221.2 208.2 1216.8 210.7 1214.2 211.2 1213.2 212.1 1210.8 212.6 1210.2 213.1 1209.2 213.1 1207.8 214.1 1206.8 214.1 1206.2 214.5 1205.2 214.5 1203.2 215.4 1202.2 215.3 1194.8 217.3 1188.8 218.1 1183.2 217.9 1181.9 217.6 1178.4 209.6 1175.3 200.6 1173.8 194.9 1173.4 190.1 1173 163.1 1173.8 145.8 1175.1 140.1ZM1354.4 176.6 1354.8 174.7 1355.8 172.6 1358.2 170.1 1360.7 168.1 1361.8 167.8 1362.8 167 1368.2 165 1369.8 164.8 1373.8 163.5 1376.2 163.3 1377.2 162.9 1379.8 162.9 1381.2 162.4 1392.8 162.4 1394.2 162.9 1396.8 162.9 1402.2 164 1407.8 165.8 1409.2 166 1410.2 166.8 1411.2 167 1412.2 167.9 1413.2 168.1 1416.2 170.1 1418.6 173.1 1419.7 176.1 1419.7 177.1 1417.2 181.7 1414.8 183.9 1413.8 184.2 1412.2 185.4 1403.9 188.6 1401.8 188.7 1399.1 189.6 1396.8 189.7 1395.8 190.1 1392.2 190.2 1389.8 190.6 1383.2 190.6 1381.8 190.2 1378.2 190.1 1368.2 188 1367.2 187.2 1364.4 186.6 1363.2 185.7 1361.2 185 1357.2 182 1355.2 179.4Z" fill="#01b9c7"/>
<path d="M1179.9 135.1 1184.8 134.1 1189.8 134.3 1194.2 135.4 1197.2 135.7 1198.2 136.1 1199.8 136.1 1201.2 137 1202.2 137 1202.8 137.5 1203.8 137.5 1204.2 137.9 1205.8 137.9 1207.2 138.9 1208.2 138.9 1208.8 139.4 1211.2 139.9 1212.2 140.8 1213.2 140.8 1214.8 141.8 1215.8 141.8 1218.2 143.3 1219.2 143.3 1220.2 144.3 1221.2 144.3 1222.2 145.2 1224.8 145.7 1226.2 147.2 1227.2 147.2 1228.2 148.2 1229.2 148.2 1230.2 149.2 1231.2 149.2 1232.8 150.7 1234.2 151.2 1235.2 152.2 1235.8 152.2 1237.8 154.2 1239.2 154.7 1240.2 155.7 1240.8 155.7 1247.6 162.6 1247.6 163.1 1249.5 165.1 1250 166.6 1251.5 168.6 1252 171.1 1252.5 171.6 1252.5 172.6 1253 173.1 1253 180.1 1252.5 180.6 1252.5 182.1 1251.5 183.6 1251.5 184.6 1250.5 185.6 1249.5 188.1 1248.5 188.6 1248.5 189.1 1247.5 190.1 1247.5 190.6 1244.5 193.6 1243.8 193.8 1241.8 196.3 1241.2 196.3 1239.2 198.3 1238.2 198.3 1234.2 201.8 1233.2 201.8 1232.2 202.8 1230.8 203.3 1229.8 204.2 1225.2 206.2 1224.2 207.2 1223.2 207.2 1222.2 208.2 1221.2 208.2 1216.8 210.6 1214.2 211.1 1213.2 212 1212.2 212 1211.8 212.4 1209.2 212.9 1203.2 215.1 1202.2 215.1 1198.2 216.2 1196.8 216.3 1194.2 217 1188.8 217.2 1185.6 217.1 1181.2 209.3 1177.5 200.6 1175 193.1 1174 186.6 1174.1 176.1 1173.6 165.6 1173.8 157.6 1175.1 149.1 1176.2 144.1 1177.8 139.4ZM1355.1 176.6 1355.4 175.1 1356.6 172.6 1360.8 168.8 1362.9 167.6 1368.8 165.3 1374.2 163.8 1381.2 162.8 1392.8 162.9 1396.8 163.4 1403.8 164.9 1408.8 166.5 1412.8 168.6 1416.2 171 1418.1 173.6 1419 176.1 1418.6 178.1 1416.8 181.2 1414.2 183.4 1413.2 183.8 1411.8 184.9 1403.8 188 1395.8 189.5 1388.2 190.1 1383.2 190 1375.2 189.1 1368.8 187.5 1367.2 186.8 1364.8 186 1361.7 184.6 1357.2 181.1 1355.8 179.1Z" fill="#0bbdbd"/>
<path d="M1182.4 135.6 1184.2 135 1189.2 134.7 1191.8 134.9 1193.8 135.6 1199.2 136.3 1201.2 137.2 1203.8 137.6 1204.2 138 1205.8 138 1207.2 139 1208.2 139 1208.8 139.5 1211.2 139.9 1212.2 140.9 1213.2 140.9 1214.8 141.9 1215.8 141.9 1218.2 143.4 1219.2 143.4 1220.2 144.3 1221.2 144.3 1222.2 145.3 1224.8 145.8 1226.2 147.3 1227.2 147.3 1228.2 148.3 1229.2 148.3 1230.2 149.3 1231.2 149.3 1232.8 150.8 1234.2 151.3 1235.2 152.3 1235.8 152.3 1237.8 154.3 1239.2 154.8 1240.2 155.8 1240.8 155.8 1247.5 162.6 1247.5 163.1 1249.5 165.1 1250 166.6 1251.4 168.6 1251.9 171.1 1252.4 171.6 1252.4 172.6 1252.9 173.1 1252.9 180.1 1252.4 180.6 1252.4 182.1 1251.4 183.6 1251.4 184.6 1250.4 185.6 1249.4 188.1 1248.4 188.6 1248.4 189.1 1247.4 190.1 1247.4 190.6 1244.2 193.7 1243.8 193.7 1242.9 194.6 1242.9 195.1 1241.8 196.2 1241.2 196.2 1239.2 198.2 1238.2 198.2 1234.2 201.7 1233.2 201.7 1232.2 202.7 1230.8 203.2 1229.8 204.2 1225.2 206.1 1224.2 207.1 1223.2 207.1 1222.2 208.1 1221.2 208.1 1219.8 209 1216.8 210.3 1213.8 211.1 1212.8 211.8 1204.8 214 1203.2 214.8 1201.8 214.8 1197.8 215.9 1194.2 216.2 1188.9 216.1 1183.8 208.5 1179.1 199.6 1176.4 192.1 1175.2 185.1 1174.7 166.1 1175.4 157.1 1176.7 149.6 1178.1 144.6 1179.8 140.1ZM1355.9 176.6 1356.2 175.1 1356.8 173.6 1358.8 171.3 1361.2 169.2 1365.8 167 1374.2 164.5 1381.2 163.4 1392.8 163.5 1396.8 164 1403.8 165.5 1408.8 167.2 1412.8 169.3 1415.8 171.5 1417.5 174.1 1418.2 176.6 1417 179.6 1415.8 181.1 1414.2 182.6 1409.2 185.3 1403.8 187.3 1398.8 188.4 1390.8 189.4 1383.2 189.4 1375.2 188.5 1368.8 186.9 1367.8 186.3 1364.8 185.3 1361.8 183.8 1357.8 180.6 1356.2 178.1Z" fill="#1fc0b2"/>
<path d="M1184.8 136.1 1189.2 135.4 1195.2 135.9 1198.2 136.6 1199.2 136.6 1200.8 137.3 1204.2 138.2 1205.2 138.2 1207.2 139.1 1208.2 139.1 1208.8 139.5 1209.8 139.5 1210.2 140 1211.2 140 1212.2 141 1213.2 141 1214.8 142 1215.8 142 1218.2 143.4 1219.2 143.4 1220.2 144.4 1221.2 144.4 1222.2 145.4 1224.8 145.9 1226.2 147.4 1227.2 147.4 1228.2 148.4 1229.2 148.4 1230.2 149.3 1231.2 149.4 1232.8 150.8 1234.2 151.3 1235.2 152.3 1235.8 152.3 1237.8 154.3 1239.2 154.8 1240.2 155.8 1240.8 155.9 1247.4 162.6 1247.4 163.1 1249.4 165.1 1249.9 166.6 1251.4 168.6 1251.9 171.1 1252.4 171.6 1252.4 172.6 1252.8 173.1 1252.8 180.1 1252.3 180.6 1252.3 182.1 1251.3 183.6 1251.3 184.6 1250.3 185.6 1249.3 188.1 1248.3 188.6 1248.3 189.1 1247.3 190.1 1247.3 190.6 1244.2 193.6 1243.8 193.6 1242.8 194.6 1242.8 195.1 1241.8 196.1 1241.2 196.1 1239.2 198.1 1238.2 198.1 1234.2 201.6 1233.2 201.6 1232.2 202.6 1230.8 203.1 1229.8 204.1 1225.1 206.1 1224.2 206.8 1223 207.1 1222.2 207.7 1220.8 208.1 1216.2 210.2 1213.8 210.8 1212.8 211.5 1208.8 212.5 1207.2 213.2 1202.8 214.5 1194.2 215.3 1192.2 215.1 1186.2 207.8 1180.9 199.1 1177.8 191.4 1176.3 184.1 1175.9 166.6 1177.1 156.1 1178.4 149.6 1180 144.6 1182.1 140.1ZM1357.1 176.1 1357.7 173.6 1359.2 171.9 1361.8 169.8 1365.8 167.8 1374.8 165 1381.8 164 1392.2 164 1399.2 165.1 1408.2 167.7 1412.2 169.9 1415.1 172.1 1416.2 174.1 1416.6 176.1 1416.1 178.6 1414.5 181.1 1411.3 183.6 1403.8 186.6 1398.2 187.9 1390.2 188.9 1383.8 188.9 1375.8 187.9 1369.2 186.3 1365.2 184.8 1362.2 183.3 1358.4 180.1 1357.4 178.1Z" fill="#2dc4a6"/>
<path d="M1187.2 136.6 1191.2 136.1 1197.2 136.5 1197.8 136.8 1199.2 136.9 1200.8 137.6 1204.2 138.5 1205.2 138.5 1207.2 139.3 1210.8 140.2 1212.1 141.1 1213.2 141.2 1214.8 142 1215.8 142 1218.2 143.5 1219.2 143.5 1220.2 144.5 1221.2 144.5 1222.2 145.5 1224.8 146 1226.2 147.4 1227.2 147.4 1228.2 148.4 1229.2 148.4 1230.2 149.4 1231.2 149.4 1232.8 150.9 1234.2 151.4 1235.2 152.4 1235.8 152.4 1237.8 154.4 1239.2 154.9 1240.2 155.9 1240.8 155.9 1247.3 162.6 1247.3 163.1 1249.3 165.1 1249.8 166.6 1251.3 168.6 1251.8 171.1 1252.3 171.6 1252.3 172.6 1252.8 173.1 1252.7 179.6 1252.2 180.6 1252.2 182.1 1251.2 183.6 1251.2 184.6 1250.2 185.5 1249.7 187.1 1247.3 190.1 1247.2 190.6 1244.2 193.6 1243.8 193.6 1242.8 194.6 1242.8 195.1 1241.8 196 1241.2 196.1 1239.2 198 1238.2 198.1 1234.2 201.4 1233.1 201.6 1229.8 203.7 1224.8 206 1223.8 206.7 1222.8 206.9 1221.8 207.6 1220.8 207.8 1216.2 209.9 1213.8 210.5 1212.8 211.2 1206.8 212.9 1202.8 213.8 1197.2 214.3 1195.8 214.1 1194.8 213.4 1188.2 206.5 1184.9 202.1 1182.4 198.1 1179 190.6 1178 187.1 1177.3 183.1 1177.1 167.6 1177.6 161.6 1178.7 155.1 1180.2 149.1 1182 144.6 1184.2 140.4ZM1360.7 176.1 1361.4 173.6 1362.9 171.6 1365.4 169.6 1368.2 168 1372.2 166.6 1376.2 165.6 1381.8 164.8 1386.8 164.5 1391.8 164.7 1396.2 165.3 1401.2 166.5 1405.2 167.9 1408.3 169.6 1410.8 171.6 1412.3 173.6 1413 176.1 1412.5 178.6 1411.1 180.6 1408.8 182.6 1405.2 184.5 1401.2 185.9 1396.8 187 1391.8 187.7 1386.8 187.9 1381.8 187.6 1376.8 187 1372.2 185.9 1368.2 184.4 1364.9 182.6 1362.6 180.6 1361.2 178.6Z" fill="#36c799"/>
<path d="M1189.6 137.1 1191.2 136.8 1198.8 137.1 1203.8 138.6 1205.2 138.7 1206.8 139.4 1210.8 140.4 1211.8 141.2 1219.2 143.8 1220.1 144.6 1221.2 144.7 1222.2 145.5 1224.8 146 1226.2 147.5 1227.2 147.5 1228.2 148.5 1229.2 148.5 1230.2 149.5 1231.2 149.5 1232.8 151 1234.2 151.5 1235.2 152.5 1235.8 152.5 1237.8 154.5 1239.2 155 1240.2 156 1240.8 156 1247.3 162.6 1247.3 163.1 1249.1 165.1 1249.8 166.7 1250.5 167.6 1252.6 173.6 1252.5 179.6 1251 184.1 1249 187.6 1248.2 188.1 1246.7 190.6 1244.2 193.1 1242.8 194.1 1241.8 195.5 1240.8 196.1 1239.2 197.6 1237.8 198.1 1234.1 201.1 1232.8 201.5 1229.2 203.7 1224.8 205.7 1223.8 206.5 1222.8 206.6 1221.8 207.4 1220.8 207.5 1216.2 209.6 1213.8 210.2 1212.2 211 1202.8 213 1199 213.1 1194.2 209.3 1189.2 204.2 1183.8 197 1181.8 193.5 1180 189.6 1178.3 182.6 1178 173.1 1178.2 167.6 1178.9 161.6 1180.1 155.6 1181.5 150.6 1183 146.6 1184.8 143.2 1186.9 140.1ZM1364.9 176.1 1365.4 174.1 1366.8 172.2 1368.9 170.6 1371.8 169.1 1378.8 167.1 1386.8 166.4 1394.8 167.1 1399 168.1 1402.2 169.2 1405.2 170.9 1407.2 172.6 1408.3 174.1 1408.8 176.1 1408.4 178.1 1407.2 179.8 1405.2 181.6 1402.5 183.1 1399.2 184.3 1395.2 185.2 1386.8 186 1378.2 185.2 1374.2 184.2 1371.1 183.1 1368.4 181.6 1366.6 180.1 1365.3 178.1Z" fill="#42ca8b"/>
<path d="M1192.2 137.5 1196.8 137.6 1205.2 139 1206.8 139.7 1210.8 140.7 1211.8 141.4 1215.2 142.5 1217.8 143.7 1218.8 143.9 1219.8 144.6 1220.8 144.8 1221.8 145.6 1224.2 146.2 1226 147.6 1227.2 147.8 1228.2 148.6 1229.2 148.7 1230.1 149.6 1231.2 149.7 1232.7 151.1 1235.8 152.6 1237.7 154.6 1239.2 155.2 1240.1 156.1 1240.8 156.2 1246.8 162.6 1247.2 163.5 1248.8 165.1 1250.9 169.1 1252.3 173.6 1252.3 179.6 1250.8 184.1 1250 185.1 1248.8 187.6 1248 188.1 1246.5 190.6 1244.2 192.8 1242.5 194.1 1241.8 195.3 1240.8 195.8 1238.9 197.6 1237.8 197.8 1233.8 201 1232.8 201.2 1229.2 203.4 1224.8 205.4 1223.8 206.2 1222.8 206.3 1221.8 207.1 1220.8 207.2 1216.8 209 1213.2 209.9 1212.2 210.4 1203.2 212.1 1200.2 210.6 1196.2 207.8 1192.8 204.8 1188.6 200.6 1183.8 194 1181.9 190.6 1180.5 187.1 1179.1 180.6 1179 172.1 1180.4 160.6 1183.1 150.6 1184.6 147.1 1186.3 144.1 1188.6 141.1ZM1370.1 176.1 1370.5 174.6 1371.2 173.4 1372.9 172.1 1374.8 171 1380.2 169.3 1386.8 168.7 1393.2 169.3 1398.8 170.9 1400.8 172.1 1402.2 173.3 1403.2 174.6 1403.6 176.1 1403.3 177.6 1402.4 179.1 1400.5 180.6 1398.6 181.6 1393.2 183.1 1386.8 183.7 1380.2 183.1 1375.1 181.6 1373.2 180.6 1371.3 179.1 1370.3 177.6Z" fill="#55cc7b"/>
<path d="M1191.2 141 1194.3 138.6 1196.2 138.2 1198.8 138.3 1204.8 139.3 1210.8 140.9 1211.8 141.7 1212.8 141.8 1217.8 143.9 1218.8 144.1 1221.8 145.8 1224.2 146.4 1225.8 147.7 1226.8 147.9 1227.8 148.6 1230.8 149.8 1232.2 151.1 1235.8 153.1 1237.3 154.6 1240.8 156.6 1246.5 162.6 1247 163.6 1248.8 165.5 1250.7 169.1 1252.1 173.6 1252.1 179.1 1251.5 181.6 1250.7 183.1 1250.5 184.1 1246.2 190.5 1242.3 194.1 1241.7 195.1 1240.7 195.6 1238.8 197.4 1237.7 197.6 1233.8 200.8 1232.8 200.9 1229.2 203.2 1221.8 206.6 1215.8 208.7 1210.8 210 1207.2 210.7 1205.2 210.3 1198.8 206.7 1192.8 202 1187.2 196.3 1183.2 190.2 1180.8 183.7 1179.8 177.1 1179.9 172.6 1180.5 167.1 1181.9 160.1 1183.5 154.1 1185 150.1 1186.8 146.6 1188.8 143.7ZM1377.9 176.1 1378.7 174.6 1380.8 173.3 1383.2 172.5 1386.8 172.2 1390.2 172.5 1393.2 173.4 1395 174.6 1395.8 176.1 1395.3 177.6 1393.1 179.1 1390.2 179.9 1386.8 180.2 1383.2 179.9 1380.5 179.1 1378.4 177.6Z" fill="#6acd6a"/>
<path d="M1197.3 139.1 1198.8 139 1204.8 139.8 1210.8 141.3 1211.8 141.9 1212.7 142.1 1217.8 144.2 1218.8 144.3 1221.8 146 1224.2 146.6 1225.8 147.9 1226.8 148.1 1227.8 148.9 1228.8 149 1229.8 149.8 1230.8 150.1 1232.2 151.3 1235.8 153.3 1237.2 154.8 1240.8 156.9 1246.3 162.6 1246.8 163.6 1248.6 165.6 1249.2 167.1 1250 168.1 1251.9 173.6 1251.9 179.1 1250.3 184.1 1246.2 190.1 1243.9 192.6 1242.2 193.7 1241.4 195.1 1240.4 195.6 1238.8 197.1 1237.4 197.6 1233.8 200.5 1232.8 200.7 1228.8 203 1221.2 206.2 1211.8 209.2 1210.2 209.2 1208.2 208.6 1201.8 205.8 1196.8 202.7 1191.8 198.6 1187.8 194.4 1184.8 190.1 1182.5 185.6 1181.2 181.1 1180.7 176.1 1181.1 170.6 1183.1 160.6 1185.4 153.1 1187.5 148.6 1189.9 145.1 1193.2 141.8Z" fill="#81cc59"/>
<path d="M1199.8 140.1 1204.8 140.4 1210.2 141.7 1218.7 144.6 1221.8 146.3 1224.2 146.9 1225.8 148.1 1226.8 148.3 1229.8 150.1 1230.8 150.2 1232.2 151.5 1233.8 152.2 1235.8 153.5 1237.2 155 1240.7 157.1 1246.2 162.8 1246.8 163.9 1248.3 165.6 1249.8 168.1 1251.6 174.1 1251.5 179.1 1249.8 184.1 1245.9 190.1 1242 193.6 1241.2 194.7 1238.8 196.7 1237.2 197.2 1233.6 200.1 1223.2 204.8 1215.2 207.5 1209.8 206.4 1204.2 204.4 1198.8 201.5 1193.8 198 1189.8 194.2 1186.2 189.9 1183.8 185.4 1182.1 180.6 1181.6 176.1 1182.1 171.1 1184.8 159.7 1187.2 152.6 1189.4 148.6 1192.2 145.2 1195.8 142.3Z" fill="#98ca47"/>
<path d="M1202.7 141.1 1204.8 141 1210.2 142.2 1211.2 142.7 1214.8 143.7 1218.8 145 1221.8 146.5 1224.2 147.2 1225.8 148.4 1226.8 148.5 1229.8 150.3 1230.8 150.5 1232.2 151.8 1235.4 153.6 1237.2 155.3 1240.3 157.1 1246 163.1 1247.9 165.6 1249.5 168.6 1251.1 174.1 1251 179.1 1250.4 181.1 1248 186.1 1245.2 189.9 1241.8 193.1 1240.8 194.4 1233.2 199.6 1220.8 205.1 1219.2 205.3 1215.2 205 1208.8 203.6 1202.8 201.4 1197.2 198.3 1192.2 194.4 1188.2 190.2 1185.2 185.6 1183.2 180.6 1182.5 176.6 1182.9 172.1 1186.2 159.6 1188.8 152.9 1191.1 149.1 1194.2 145.8 1198.2 143Z" fill="#aec637"/>
<path d="M1201.8 143.5 1206.7 142.1 1209.8 142.7 1218.2 145.4 1221.2 146.8 1224 147.6 1225.2 148.5 1230.8 150.9 1240.2 157.4 1245.5 163.1 1247.6 166.1 1249.3 169.6 1250.5 174.1 1250.4 179.1 1248.8 183.6 1247.4 186.1 1244.9 189.6 1238.2 195.7 1236.8 196.3 1233.2 198.9 1228 201.6 1224.2 202.8 1215.8 202.6 1207.8 200.9 1201.2 198.4 1195.2 194.7 1190.2 190.2 1186.2 184.8 1184 179.6 1183.5 177.1 1183.5 175.1 1184.2 171.2 1188.2 158 1190.5 153.1 1193.2 149.2 1197.2 145.8Z" fill="#c2c22c"/>
<path d="M1197.2 148 1200.8 146 1204.8 144.5 1210.2 143.6 1212.2 144 1223.8 148 1225.2 149 1230.2 151.1 1234.9 154.1 1236.8 155.7 1239.8 157.6 1245.2 163.6 1246.9 166.1 1248.7 169.6 1250 174.6 1249.9 178.6 1249.2 181 1247 185.6 1244.2 189.4 1238.1 195.1 1236.2 196 1232.8 198.6 1228.2 199.9 1222.2 200.5 1214.2 200 1206.2 198.2 1199.2 195.2 1193.2 191 1189.8 187.4 1186.8 183.1 1185 179.1 1184.4 175.6 1185.2 172 1188.8 161 1190.5 156.6 1193.5 151.6Z" fill="#d5be28"/>
<path d="M1197.2 150.3 1200.8 148 1205.2 146.4 1210.2 145.6 1215.2 145.5 1223.7 148.6 1224.8 149.3 1230.2 151.7 1234.8 154.5 1236.2 156 1239.8 158.3 1244.5 163.6 1246.6 166.6 1248.2 170 1248.5 171.6 1248.1 176.6 1246.9 181.1 1244.7 185.6 1241.8 189.5 1237.3 193.6 1232.6 196.1 1226.8 197.6 1219.8 198.1 1212.2 197.4 1204.8 195.5 1198.8 192.8 1193.2 188.8 1190.2 185.7 1187.7 182.1 1186 178.6 1185.6 175.6 1186.2 172.9 1191.5 158.1 1194.1 153.6Z" fill="#e5bb2d"/>
<path d="M1197.8 152.2 1201.8 149.6 1206.8 147.9 1212.8 147.4 1219.8 147.8 1223.2 148.9 1230.2 152.3 1239.3 158.6 1244.1 164.1 1245.2 167.6 1245.7 171.6 1245.4 175.6 1244.4 179.6 1242.6 183.6 1240.2 186.9 1236.2 190.8 1231.8 193.4 1226.2 195.1 1220.2 195.7 1213.2 195.3 1205.8 193.7 1199.8 191.3 1194.8 187.9 1191.7 185.1 1189 181.6 1187.3 178.1 1187 175.6 1192.8 159.1 1195.1 155.1Z" fill="#f4ba39"/>
<path d="M1198.2 154.1 1201.2 151.9 1205.2 150.2 1209.8 149.4 1215.2 149.3 1220.8 149.9 1226.2 151.2 1229.8 152.6 1234.2 155.5 1237.4 158.1 1239.6 161.1 1241.6 165.1 1242.6 169.1 1242.8 173.1 1242.3 176.6 1240.8 180.6 1238.8 184.1 1235.2 187.9 1231.2 190.6 1226.2 192.4 1220.8 193.3 1214.2 193.2 1206.8 191.9 1201.2 189.9 1196.5 187.1 1193.5 184.6 1191 181.6 1189.3 178.6 1188.7 176.1 1189.1 174.1 1190.9 169.6 1193.8 160.7 1195.8 157.1Z" fill="#febe3c"/>
<path d="M1198.8 156.1 1201.3 154.1 1204.8 152.3 1208.8 151.3 1213.2 151.1 1217.8 151.3 1222.8 152.3 1227.2 153.9 1231.1 156.1 1234.1 158.6 1236.6 161.6 1238.4 165.1 1239.5 168.6 1239.8 172.1 1239.5 175.1 1238.3 178.6 1236.7 181.6 1233.8 185.1 1230.2 187.7 1225.8 189.8 1220.8 190.8 1214.8 191 1207.8 190.1 1202.8 188.5 1198.2 186 1195.2 183.7 1192.9 181.1 1191.4 178.6 1190.8 176.1 1191.1 174.1 1194.8 162.6 1196.5 159.1Z" fill="#fec735"/>
<path d="M1200.8 156.8 1203.8 154.7 1206.8 153.6 1210.2 153 1214.2 152.9 1218.2 153.4 1222.2 154.4 1226.2 156.1 1229.2 157.9 1231.6 160.1 1233.8 162.8 1235.2 165.8 1236.2 169.1 1236.4 172.1 1236 175.1 1234.8 178.1 1233.2 180.7 1230.6 183.6 1227.1 186.1 1222.8 187.8 1218.2 188.6 1212.8 188.7 1207.8 188 1203.2 186.5 1198.8 183.9 1196.2 181.8 1194.4 179.6 1193.3 177.1 1193.2 175.1 1195.2 166.6 1196.4 163.1 1198.3 159.6Z" fill="#fcd12f"/>
<path d="M1202.2 158.1 1204.4 156.6 1207.2 155.4 1210.2 154.8 1213.8 154.7 1217.2 155.2 1220.8 156.2 1223.8 157.6 1226.8 159.5 1228.8 161.6 1230.6 164.1 1231.7 166.6 1232.4 169.6 1232.5 172.1 1232.1 174.6 1231.1 177.1 1229.6 179.6 1227.1 182.1 1223.8 184.3 1219.8 185.8 1215.8 186.5 1211.2 186.4 1207.2 185.6 1203.2 184.1 1199.8 181.8 1197.8 180.1 1196.4 178.1 1195.7 176.1 1195.7 173.6 1196.7 168.1 1198 164.1 1199.8 160.7Z" fill="#f7db2b"/>
<path d="M1205 158.6 1207.2 157.5 1210.2 156.8 1212.8 156.6 1215.2 156.9 1218.2 157.8 1220.8 158.9 1223.2 160.5 1224.9 162.1 1226.4 164.1 1227.5 166.6 1228 169.1 1228.1 171.6 1227.7 174.1 1227 176.1 1225.7 178.1 1223.9 180.1 1221.2 182 1218.2 183.3 1214.9 184.1 1211.8 184.1 1208.5 183.6 1205.2 182.3 1202.4 180.6 1200.2 178.6 1198.9 176.6 1198.2 174.5 1198.2 171.6 1198.8 168.1 1199.8 165 1201.2 162.1 1203 160.1Z" fill="#f5e526"/>
<path d="M1210.8 159 1212.8 158.9 1215.2 159.4 1219.4 161.6 1222.2 164.6 1223.1 166.6 1223.5 168.6 1223.5 171.6 1223.1 173.6 1222.3 175.6 1221.2 177 1219.7 178.6 1217.8 179.9 1215.8 180.8 1213.2 181.4 1211.2 181.3 1208.8 180.7 1204.8 178.6 1203 177.1 1201.9 175.6 1201.2 174.1 1200.8 172.1 1200.8 170.1 1201.3 167.6 1202.3 165.1 1203.5 163.1 1204.8 161.6 1206.3 160.6 1208.5 159.6Z" fill="#f5ef21"/>
<path d="M1210.2 162.4 1213.2 162.5 1215.7 163.6 1217.7 165.6 1218.7 168.1 1218.8 171.1 1217.8 173.8 1215.8 176 1213.2 177.1 1210.2 177.1 1207.8 176 1205.6 174.1 1204.4 171.6 1204.4 168.6 1205.7 165.6 1207.6 163.6Z" fill="#f8f818"/>
</g></g>
<path d="M1252.6 176.2L1252.1 172.3 1250.8 168.4 1248.5 164.6 1245.5 160.8 1241.7 157.2 1237.2 153.8 1232.2 150.4 1226.7 147.3 1220.9 144.5 1215 141.8 1209 139.4 1203.1 137.3 1197.4 135.5 1192 134 1187 132.8 1182.5 132 1178.7 131.5 1175.4 131.3 1172.8 131.5 1170.9 132 1169.6 132.8 1169 134 1169 135.5 1169.5 137.3 1170.5 139.4 1171.8 141.8 1173.5 144.5 1175.3 147.3 1177.2 150.4 1179.1 153.8 1180.8 157.2 1182.4 160.8 1183.7 164.6 1184.7 168.4 1185.3 172.3 1185.5 176.2 1185.3 180.1 1184.7 184 1183.7 187.8 1182.4 191.6 1180.8 195.2 1179.1 198.6 1177.2 202 1175.3 205.1 1173.5 207.9 1171.8 210.6 1170.5 213 1169.5 215.1 1169 216.9 1169 218.4 1169.6 219.6 1170.9 220.4 1172.8 220.9 1175.4 221.1 1178.7 220.9 1182.5 220.4 1187 219.6 1192 218.4 1197.4 216.9 1203.1 215.1 1209 213 1215 210.6 1220.9 207.9 1226.7 205.1 1232.2 202 1237.2 198.6 1241.7 195.2 1245.5 191.6 1248.5 187.8 1250.8 184 1252.1 180.1Z" fill="none" stroke="#ff0000" stroke-width="3.4" stroke-linejoin="round"/>
<path d="M1420.4 176.2L1420.1 174.2 1419.3 172.3 1417.8 170.5 1415.9 168.7 1413.5 167.1 1410.6 165.6 1407.3 164.3 1403.6 163.2 1399.7 162.4 1395.5 161.7 1391.2 161.4 1386.8 161.2 1382.5 161.4 1378.2 161.7 1374 162.4 1370.1 163.2 1366.4 164.3 1363.1 165.6 1360.2 167.1 1357.8 168.7 1355.8 170.5 1354.4 172.3 1353.6 174.2 1353.3 176.2 1353.6 178.2 1354.4 180.1 1355.8 181.9 1357.8 183.7 1360.2 185.3 1363.1 186.8 1366.4 188.1 1370.1 189.2 1374 190 1378.2 190.7 1382.5 191 1386.8 191.2 1391.2 191 1395.5 190.7 1399.7 190 1403.6 189.2 1407.3 188.1 1410.6 186.8 1413.5 185.3 1415.9 183.7 1417.8 181.9 1419.3 180.1 1420.1 178.2Z" fill="none" stroke="#ff0000" stroke-width="3.4" stroke-linejoin="round"/>
<rect x="1467.8" y="26.1" width="19" height="300.2" fill="url(#cbar)"/>
<rect x="1468.2" y="26.5" width="18.2" height="299.4" fill="none" stroke="#262626" stroke-opacity="0.55" stroke-width="0.8"/>
<line x1="1483.2" y1="265.9" x2="1486.2" y2="265.9" stroke="#262626" stroke-opacity="0.7" stroke-width="0.8"/>
<line x1="1483.2" y1="206" x2="1486.2" y2="206" stroke="#262626" stroke-opacity="0.7" stroke-width="0.8"/>
<line x1="1483.2" y1="146.2" x2="1486.2" y2="146.2" stroke="#262626" stroke-opacity="0.7" stroke-width="0.8"/>
<line x1="1483.2" y1="86.3" x2="1486.2" y2="86.3" stroke="#262626" stroke-opacity="0.7" stroke-width="0.8"/>
<text class="cb" x="1491.5" y="332.1">0</text>
<text class="cb" x="1491.5" y="272.3">0.2</text>
<text class="cb" x="1491.5" y="212.4">0.4</text>
<text class="cb" x="1491.5" y="152.6">0.6</text>
<text class="cb" x="1491.5" y="92.7">0.8</text>
<text class="cb" x="1491.5" y="32.9">1</text>
<text class="ax" x="1113" y="33.6" text-anchor="end">5</text>
<text class="ax" x="1112.3" y="183.2" text-anchor="end">0</text>
<text class="ax" x="1113" y="332.8" text-anchor="end">-5</text>
<text class="ax" x="1118.6" y="348.9" text-anchor="middle">-5</text>
<text class="ax" x="1286.5" y="348.9" text-anchor="middle">0</text>
<text class="ax" x="1454" y="348.9" text-anchor="middle">5</text>
</g>
<g id="p10">
<clipPath id="cp10"><rect x="55.1" y="507" width="337.3" height="300.8"/></clipPath>
<rect x="55.1" y="507" width="337.3" height="300.8" fill="#3e26a8"/>
<path d="M175.2 758.1L175.2 759.1 175.2 759.9 175.2 760.6 175.2 761.2 176 761.6 177.3 762 178.8 762.1 180.6 762.2 182.7 762 185 761.8 187.6 761.4 190.4 760.9 193.5 760.2 196.7 759.5 200.1 758.5 203.6 757.5 207.3 756.3 211 755 214.8 753.6 218.6 752.1 222.4 750.5 226.2 748.8 229.9 746.9 233.4 745 236.9 743 240.1 740.9 243.2 738.8 246 736.6 248.5 734.3 250.8 732 252.7 729.6 254.4 727.2 255.6 724.7 256.6 722.2 257.1 719.8 257.3 717.3 257.1 714.8 256.6 712.3 255.6 709.8 254.4 707.4 252.7 704.9 250.8 702.6 248.5 700.2 246 698 243.2 695.7 240.1 693.6 236.9 691.5 233.4 689.5 229.9 687.6 226.2 685.8 222.4 684 218.6 682.4 214.8 680.9 211 679.5 207.3 678.2 203.6 677 200.1 676 196.7 675.1 193.5 674.3 190.4 673.6 187.6 673.1 185 672.7 182.7 672.5 180.6 672.4 178.8 672.4 177.3 672.6 176 672.9 175.2 673.3 175.2 673.9 175.2 674.6 175.2 675.5 175.2 676.4Z" fill="#f9fb15"/>
<path d="M193.5 758.1L193.5 759.1 193.5 759.9 193.5 760.6 193.5 761.2 193.5 761.6 193.5 762 193.5 762.1 193.5 762.2 193.5 762 193.5 761.8 193.5 761.4 193.5 760.9 193.5 760.2 196.7 759.5 200.1 758.5 203.6 757.5 207.3 756.3 211 755 214.8 753.6 218.6 752.1 222.4 750.5 226.2 748.8 229.9 746.9 233.4 745 236.9 743 240.1 740.9 243.2 738.8 246 736.6 248.5 734.3 250.8 732 252.7 729.6 254.4 727.2 255.6 724.7 256.6 722.2 257.1 719.8 257.3 717.3 257.1 714.8 256.6 712.3 255.6 709.8 254.4 707.4 252.7 704.9 250.8 702.6 248.5 700.2 246 698 243.2 695.7 240.1 693.6 236.9 691.5 233.4 689.5 229.9 687.6 226.2 685.8 222.4 684 218.6 682.4 214.8 680.9 211 679.5 207.3 678.2 203.6 677 200.1 676 196.7 675.1 193.5 674.3 193.5 673.6 193.5 673.1 193.5 672.7 193.5 672.5 193.5 672.4 193.5 672.4 193.5 672.6 193.5 672.9 193.5 673.3 193.5 673.9 193.5 674.6 193.5 675.5 193.5 676.4Z" fill="#f9fb15" transform="translate(1.2 -1.7)"/>
<path d="M175.2 748.7L175.2 763.7 183.5 763.7 181.8 758.6Z" fill="#3e26a8"/>
<path d="M257.3 567.6L257 565.7 256.2 563.7 254.8 561.9 252.8 560.1 250.4 558.5 247.5 557 244.2 555.7 240.5 554.6 236.6 553.8 232.4 553.2 228.1 552.8 223.8 552.6 219.4 552.8 215.1 553.2 210.9 553.8 207 554.6 203.3 555.7 200 557 197.1 558.5 194.7 560.1 192.7 561.9 191.3 563.7 190.5 565.7 190.2 567.6 190.5 569.6 191.3 571.5 192.7 573.3 194.7 575.1 197.1 576.7 200 578.2 203.3 579.5 207 580.6 210.9 581.4 215.1 582.1 219.4 582.4 223.8 582.6 228.1 582.4 232.4 582.1 236.6 581.4 240.5 580.6 244.2 579.5 247.5 578.2 250.4 576.7 252.8 575.1 254.8 573.3 256.2 571.5 257 569.6Z" fill="#f9fb15"/>
<path d="M257.3 717.3L256.9 713.3 255.5 709.5 253.2 705.6 250.2 701.9 246.4 698.3 241.9 694.8 236.9 691.5 231.4 688.4 225.7 685.5 219.7 682.9 213.7 680.5 207.8 678.4 202.1 676.6 196.7 675.1 191.7 673.9 187.3 673 183.4 672.5 180.1 672.4 177.5 672.5 175.6 673 174.4 673.9 173.7 675.1 173.7 676.6 174.2 678.4 175.2 680.5 176.6 682.9 178.2 685.5 180 688.4 181.9 691.5 183.8 694.8 185.5 698.3 187.1 701.9 188.4 705.6 189.4 709.5 190 713.3 190.2 717.3 190 721.2 189.4 725.1 188.4 728.9 187.1 732.6 185.5 736.2 183.8 739.7 181.9 743 180 746.1 178.2 749 176.6 751.7 175.2 754 174.2 756.1 173.7 757.9 173.7 759.4 174.4 760.6 175.6 761.5 177.5 762 180.1 762.2 183.4 762 187.3 761.5 191.7 760.6 196.7 759.4 202.1 757.9 207.8 756.1 213.7 754 219.7 751.7 225.7 749 231.4 746.1 236.9 743 241.9 739.7 246.4 736.2 250.2 732.6 253.2 728.9 255.5 725.1 256.9 721.2Z" fill="none" stroke="#ff0000" stroke-width="3.4" stroke-linejoin="round"/>
<path d="M257.3 567.6L257 565.7 256.2 563.7 254.8 561.9 252.8 560.1 250.4 558.5 247.5 557 244.2 555.7 240.5 554.6 236.6 553.8 232.4 553.2 228.1 552.8 223.8 552.6 219.4 552.8 215.1 553.2 210.9 553.8 207 554.6 203.3 555.7 200 557 197.1 558.5 194.7 560.1 192.7 561.9 191.3 563.7 190.5 565.7 190.2 567.6 190.5 569.6 191.3 571.5 192.7 573.3 194.7 575.1 197.1 576.7 200 578.2 203.3 579.5 207 580.6 210.9 581.4 215.1 582.1 219.4 582.4 223.8 582.6 228.1 582.4 232.4 582.1 236.6 581.4 240.5 580.6 244.2 579.5 247.5 578.2 250.4 576.7 252.8 575.1 254.8 573.3 256.2 571.5 257 569.6Z" fill="none" stroke="#ff0000" stroke-width="3.4" stroke-linejoin="round"/>
<rect x="405.4" y="507.3" width="19" height="300.2" fill="url(#cbar)"/>
<rect x="405.8" y="507.7" width="18.2" height="299.4" fill="none" stroke="#262626" stroke-opacity="0.55" stroke-width="0.8"/>
<line x1="420.8" y1="747.1" x2="423.8" y2="747.1" stroke="#262626" stroke-opacity="0.7" stroke-width="0.8"/>
<line x1="420.8" y1="687.2" x2="423.8" y2="687.2" stroke="#262626" stroke-opacity="0.7" stroke-width="0.8"/>
<line x1="420.8" y1="627.4" x2="423.8" y2="627.4" stroke="#262626" stroke-opacity="0.7" stroke-width="0.8"/>
<line x1="420.8" y1="567.5" x2="423.8" y2="567.5" stroke="#262626" stroke-opacity="0.7" stroke-width="0.8"/>
<text class="cb" x="429.1" y="813.3">0</text>
<text class="cb" x="429.1" y="753.5">0.2</text>
<text class="cb" x="429.1" y="693.6">0.4</text>
<text class="cb" x="429.1" y="633.8">0.6</text>
<text class="cb" x="429.1" y="573.9">0.8</text>
<text class="cb" x="429.1" y="514.1">1</text>
<text class="ax" x="50.6" y="514.8" text-anchor="end">5</text>
<text class="ax" x="49.9" y="664.4" text-anchor="end">0</text>
<text class="ax" x="50.6" y="814" text-anchor="end">-5</text>
<text class="ax" x="56.2" y="830.1" text-anchor="middle">-5</text>
<text class="ax" x="224.1" y="830.1" text-anchor="middle">0</text>
<text class="ax" x="391.6" y="830.1" text-anchor="middle">5</text>
</g>
<g id="p11">
<clipPath id="cp11"><rect x="586.4" y="507" width="337.3" height="300.8"/></clipPath>
<rect x="586.4" y="507" width="337.3" height="300.8" fill="#3e26a8"/>
<path d="M639.4 758.1L639.4 759.1 639.4 759.9 639.4 760.6 639.4 761.2 640.2 761.6 641.5 762 643 762.1 644.8 762.2 646.9 762 649.2 761.8 651.8 761.4 654.6 760.9 657.6 760.2 660.8 759.5 664.2 758.5 667.8 757.5 671.4 756.3 675.2 755 679 753.6 682.8 752.1 686.6 750.5 690.4 748.8 694 746.9 697.6 745 701 743 704.3 740.9 707.4 738.8 710.2 736.6 712.7 734.3 715 732 716.9 729.6 718.5 727.2 719.8 724.7 720.7 722.2 721.3 719.8 721.5 717.3 721.3 714.8 720.7 712.3 719.8 709.8 718.5 707.4 716.9 704.9 715 702.6 712.7 700.2 710.2 698 707.4 695.7 704.3 693.6 701 691.5 697.6 689.5 694 687.6 690.4 685.8 686.6 684 682.8 682.4 679 680.9 675.2 679.5 671.4 678.2 667.8 677 664.2 676 660.8 675.1 657.6 674.3 654.6 673.6 651.8 673.1 649.2 672.7 646.9 672.5 644.8 672.4 643 672.4 641.5 672.6 640.2 672.9 639.4 673.3 639.4 673.9 639.4 674.6 639.4 675.5 639.4 676.4Z" fill="#f9fb15"/>
<path d="M657.7 758.1L657.7 759.1 657.7 759.9 657.7 760.6 657.7 761.2 657.7 761.6 657.7 762 657.7 762.1 657.7 762.2 657.7 762 657.7 761.8 657.7 761.4 657.7 760.9 657.7 760.2 660.8 759.5 664.2 758.5 667.8 757.5 671.4 756.3 675.2 755 679 753.6 682.8 752.1 686.6 750.5 690.4 748.8 694 746.9 697.6 745 701 743 704.3 740.9 707.4 738.8 710.2 736.6 712.7 734.3 715 732 716.9 729.6 718.5 727.2 719.8 724.7 720.7 722.2 721.3 719.8 721.5 717.3 721.3 714.8 720.7 712.3 719.8 709.8 718.5 707.4 716.9 704.9 715 702.6 712.7 700.2 710.2 698 707.4 695.7 704.3 693.6 701 691.5 697.6 689.5 694 687.6 690.4 685.8 686.6 684 682.8 682.4 679 680.9 675.2 679.5 671.4 678.2 667.8 677 664.2 676 660.8 675.1 657.7 674.3 657.7 673.6 657.7 673.1 657.7 672.7 657.7 672.5 657.7 672.4 657.7 672.4 657.7 672.6 657.7 672.9 657.7 673.3 657.7 673.9 657.7 674.6 657.7 675.5 657.7 676.4Z" fill="#f9fb15" transform="translate(1.2 -1.7)"/>
<rect x="637.2" y="698.1" width="7.1" height="48.2" fill="#f9fb15"/><rect x="869.2" y="561.6" width="5.9" height="6.9" fill="#f9fb15"/>
<path d="M872.5 567.6L872.4 563.7 871.9 559.9 871.2 556.2 870.3 552.6 869 549.4 867.6 546.4 866 543.9 864.1 541.7 862.2 540 860.1 538.7 857.9 537.9 855.7 537.7 853.5 537.9 851.4 538.7 849.3 540 847.3 541.7 845.5 543.9 843.9 546.4 842.4 549.4 841.2 552.6 840.2 556.2 839.5 559.9 839.1 563.7 839 567.6 839.1 571.5 839.5 575.4 840.2 579.1 841.2 582.6 842.4 585.8 843.9 588.8 845.5 591.4 847.3 593.5 849.3 595.3 851.4 596.5 853.5 597.3 855.7 597.5 857.9 597.3 860.1 596.5 862.2 595.3 864.1 593.5 866 591.4 867.6 588.8 869 585.8 870.3 582.6 871.2 579.1 871.9 575.4 872.4 571.5Z" fill="#f9fb15"/>
<path d="M721.5 717.3L721 713.3 719.7 709.5 717.4 705.6 714.4 701.9 710.6 698.3 706.1 694.8 701.1 691.5 695.6 688.4 689.8 685.5 683.9 682.9 677.9 680.5 672 678.4 666.3 676.6 660.9 675.1 655.9 673.9 651.4 673 647.6 672.5 644.3 672.4 641.7 672.5 639.8 673 638.5 673.9 637.9 675.1 637.9 676.6 638.4 678.4 639.4 680.5 640.7 682.9 642.4 685.5 644.2 688.4 646.1 691.5 648 694.8 649.7 698.3 651.3 701.9 652.6 705.6 653.6 709.5 654.2 713.3 654.4 717.3 654.2 721.2 653.6 725.1 652.6 728.9 651.3 732.6 649.7 736.2 648 739.7 646.1 743 644.2 746.1 642.4 749 640.7 751.7 639.4 754 638.4 756.1 637.9 757.9 637.9 759.4 638.5 760.6 639.8 761.5 641.7 762 644.3 762.2 647.6 762 651.4 761.5 655.9 760.6 660.9 759.4 666.3 757.9 672 756.1 677.9 754 683.9 751.7 689.8 749 695.6 746.1 701.1 743 706.1 739.7 710.6 736.2 714.4 732.6 717.4 728.9 719.7 725.1 721 721.2Z" fill="none" stroke="#ff0000" stroke-width="3.4" stroke-linejoin="round"/>
<path d="M872.5 567.6L872.4 563.7 871.9 559.9 871.2 556.2 870.3 552.6 869 549.4 867.6 546.4 866 543.9 864.1 541.7 862.2 540 860.1 538.7 857.9 537.9 855.7 537.7 853.5 537.9 851.4 538.7 849.3 540 847.3 541.7 845.5 543.9 843.9 546.4 842.4 549.4 841.2 552.6 840.2 556.2 839.5 559.9 839.1 563.7 839 567.6 839.1 571.5 839.5 575.4 840.2 579.1 841.2 582.6 842.4 585.8 843.9 588.8 845.5 591.4 847.3 593.5 849.3 595.3 851.4 596.5 853.5 597.3 855.7 597.5 857.9 597.3 860.1 596.5 862.2 595.3 864.1 593.5 866 591.4 867.6 588.8 869 585.8 870.3 582.6 871.2 579.1 871.9 575.4 872.4 571.5Z" fill="none" stroke="#ff0000" stroke-width="3.4" stroke-linejoin="round"/>
<rect x="936.7" y="507.3" width="19" height="300.2" fill="url(#cbar)"/>
<rect x="937.1" y="507.7" width="18.2" height="299.4" fill="none" stroke="#262626" stroke-opacity="0.55" stroke-width="0.8"/>
<line x1="952.1" y1="747.1" x2="955.1" y2="747.1" stroke="#262626" stroke-opacity="0.7" stroke-width="0.8"/>
<line x1="952.1" y1="687.2" x2="955.1" y2="687.2" stroke="#262626" stroke-opacity="0.7" stroke-width="0.8"/>
<line x1="952.1" y1="627.4" x2="955.1" y2="627.4" stroke="#262626" stroke-opacity="0.7" stroke-width="0.8"/>
<line x1="952.1" y1="567.5" x2="955.1" y2="567.5" stroke="#262626" stroke-opacity="0.7" stroke-width="0.8"/>
<text class="cb" x="960.4" y="813.3">0</text>
<text class="cb" x="960.4" y="753.5">0.2</text>
<text class="cb" x="960.4" y="693.6">0.4</text>
<text class="cb" x="960.4" y="633.8">0.6</text>
<text class="cb" x="960.4" y="573.9">0.8</text>
<text class="cb" x="960.4" y="514.1">1</text>
<text class="ax" x="581.9" y="514.8" text-anchor="end">5</text>
<text class="ax" x="581.2" y="664.4" text-anchor="end">0</text>
<text class="ax" x="581.9" y="814" text-anchor="end">-5</text>
<text class="ax" x="587.5" y="830.1" text-anchor="middle">-5</text>
<text class="ax" x="755.3" y="830.1" text-anchor="middle">0</text>
<text class="ax" x="922.9" y="830.1" text-anchor="middle">5</text>
</g>
<g id="p12">
<clipPath id="cp12"><rect x="1117.5" y="507" width="337.3" height="300.8"/></clipPath>
<rect x="1117.5" y="507" width="337.3" height="300.8" fill="#3e26a8"/>
<path d="M1170.5 698.2L1170.5 699.2 1170.5 700 1170.5 700.8 1170.5 701.3 1171.3 701.8 1172.6 702.1 1174.1 702.3 1175.9 702.3 1178 702.2 1180.3 701.9 1182.9 701.6 1185.7 701 1188.7 700.4 1191.9 699.6 1195.3 698.7 1198.9 697.6 1202.5 696.5 1206.3 695.2 1210.1 693.8 1213.9 692.3 1217.7 690.6 1221.5 688.9 1225.1 687.1 1228.7 685.2 1232.1 683.2 1235.4 681.1 1238.5 678.9 1241.3 676.7 1243.8 674.4 1246.1 672.1 1248 669.7 1249.6 667.3 1250.9 664.8 1251.8 662.4 1252.4 659.9 1252.6 657.4 1252.4 654.9 1251.8 652.4 1250.9 650 1249.6 647.5 1248 645.1 1246.1 642.7 1243.8 640.4 1241.3 638.1 1238.5 635.9 1235.4 633.7 1232.1 631.6 1228.7 629.6 1225.1 627.7 1221.5 625.9 1217.7 624.2 1213.9 622.5 1210.1 621 1206.3 619.6 1202.5 618.3 1198.9 617.2 1195.3 616.1 1191.9 615.2 1188.7 614.4 1185.7 613.8 1182.9 613.2 1180.3 612.9 1178 612.6 1175.9 612.5 1174.1 612.5 1172.6 612.7 1171.3 613 1170.5 613.5 1170.5 614 1170.5 614.8 1170.5 615.6 1170.5 616.6Z" fill="#f9fb15"/>
<path d="M1188.8 698.2L1188.8 699.2 1188.8 700 1188.8 700.8 1188.8 701.3 1188.8 701.8 1188.8 702.1 1188.8 702.3 1188.8 702.3 1188.8 702.2 1188.8 701.9 1188.8 701.6 1188.8 701 1188.8 700.4 1191.9 699.6 1195.3 698.7 1198.9 697.6 1202.5 696.5 1206.3 695.2 1210.1 693.8 1213.9 692.3 1217.7 690.6 1221.5 688.9 1225.1 687.1 1228.7 685.2 1232.1 683.2 1235.4 681.1 1238.5 678.9 1241.3 676.7 1243.8 674.4 1246.1 672.1 1248 669.7 1249.6 667.3 1250.9 664.8 1251.8 662.4 1252.4 659.9 1252.6 657.4 1252.4 654.9 1251.8 652.4 1250.9 650 1249.6 647.5 1248 645.1 1246.1 642.7 1243.8 640.4 1241.3 638.1 1238.5 635.9 1235.4 633.7 1232.1 631.6 1228.7 629.6 1225.1 627.7 1221.5 625.9 1217.7 624.2 1213.9 622.5 1210.1 621 1206.3 619.6 1202.5 618.3 1198.9 617.2 1195.3 616.1 1191.9 615.2 1188.8 614.4 1188.8 613.8 1188.8 613.2 1188.8 612.9 1188.8 612.6 1188.8 612.5 1188.8 612.5 1188.8 612.7 1188.8 613 1188.8 613.5 1188.8 614 1188.8 614.8 1188.8 615.6 1188.8 616.6Z" fill="#f9fb15" transform="translate(1.2 -1.7)"/>
<path d="M1170.5 688.8L1170.5 703.8 1178.8 703.8 1177.1 698.7Z" fill="#3e26a8"/><rect x="1169.5" y="636.4" width="5.9" height="44.9" fill="#f9fb15"/><path d="M1414.7 656.5L1414.4 654.2 1413.7 652 1412.4 649.8 1410.6 647.7 1408.5 645.8 1405.8 644.1 1402.9 642.6 1399.6 641.3 1396 640.3 1392.3 639.6 1388.4 639.1 1384.5 639 1380.5 639.1 1376.7 639.6 1372.9 640.3 1369.4 641.3 1366.1 642.6 1363.1 644.1 1360.5 645.8 1358.3 647.7 1356.6 649.8 1355.3 652 1354.5 654.2 1354.3 656.5 1354.5 658.8 1355.3 661 1356.6 663.2 1358.3 665.3 1360.5 667.2 1363.1 668.9 1366.1 670.4 1369.4 671.7 1372.9 672.7 1376.7 673.4 1380.5 673.9 1384.5 674 1388.4 673.9 1392.3 673.4 1396 672.7 1399.6 671.7 1402.9 670.4 1405.8 668.9 1408.5 667.2 1410.6 665.3 1412.4 663.2 1413.7 661 1414.4 658.8Z" fill="#f9fb15"/><rect x="1374.1" y="639" width="16.1" height="6.4" fill="#f9fb15"/><rect x="1375.1" y="669.4" width="16.8" height="5.8" fill="#f9fb15"/>
<path d="M1420.4 657.4L1420.1 655.4 1419.3 653.5 1417.8 651.7 1415.9 649.9 1413.5 648.3 1410.6 646.8 1407.3 645.5 1403.6 644.4 1399.7 643.6 1395.5 642.9 1391.2 642.6 1386.8 642.4 1382.5 642.6 1378.2 642.9 1374 643.6 1370.1 644.4 1366.4 645.5 1363.1 646.8 1360.2 648.3 1357.8 649.9 1355.8 651.7 1354.4 653.5 1353.6 655.4 1353.3 657.4 1353.6 659.4 1354.4 661.3 1355.8 663.1 1357.8 664.9 1360.2 666.5 1363.1 668 1366.4 669.3 1370.1 670.4 1374 671.2 1378.2 671.9 1382.5 672.2 1386.8 672.4 1391.2 672.2 1395.5 671.9 1399.7 671.2 1403.6 670.4 1407.3 669.3 1410.6 668 1413.5 666.5 1415.9 664.9 1417.8 663.1 1419.3 661.3 1420.1 659.4Z" fill="#f9fb15"/>
<path d="M1252.6 657.4L1252.1 653.5 1250.8 649.6 1248.5 645.8 1245.5 642 1241.7 638.4 1237.2 635 1232.2 631.6 1226.7 628.5 1220.9 625.7 1215 623 1209 620.6 1203.1 618.5 1197.4 616.7 1192 615.2 1187 614 1182.5 613.2 1178.7 612.7 1175.4 612.5 1172.8 612.7 1170.9 613.2 1169.6 614 1169 615.2 1169 616.7 1169.5 618.5 1170.5 620.6 1171.8 623 1173.5 625.7 1175.3 628.5 1177.2 631.6 1179.1 635 1180.8 638.4 1182.4 642 1183.7 645.8 1184.7 649.6 1185.3 653.5 1185.5 657.4 1185.3 661.3 1184.7 665.2 1183.7 669 1182.4 672.8 1180.8 676.4 1179.1 679.8 1177.2 683.2 1175.3 686.3 1173.5 689.1 1171.8 691.8 1170.5 694.2 1169.5 696.3 1169 698.1 1169 699.6 1169.6 700.8 1170.9 701.6 1172.8 702.1 1175.4 702.3 1178.7 702.1 1182.5 701.6 1187 700.8 1192 699.6 1197.4 698.1 1203.1 696.3 1209 694.2 1215 691.8 1220.9 689.1 1226.7 686.3 1232.2 683.2 1237.2 679.8 1241.7 676.4 1245.5 672.8 1248.5 669 1250.8 665.2 1252.1 661.3Z" fill="none" stroke="#ff0000" stroke-width="3.4" stroke-linejoin="round"/>
<path d="M1420.4 657.4L1420.1 655.4 1419.3 653.5 1417.8 651.7 1415.9 649.9 1413.5 648.3 1410.6 646.8 1407.3 645.5 1403.6 644.4 1399.7 643.6 1395.5 642.9 1391.2 642.6 1386.8 642.4 1382.5 642.6 1378.2 642.9 1374 643.6 1370.1 644.4 1366.4 645.5 1363.1 646.8 1360.2 648.3 1357.8 649.9 1355.8 651.7 1354.4 653.5 1353.6 655.4 1353.3 657.4 1353.6 659.4 1354.4 661.3 1355.8 663.1 1357.8 664.9 1360.2 666.5 1363.1 668 1366.4 669.3 1370.1 670.4 1374 671.2 1378.2 671.9 1382.5 672.2 1386.8 672.4 1391.2 672.2 1395.5 671.9 1399.7 671.2 1403.6 670.4 1407.3 669.3 1410.6 668 1413.5 666.5 1415.9 664.9 1417.8 663.1 1419.3 661.3 1420.1 659.4Z" fill="none" stroke="#ff0000" stroke-width="3.4" stroke-linejoin="round"/>
<rect x="1467.8" y="507.3" width="19" height="300.2" fill="url(#cbar)"/>
<rect x="1468.2" y="507.7" width="18.2" height="299.4" fill="none" stroke="#262626" stroke-opacity="0.55" stroke-width="0.8"/>
<line x1="1483.2" y1="747.1" x2="1486.2" y2="747.1" stroke="#262626" stroke-opacity="0.7" stroke-width="0.8"/>
<line x1="1483.2" y1="687.2" x2="1486.2" y2="687.2" stroke="#262626" stroke-opacity="0.7" stroke-width="0.8"/>
<line x1="1483.2" y1="627.4" x2="1486.2" y2="627.4" stroke="#262626" stroke-opacity="0.7" stroke-width="0.8"/>
<line x1="1483.2" y1="567.5" x2="1486.2" y2="567.5" stroke="#262626" stroke-opacity="0.7" stroke-width="0.8"/>
<text class="cb" x="1491.5" y="813.3">0</text>
<text class="cb" x="1491.5" y="753.5">0.2</text>
<text class="cb" x="1491.5" y="693.6">0.4</text>
<text class="cb" x="1491.5" y="633.8">0.6</text>
<text class="cb" x="1491.5" y="573.9">0.8</text>
<text class="cb" x="1491.5" y="514.1">1</text>
<text class="ax" x="1113" y="514.8" text-anchor="end">5</text>
<text class="ax" x="1112.3" y="664.4" text-anchor="end">0</text>
<text class="ax" x="1113" y="814" text-anchor="end">-5</text>
<text class="ax" x="1118.6" y="830.1" text-anchor="middle">-5</text>
<text class="ax" x="1286.5" y="830.1" text-anchor="middle">0</text>
<text class="ax" x="1454" y="830.1" text-anchor="middle">5</text>
</g>
<g><text class="r" transform="matrix(0.958 0 0 1.001 0 429.8)" x="103.7 117.4 136.8">(a)</text> <text class="i" transform="matrix(1.093 0 0 0.984 160.6 429.2)">F</text> <text class="r" transform="matrix(1.452 0 0 0.878 195.19 431.36)">=</text> <text class="r" transform="matrix(0.885 0 0 1.053 235.95 429.84)">(</text><text class="i" transform="matrix(1.062 0 0 0.918 249.48 429.5)">x</text><text class="s" transform="matrix(0.942 0 0 0.939 269.04 433.1)">1</text> <text class="p" transform="matrix(1.036 0 0 1.031 290.18 432.5)">+</text> <text class="r" transform="matrix(0.936 0 0 1.002 0 429.8)" x="350.5 370.1">10</text><text class="r" transform="matrix(0.863 0 0 1.053 364.49 429.84)">)</text><text class="i" transform="matrix(1.056 0 0 1.029 377.59 429.13)">t</text></g>
<g><text class="r" transform="matrix(0.955 0 0 1.022 0 429.8)" x="611.8 626.5 646.2">(b)</text> <text class="i" transform="matrix(1.111 0 0 0.984 646 429.2)">F</text> <text class="r" transform="matrix(1.416 0 0 0.878 681.35 431.36)">=</text> <text class="r" transform="matrix(0.885 0 0 1.053 721.85 429.84)">(</text><text class="i" transform="matrix(1.093 0 0 0.918 734.89 429.5)">x</text><text class="s" transform="matrix(0.976 0 0 0.897 754.67 435.5)">1</text><text class="s" transform="matrix(1.093 0 0 0.906 754.24 414.4)">2</text> <text class="p" transform="matrix(1.031 0 0 1.031 776 432.5)">+</text> <text class="i" transform="matrix(1.093 0 0 0.918 814.69 429.5)">x</text><text class="s" transform="matrix(1.153 0 0 0.894 833.98 435.5)">2</text><text class="s" transform="matrix(1.153 0 0 0.906 833.98 414.4)">2</text> <text class="p" transform="matrix(1.031 0 0 1.031 856 432.5)">+</text> <text class="r" transform="matrix(0.932 0 0 1.002 0 429.8)" x="958 977.8">10</text><text class="r" transform="matrix(0.895 0 0 1.053 930.25 429.84)">)</text><text class="i" transform="matrix(1.089 0 0 1.029 942.94 429.13)">t</text></g>
<g><text class="r" transform="matrix(0.918 0 0 1.001 0 429.8)" x="1267 1280.9 1299.5">(c)</text> <text class="i" transform="matrix(1.093 0 0 0.984 1221.7 429.2)">F</text> <text class="r" transform="matrix(1.416 0 0 0.878 1256.35 431.36)">=</text> <text class="r" transform="matrix(0.885 0 0 1.053 1296.65 429.84)">(</text><text class="i" transform="matrix(1.062 0 0 0.918 1310.28 429.5)">x</text><text class="s" transform="matrix(1.063 0 0 0.936 1329.57 433.1)">2</text> <text class="p" transform="matrix(1.031 0 0 1.031 1351.3 432.5)">+</text> <text class="r" transform="matrix(0.94 0 0 1.002 0 429.8)" x="1478.2 1497.8">10</text><text class="r" transform="matrix(0.863 0 0 1.053 1425.39 429.84)">)</text><text class="i" transform="matrix(1.056 0 0 1.029 1438.49 429.13)">t</text></g>
<g><text class="r" transform="matrix(0.976 0 0 1.022 0 911.1)" x="24.7 38.3 58.5">(d)</text> <text class="i" transform="matrix(1.102 0 0 0.984 86.4 910.5)">F</text> <text class="r" transform="matrix(1.404 0 0 0.878 121.57 912.66)">=</text> <text class="r" transform="matrix(0.885 0 0 1.053 162.25 911.14)">(</text><text class="i" transform="matrix(1.099 0 0 0.918 175.19 910.8)">x</text><text class="s" transform="matrix(1.01 0 0 0.939 194.69 914.4)">1</text> <text class="p" transform="matrix(1.04 0 0 1.031 216.17 913.8)">+</text> <text class="r" transform="matrix(0.943 0 0 1.002 0 911.1)" x="269 288.4">10</text><text class="r" transform="matrix(0.863 0 0 1.053 290.49 911.14)">)</text><text class="i" transform="matrix(1.133 0 0 1.029 302.86 910.43)">t</text><text class="r" transform="matrix(0.796 0 0 1.057 318.32 910.8)">,</text> <text class="i" transform="matrix(1.014 0 0 0.92 338.77 910.67)">ε</text> <text class="r" transform="matrix(1.428 0 0 0.878 364.03 912.66)">=</text> <text class="r" transform="matrix(0.979 0 0 0.979 0 911.1)" x="411.1 429.8 439.1 457.7">0.30</text></g>
<g><text class="r" transform="matrix(0.935 0 0 1.001 0 911.1)" x="553.8 567.8 586">(e)</text> <text class="i" transform="matrix(1.107 0 0 0.984 576.6 910.5)">F</text> <text class="r" transform="matrix(1.428 0 0 0.878 611.63 912.66)">=</text> <text class="r" transform="matrix(0.874 0 0 1.053 651.66 911.14)">(</text><text class="i" transform="matrix(1.062 0 0 0.918 664.88 910.8)">x</text><text class="s" transform="matrix(0.976 0 0 0.897 684.27 916.8)">1</text><text class="s" transform="matrix(1.093 0 0 0.906 683.84 895.7)">2</text> <text class="p" transform="matrix(1.04 0 0 1.031 705.47 913.8)">+</text> <text class="i" transform="matrix(1.074 0 0 0.918 743.88 910.8)">x</text><text class="s" transform="matrix(1.143 0 0 0.894 762.79 916.8)">2</text><text class="s" transform="matrix(1.143 0 0 0.906 762.79 895.7)">2</text> <text class="p" transform="matrix(1.04 0 0 1.031 784.47 913.8)">+</text> <text class="r" transform="matrix(0.943 0 0 1.002 0 911.1)" x="871.6 890.9">10</text><text class="r" transform="matrix(0.874 0 0 1.053 858.78 911.14)">)</text><text class="i" transform="matrix(1.111 0 0 1.029 871.1 910.43)">t</text><text class="r" transform="matrix(0.796 0 0 1.057 886.62 910.8)">,</text> <text class="i" transform="matrix(1.029 0 0 0.92 906.36 910.67)">ε</text> <text class="r" transform="matrix(1.434 0 0 0.878 931.72 912.66)">=</text> <text class="r" transform="matrix(0.981 0 0 0.979 0 911.1)" x="989.9 1008.8 1018 1036.7">0.30</text></g>
<g><text class="r" transform="matrix(0.955 0 0 1.022 0 911.1)" x="1141.8 1155.5 1168">(f)</text> <text class="i" transform="matrix(1.102 0 0 0.984 1144.4 910.5)">F</text> <text class="r" transform="matrix(1.428 0 0 0.878 1179.23 912.66)">=</text> <text class="r" transform="matrix(0.895 0 0 1.053 1219.73 911.14)">(</text><text class="i" transform="matrix(1.099 0 0 0.918 1233.29 910.8)">x</text><text class="s" transform="matrix(1.073 0 0 0.936 1252.56 914.4)">2</text> <text class="p" transform="matrix(1.049 0 0 1.031 1273.73 913.8)">+</text> <text class="r" transform="matrix(0.961 0 0 1.002 0 911.1)" x="1364.4 1383.6">10</text><text class="r" transform="matrix(0.863 0 0 1.053 1348.59 911.14)">)</text><text class="i" transform="matrix(1.122 0 0 1.029 1360.78 910.43)">t</text><text class="r" transform="matrix(0.796 0 0 1.057 1376.23 910.8)">,</text> <text class="i" transform="matrix(1.029 0 0 0.92 1396.46 910.67)">ε</text> <text class="r" transform="matrix(1.422 0 0 0.878 1421.94 912.66)">=</text> <text class="r" transform="matrix(0.991 0 0 0.979 0 911.1)" x="1474.1 1492.7 1501.8 1520.2">0.30</text></g>
</svg>
</body></html>
